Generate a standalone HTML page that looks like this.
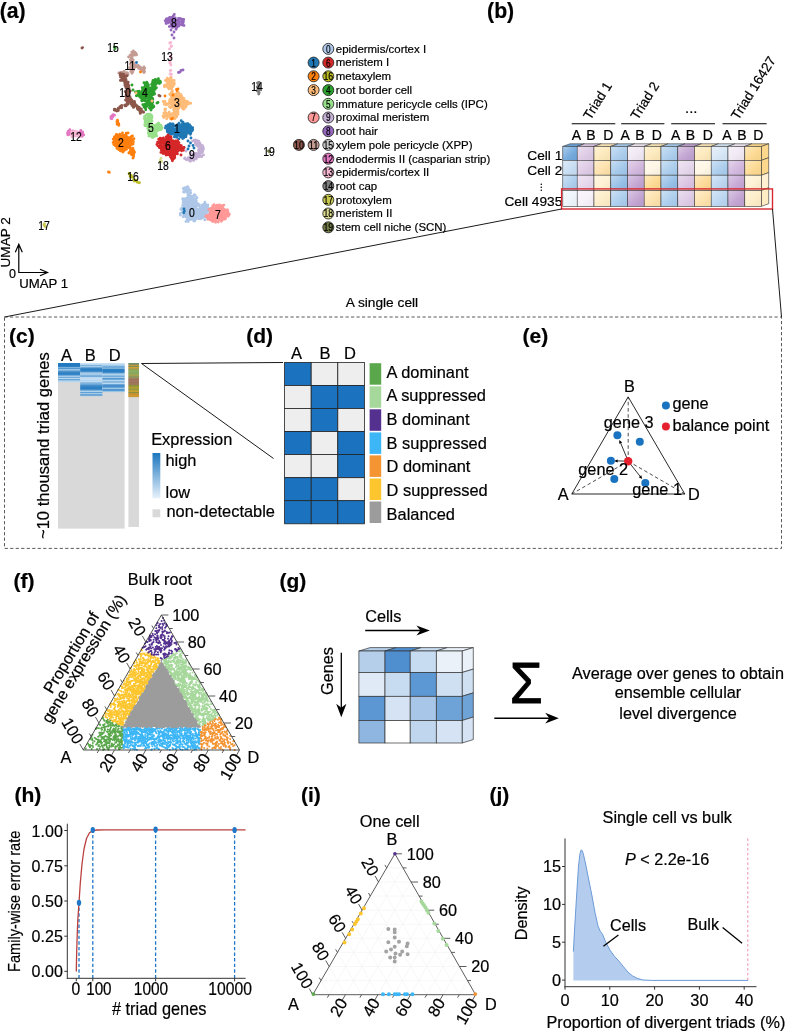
<!DOCTYPE html>
<html lang="en">
<head>
<meta charset="utf-8">
<title>Figure</title>
<style>
html,body{margin:0;padding:0;background:#fff;}
body{width:786px;height:1033px;overflow:hidden;}
svg{display:block;font-family:'Liberation Sans', Arial, Helvetica, sans-serif;}
svg text{stroke:#000;stroke-width:0.2px;}
</style>
</head>
<body>
<svg width="786" height="1033" viewBox="0 0 786 1033">
<rect x="0" y="0" width="786" height="1033" fill="#ffffff"/>
<g id="panel-a">
<text x="-0.3" y="18.1" font-size="21.2" font-weight="bold">(a)</text>
<path d="M171.6 46.1h0M170.3 42.6h0M170.8 42.6h0M171.3 46.5h0M171.2 45.9h0M169.8 43h0M169.5 48.9h0M170.9 56h0M170.9 57.8h0M170.9 65h0M169.9 63h0M170.9 56.8h0M170 63.1h0M169.9 62h0M170.3 63.4h0M170.1 74h0M171 77.2h0M170.2 70.6h0M170.9 70.4h0M171.4 74.2h0M171.1 77.7h0M170.7 74h0" stroke="#f7b6d2" stroke-width="2.9" stroke-linecap="round" fill="none"/>
<path d="M176 24.3h0M171.6 20.2h0M174.6 22.6h0M172.6 24.8h0M175.5 23.7h0M174.4 24.1h0M176.2 24.3h0M174.8 24.2h0M172 25.2h0M165.2 20.7h0M168.9 19.2h0M167.6 22.9h0M166.1 23.6h0M168.5 21.3h0M168.2 22.4h0M167.9 23h0M166.9 21h0M169.1 21.6h0M174.3 22h0M170.6 22.4h0M172.2 22.2h0M174.2 21.3h0M174 21h0M171.4 23.4h0M173.9 23.7h0M172.9 22.8h0M172.6 23.4h0M172.7 17.9h0M172.9 18.6h0M174.6 18.3h0M171.4 17.4h0M171.9 19.1h0M171.5 18.4h0M174.3 14.5h0M170.5 18.2h0M172.5 18.2h0M172.3 19.2h0M175.1 20.3h0M171.3 19.7h0M171.7 19.8h0M168.4 19.2h0M173.3 18.3h0M171.9 21.1h0M173.1 21.8h0M169.8 19.4h0M173.2 16h0M173.2 17.6h0M172.7 17.5h0M172 21h0M171.6 19.7h0M172.8 19.6h0M171.7 21.4h0M173.1 19.1h0M175.3 18h0M182 21.7h0M182.1 21.6h0M179.8 18.8h0M182.6 19.5h0M180.4 18.8h0M183.4 21.7h0M183.7 19.5h0M181.8 19.3h0M182.8 22.8h0M173.1 24.5h0M169.3 26.6h0M171.7 24h0M172.3 25.3h0M173.8 23.4h0M173.3 26.7h0M173.7 24.5h0M170.9 26.1h0M172 24.9h0M179 22.9h0M179.6 24.4h0M182.4 22.6h0M182 24.5h0M182.1 25.1h0M182 24.7h0M184 25.5h0M181.2 24.5h0M179.6 22h0M171.6 25.8h0M173 25.8h0M172.5 26.1h0M175.6 25.9h0M173.9 27.1h0M173 24.2h0M172.5 27.2h0M171.1 25.1h0M174.5 26.9h0M170.7 18.4h0M168.4 19.1h0M171.7 19.2h0M169.3 18.9h0M168.5 19.8h0M168.9 20.4h0M167.4 20.4h0M169.6 17.4h0M171.4 19.6h0M175.8 25.5h0M176.5 27h0M176.3 26.5h0M177.2 26.9h0M176 23.4h0M176.6 27.8h0M175.1 25.5h0M178 23.8h0M176.1 29.2h0M175.3 21.7h0M173.6 23.1h0M171.7 21.8h0M173.3 23h0M172.8 21.6h0M171.6 21.4h0M174 22h0M171.8 20.8h0M176.3 23.4h0M170.4 20.4h0M168.1 20.5h0M165.6 21.2h0M168.6 18.9h0M169.9 22.2h0M166.4 19h0M168.6 20.1h0M167.7 18.6h0M170.9 21.2h0M178.9 26.1h0M179 25.8h0M175.5 25.1h0M173.8 23.8h0M176.6 25.5h0M175.7 24.6h0M177.2 25.3h0M177.5 25h0M176.2 25.8h0M177.8 20.1h0M178.5 20.3h0M178.7 20.3h0M178.5 18.4h0M179.2 21.4h0M179.2 19.8h0M179.2 18.8h0M176.2 20.1h0M177.4 21h0M174 32h0M172 35h0M174 38h0M171 30h0M183 23h0" stroke="#9467bd" stroke-width="2.9" stroke-linecap="round" fill="none"/>
<path d="M114.5 47.2h0M115 48.6h0" stroke="#2ca02c" stroke-width="2.9" stroke-linecap="round" fill="none"/>
<path d="M82 48h0M82.6 47.6h0" stroke="#8c564b" stroke-width="2.9" stroke-linecap="round" fill="none"/>
<path d="M132.2 52.6h0M131.8 54.5h0M133.1 54.1h0M134 54.7h0M132.5 54.6h0M134.2 54.9h0M133.6 52.9h0M131.9 52.4h0M132.8 52.3h0M132 53.9h0M133.4 51.2h0M132.3 54h0M131.8 52.2h0M133.2 51.4h0M133.7 53.6h0M134.1 52.5h0M134.2 53.1h0M133.6 52.6h0M133.1 53.2h0M132.3 51.9h0M133.4 51h0M134.1 54.7h0M135.4 54.1h0M134.6 52.8h0M136.6 54.7h0M135.9 53.3h0M134.6 52.3h0M135.6 55.1h0M132.9 61.7h0M129.7 67.8h0M131.5 65.8h0M132.3 56.4h0M132.3 55.5h0M130.5 64.4h0M133.9 63.4h0M130.4 67.7h0M133.6 67h0M132.5 59.7h0M132.4 69.3h0M130.8 71.6h0M130.9 61.3h0M131.5 65.1h0M131.5 59.5h0M131.5 60.1h0M131.3 57.8h0M131.4 65.9h0M130.4 64.1h0M132.2 56.5h0M132.2 71.5h0M133.1 60h0M131.6 63.5h0M132.4 72.6h0M128.6 57h0M132.2 56h0M131.7 69.2h0M131.7 70.3h0M130.2 55.1h0M132.3 61h0M131.7 60.3h0M132.2 67.2h0M131.4 68.2h0M130.8 60.8h0M131 71.4h0M131.7 62.6h0M132.1 55.9h0M132 71.8h0M132.2 64.8h0M133.6 69.8h0M134.3 64.2h0M131.7 64h0M130 68.1h0M131.7 66.3h0M132.9 71.7h0M131.1 62.7h0M131.9 73.3h0M130.5 59.7h0M132 58.5h0M131.1 70.4h0M144.2 69.5h0M135.6 66.1h0M138 67.1h0M134.7 65.4h0M140.6 69.3h0M138.6 68.3h0M134.2 67.9h0M133.8 65.6h0M142.8 70.1h0M135.6 66.9h0M144.7 68.1h0M135.8 65.4h0M141.6 69.7h0M132.2 66.4h0M143.9 67h0M136.9 66.6h0M138.2 65.4h0M140.2 67.2h0M138.3 67.2h0M142.1 71.1h0M140.3 68.7h0M135.5 65.1h0M136.2 66.1h0M139.3 68.4h0M140.9 68.1h0M140 66.9h0M142.1 69.5h0M138 65.9h0M122.9 72.8h0M124.4 73.7h0M125.6 73h0M118.8 73h0M125.7 75.1h0M125 73.5h0M127 75.7h0M121.4 74.1h0M122.8 72.2h0M120.9 73.4h0M125.5 73.2h0M123.2 75.4h0M120.6 72.4h0M124.2 71.5h0M127.9 73.4h0M122.9 74.8h0M127.2 73.8h0M121.8 73.4h0M121.3 72.4h0M122.7 72.6h0M127.9 74.8h0M126.9 72.7h0M140.4 69.3h0M144 72.5h0M144.5 71.8h0M143.5 71.2h0M142.8 69.8h0M141.7 68.1h0" stroke="#c49c94" stroke-width="2.9" stroke-linecap="round" fill="none"/>
<path d="M136.5 62.5h0" stroke="#1f77b4" stroke-width="2.9" stroke-linecap="round" fill="none"/>
<path d="M140.5 72h0" stroke="#ff7f0e" stroke-width="2.9" stroke-linecap="round" fill="none"/>
<path d="M112.3 117.3h0M111.8 118.1h0M112.7 115h0M112.7 116.9h0M111.8 118.8h0M114.5 115.3h0M112.5 116.3h0M112.8 115.7h0M111.4 116.1h0M110.9 117.1h0M111.7 116.1h0M113.8 114.9h0M113.1 114.6h0M111 118.6h0" stroke="#e377c2" stroke-width="2.9" stroke-linecap="round" fill="none"/>
<path d="M118.9 125.3h0M117.8 121h0M117.6 124.4h0M116.9 121.8h0M118.7 123.6h0M117.5 120.2h0M117.1 124.2h0M117.3 121.7h0" stroke="#ff7f0e" stroke-width="2.9" stroke-linecap="round" fill="none"/>
<path d="M124 74.7h0M120.4 80.4h0M124.8 82.4h0M125.9 81.8h0M125.4 77.4h0M127.6 85.2h0M123.9 78.7h0M126.1 80.5h0M125.4 84.7h0M126.5 83.1h0M124.3 80.5h0M124.4 79.1h0M121.7 76h0M124.2 76.5h0M125.8 83.2h0M123.5 74.9h0M123.4 75.5h0M124.4 80.2h0M122.4 74.7h0M122.3 80.4h0M122.4 77.3h0M127 75.7h0M124.5 80.3h0M125.8 76.5h0M124.7 77.9h0M125.7 84.8h0M120.3 73.6h0M128.1 85.9h0M123.1 78.4h0M120.5 77h0M120.2 75.4h0M127.1 86.2h0M128.2 85.1h0M123.4 74.1h0M124.8 83.2h0M123 75h0M125.4 76.8h0M123.2 77.5h0M124.1 80.7h0M122.8 74.2h0M120.2 73.7h0M122.5 73.9h0M123.3 80.6h0M122 78.5h0M123.4 77.9h0M126 79.5h0M124.7 82.1h0M125.1 83.6h0M124.9 80.1h0M125.3 79.9h0M129.3 92.6h0M126.8 83.1h0M129 92.7h0M128 89.8h0M130 97.7h0M129.1 100.5h0M130.3 91.1h0M127.9 83.7h0M125.8 86.8h0M128 85.9h0M128.8 98.3h0M128.2 99.7h0M127.4 92.4h0M128.8 89.5h0M128.3 94.4h0M129 97.6h0M126 96.2h0M125.2 91.6h0M128.9 85.6h0M127.7 89.3h0M126.9 99.3h0M127 96.5h0M130 96.6h0M124.9 85.2h0M127 92.4h0M127.7 84.2h0M126.2 94.5h0M128.5 99h0M127.7 94.5h0M128.3 90.4h0M125.7 86.7h0M126.2 86.2h0M128 85.8h0M128.7 87.4h0M128.1 96.6h0M129.1 88.4h0M126.5 94.5h0M129.4 90.3h0M127.6 87.8h0M126.7 93h0M127.1 84.7h0M128.2 92.6h0M126 86.2h0M128 93.5h0M127.2 89.3h0M128.3 96.2h0M128.2 82.3h0M127.4 90h0M128 88.2h0M125.9 86.5h0M128.9 93.4h0M126 87.8h0M126.8 96.5h0M128.5 94.1h0M128.9 98.2h0M127.1 84.7h0M126.5 98.3h0M127.5 92.1h0M127 92.3h0M125.5 100.1h0M139.3 107.5h0M137.9 108.4h0M130.8 100.8h0M141.8 111.9h0M130.6 99.1h0M130.5 100.2h0M137.2 107h0M140.5 109.7h0M134.4 101.4h0M143.6 112.3h0M142.3 111.5h0M131.3 101.3h0M141.4 109.1h0M139.7 109.6h0M131.1 100.7h0M130.5 102.2h0M128.3 99.3h0M138 109.5h0M140.1 112.4h0M138.5 107.5h0M134.7 103.5h0M137.8 108.4h0M142.8 112.1h0M131.4 100.6h0M139.5 109.4h0M133.2 105.5h0M129.7 100.8h0M140.3 113.4h0M132.7 104.1h0M136.8 106.6h0M129.7 97.4h0M139 109h0M132 105.6h0M129.5 99.1h0M130.9 103.7h0M133.7 107.2h0M130.1 101.9h0M139.3 107.6h0M132.9 103.8h0M139.6 109h0M128.6 101.3h0M137.6 107.6h0M141.3 112.1h0M131.9 100.3h0M130.8 101.1h0M132.2 102.8h0M134.1 105.9h0M141.4 110.8h0M127 101.8h0M139.8 108.6h0M130.6 100.5h0M130.9 101.3h0M134.5 102.2h0M134.6 104.5h0M129.2 99.4h0M140.2 108.4h0M136.6 105.4h0M131 99h0M138.9 107.4h0M137.4 107.2h0M132.3 102.3h0M134.7 102.4h0M137.4 108.7h0M133.9 104h0M138.8 107.8h0M138 106.6h0M135.7 105.3h0M137.3 107.9h0M141.6 112h0M134.8 106.1h0M134.2 104h0M133.4 107.4h0M130.7 100.1h0M141.9 111.8h0M134.2 103.7h0M135.2 104.1h0M134 103.2h0M132.3 103.9h0M141.3 112h0M139.4 110.5h0M127.3 102.4h0M118.4 108.3h0M126.4 104.6h0M120.1 106.6h0M121.7 107.8h0M127.5 103.3h0M116.1 110.7h0M124.7 105.3h0M128.8 102.3h0M125 105.9h0M121.7 105.4h0M125.2 105.1h0M129.1 101.7h0M118.3 110.6h0M119.6 108.1h0M114.3 110h0M127.9 104.3h0M117.1 109.6h0M115.6 109.7h0M114.4 109.1h0M120.2 107.4h0M116.9 111h0M121 106.3h0M115.1 109.8h0M126.2 105.7h0M127.6 103.6h0M120.5 106.9h0M117.8 110h0M120.8 106.2h0M115.7 110.4h0M159 95.5h0M160 96h0" stroke="#8c564b" stroke-width="2.9" stroke-linecap="round" fill="none"/>
<path d="M151.3 94.2h0M147.8 90.7h0M147.2 97.6h0M147.5 93.8h0M149.6 93.6h0M148.9 91.8h0M147.7 96.4h0M148.1 95.1h0M146.7 93.5h0M139.5 96.5h0M141.7 94.5h0M141.9 94.3h0M139.9 95.6h0M137.1 95.5h0M139.6 93.4h0M140.5 96.8h0M140.5 97.5h0M139.4 93.7h0M153.3 90.5h0M153.1 90.2h0M153.9 89.1h0M150.7 87.9h0M153.8 89h0M150.5 88.7h0M151.4 88.2h0M151.7 89.2h0M151.3 88.7h0M146.4 85.9h0M146.7 82.3h0M145.4 84.4h0M147.4 83.2h0M145.1 85.1h0M145.7 87.1h0M145.6 87h0M144 82.8h0M148 86.2h0M152.7 90.5h0M152.7 91.4h0M148.3 89.4h0M153 91.1h0M150.7 91.6h0M150.6 90.5h0M151.4 91.5h0M153.5 91.4h0M154.1 94h0M146.8 86.9h0M149.3 88.7h0M146.2 85h0M146.8 87.2h0M145.2 86.2h0M143.5 88.7h0M146.8 91.7h0M146.8 87.6h0M149 88.1h0M146.8 101h0M144.8 98.5h0M144 99.9h0M143.2 99.3h0M147 100.6h0M143.9 100.1h0M144.2 97.3h0M143.3 100.2h0M147.8 97.6h0M148.8 91.6h0M144.3 87.4h0M144.1 91.9h0M147.9 89.7h0M144 89.3h0M142.3 91.5h0M143.5 91.7h0M142.5 88.2h0M145.5 88.9h0M146.9 92.6h0M148.4 96.2h0M146.8 92.6h0M144.6 94.9h0M147.3 93.2h0M144.3 92.4h0M145.3 96h0M143.1 94.5h0M146.4 97.8h0M148.2 94.9h0M149.1 97.2h0M149.6 93.1h0M151.5 96.1h0M149.4 93.6h0M146.4 93.2h0M150.6 93.5h0M147.2 95h0M149.6 95.6h0M141.9 100.9h0M141.7 100.5h0M143.4 99.8h0M144.6 99.4h0M144.8 100.7h0M143.3 98.6h0M142 98.6h0M142.8 99.4h0M147.6 100.4h0M150.2 89.1h0M151.6 88h0M153.7 88.7h0M152.9 86h0M151.3 90h0M151.6 90.4h0M151.7 89.8h0M148.4 88.5h0M147.8 90.5h0M149.3 93.7h0M146.4 93.1h0M144.1 88.2h0M145.8 89.8h0M145.7 91.4h0M151 90.2h0M146.6 91.6h0M146.5 92.5h0M149.2 89.3h0M149.5 89.8h0M152.9 93.6h0M152.3 89.7h0M151.6 92.2h0M150 91.9h0M153.2 94.1h0M152.1 94.1h0M151.2 93.4h0M152.2 94.1h0M149.8 88h0M147 90.7h0M148.5 84.9h0M147.4 88.5h0M149.2 89.2h0M147.6 85.5h0M145.1 87.7h0M147.2 85.7h0M145.8 86.7h0M151.5 94.4h0M149.5 93.5h0M150.3 93h0M150.4 90.8h0M150.5 93.5h0M148.3 94.9h0M152.8 94.7h0M152.6 93.1h0M149.1 91.1h0M143.7 91.9h0M140.7 94.4h0M147.1 90.9h0M144.7 91.6h0M144.1 90.6h0M143.5 89.7h0M144 90.9h0M144.2 89.6h0M143.8 91h0M151.8 91.9h0M152 89.9h0M150.4 90.1h0M152.2 92.7h0M150.9 89.5h0M151.7 90.7h0M149.8 89.3h0M151 91.4h0M149.4 88.9h0M151.5 91.9h0M151.2 89.8h0M151.3 90.9h0M151.9 90.1h0M153 88.9h0M151.1 91.4h0M152.8 90.5h0M152.2 90.5h0M152.5 94h0M139.6 91.9h0M142.8 90.5h0M139.2 91.1h0M142.7 92.1h0M142.2 87.7h0M139.9 92.6h0M139.1 92.2h0M143.8 91.6h0M142.6 90h0M146.2 93.7h0M147.5 93.5h0M146.8 94.4h0M146.5 96.5h0M147.1 93.9h0M146.2 92.8h0M148.5 94h0M144.9 92.9h0M146.3 93.1h0M154.2 92.7h0M151.7 92.6h0M153.3 93.3h0M152.8 93h0M150.9 90.9h0M154.6 94.1h0M153.4 91.6h0M155.1 89.4h0M152.2 93.5h0M148.4 92.5h0M151.5 89h0M151.3 91.7h0M147.4 92h0M152.4 87.2h0M152.4 87.7h0M153 90.9h0M154.6 89.4h0M151.3 91.9h0M146.2 90.2h0M145.1 91.1h0M147.5 90.5h0M149.3 89.9h0M148.7 89.5h0M147.8 87.5h0M147 90.1h0M146 89.4h0M146.2 89.3h0M149.7 97.8h0M148.9 98.4h0M151.7 98.3h0M149.8 100.7h0M152 100h0M152.3 98.1h0M150.3 100.3h0M149.7 98.4h0M151.1 99.2h0M141.8 95.5h0M143.7 95.4h0M143.2 92.7h0M140.1 93.5h0M142.8 96.7h0M140.3 94.9h0M140.8 93.3h0M141.7 95.4h0M142.4 96.2h0M146.5 95.9h0M145.8 95h0M143.4 95.2h0M144.1 100.2h0M144.3 98.3h0M145.4 96.3h0M146.2 94.7h0M146.4 96.4h0M142.8 96.7h0M140.1 93.3h0M138.5 95.1h0M136.4 95.7h0M135.5 92h0M138.5 92.3h0M137.5 91.5h0M137.8 92.2h0M138.2 91.6h0M138.4 93.5h0M146.9 91.9h0M149.3 91.2h0M151.3 88.9h0M149.6 91h0M149.1 92.4h0M150.5 90.7h0M149.2 93.1h0M149.7 92.8h0M151.4 89h0M146 93.9h0M146.7 94.3h0M144.9 92.5h0M146.6 92.1h0M147.1 90.4h0M146.5 92.5h0M142.5 94.2h0M145.9 92.8h0M143.9 92.1h0M149.3 99.4h0M150.6 98.3h0M149.9 101.2h0M149 102.6h0M150.3 98h0M152.3 100.5h0M149.6 100.8h0M148.4 98.2h0M152.8 99.3h0M147.6 95.7h0M143.6 95.2h0M146.9 96.9h0M149 95.4h0M145.5 95.7h0M148.1 94.3h0M148.2 91.6h0M147.5 94.7h0M146.9 96.8h0M146.6 94.3h0M144.8 92h0M143.3 97.3h0M145.9 93.1h0M144 94.8h0M145.4 95.6h0M147.5 93.5h0M147.3 91.8h0M145.7 92.6h0M146.2 96.4h0M141.4 93.2h0M145.1 93.5h0M147.1 94.8h0M146.5 93.5h0M147.2 94.8h0M143.7 93.8h0M144.4 92.4h0M146.7 94.3h0M157.6 79.8h0M158.3 81.7h0M159.9 82.4h0M156.8 80.4h0M156.7 81.3h0M160.2 81.8h0M155.2 79.4h0M155.2 84.2h0M157.3 82.9h0M154.1 86.2h0M155.6 82.9h0M152.7 82h0M152.2 83.9h0M155.2 85h0M156.2 83h0M154.9 80.9h0M157.1 81.4h0M156.6 81.3h0M158 80.5h0M156.5 80.4h0M155.9 80.4h0M155.2 83h0M153 82.1h0M153.9 82.3h0M153.6 81.7h0M153 80.5h0M154.6 83h0M154.4 81.9h0M155.9 84.2h0M154.5 86.4h0M153.5 87h0M156.4 87.7h0M154.8 84.8h0M155.1 85h0M155.4 84h0M159.1 82.2h0M159 81h0M160.1 81.1h0M158.2 81.4h0M159.4 83.6h0M158.4 82.7h0M158.7 81.1h0M154.5 83.7h0M152.7 83.2h0M154.7 82.5h0M152.6 82.6h0M153.4 82h0M153.2 82.4h0M154.8 82.9h0M154.9 82.4h0M154.9 82h0M153.8 84.3h0M154.9 83.9h0M152.5 82.6h0M151.6 84.5h0M152.8 82.7h0M158.1 80.1h0M160.6 82.4h0M158.4 78.8h0M159 80.8h0M159.1 81.4h0M158.2 81.8h0M159.6 80.9h0M150.6 102.3h0M149.6 102.7h0M148.1 104.3h0M149.7 103.6h0M150.8 101.8h0M149.7 103.9h0M150.7 102.3h0M145.7 109.8h0M145 106.7h0M144.6 106.1h0M145 105h0M144.9 107.8h0M146.2 106.8h0M146.7 106.5h0M149.7 106.5h0M152.4 108.1h0M149.4 108.1h0M151.2 107.2h0M150.7 107.1h0M150 105.4h0M150.5 109h0M151.8 106.1h0M153.8 106.7h0M152 106.7h0M152.5 106.9h0M152.2 104.6h0M152.8 107.2h0M151.4 106.2h0M151.7 107h0M153.4 105.8h0M151.3 106.5h0M150.5 104h0M153.3 106.2h0M151.3 103.8h0M152.7 102.4h0M144.5 104.9h0M145.9 104.6h0M145.6 106h0M144.5 104.4h0M144.4 105.4h0M144.6 104.8h0M145.2 104.3h0M146.3 106.6h0M145.8 107.7h0M144 107.1h0M144.6 106.8h0M146.3 106h0M142.8 104.8h0M144.2 106.1h0M148.3 103.7h0M146.8 102.5h0M146.9 104.9h0M147.8 101.1h0M147.2 105.2h0M147.2 101.6h0M145.9 104h0M132 85h0M133 90h0M157 103h0M158 102.5h0M151 110h0" stroke="#2ca02c" stroke-width="2.9" stroke-linecap="round" fill="none"/>
<path d="M170.5 83.4h0M169.9 84h0M171.6 82.6h0M169.9 81.5h0M172.5 80.4h0M174.2 80.4h0M170.1 82.3h0M172.2 83.1h0M169.4 79.1h0M166.4 81h0M170 80h0M168.9 80.1h0M169.6 79.7h0M171 77.7h0M170 78.5h0M169.3 81.7h0M168.4 84.4h0M167.9 81.1h0M169.8 82.8h0M168.7 84.6h0M168 82.7h0M169.3 83.7h0M168.5 84.5h0M171.9 82.7h0M172.9 84.8h0M171.9 83.6h0M172.2 86.8h0M174.1 84.8h0M172 84.3h0M171.2 87.5h0M173.5 85.3h0M172.1 83.9h0M164.5 86.8h0M164.3 86.4h0M164.5 85.1h0M166.3 86.1h0M166.9 84.6h0M167.7 87.3h0M165.7 86.2h0M164.7 85.4h0M169.2 86.2h0M170.1 85.6h0M168.5 84.3h0M168.5 84.8h0M166.5 85.5h0M167 83.9h0M168.9 83.9h0M171 84.4h0M169.8 80.3h0M168.2 80h0M168.2 80.3h0M168.2 82h0M169.9 80.9h0M168.4 81.8h0M167.8 79.4h0M169.5 79.5h0M174.3 83.3h0M173 86.5h0M170.8 86.5h0M170.9 82.4h0M172.9 85.5h0M171.7 81.5h0M171.9 84.2h0M171.5 84.3h0M171.6 89h0M168.9 86.1h0M169.9 88.4h0M170.3 85.6h0M169.6 87.2h0M171.2 88.5h0M170 88.5h0M168.9 88.9h0M169.2 79.3h0M167.2 78.2h0M168.3 80.4h0M167.6 81.1h0M165.4 80.4h0M168.2 80.1h0M169 82.6h0M167.5 79.3h0M176.6 94h0M177.1 93.7h0M176.9 95.8h0M176.4 98.3h0M175.3 95h0M176.4 96.5h0M173.8 95.6h0M174.6 96.1h0M177.7 95.3h0M176.3 107h0M174.9 105.8h0M175.3 108.6h0M175.4 108.7h0M171.8 106.1h0M175.9 106.8h0M173.1 105.9h0M177.3 104.9h0M174.1 105.2h0M175.2 94h0M176.5 96.1h0M173.5 99.3h0M174.2 95.2h0M173.4 95.9h0M172.9 96.5h0M175.6 97.4h0M172.4 101h0M172.9 97.1h0M172.4 96.9h0M176 96.4h0M171.4 96.8h0M171.8 95.8h0M173.2 96.8h0M172.5 97.5h0M172.6 94.4h0M174.2 95.8h0M174.7 95.3h0M175.4 108.9h0M174.2 108.1h0M178.5 107.5h0M177.9 106.1h0M177 107.1h0M177.6 107.8h0M176.7 105.8h0M176.2 107.4h0M174.6 105h0M177.4 91.9h0M177.3 95.4h0M178.9 92.9h0M177.3 96.4h0M178.5 97.5h0M179.3 94.2h0M178.7 95.3h0M176.6 98h0M176.9 94.5h0M179.6 98.3h0M180.2 98.3h0M177.3 99.2h0M177.2 97.1h0M177.9 97.8h0M179.9 96.9h0M178.7 97.7h0M176.3 96.1h0M177.8 98.3h0M171.9 94.4h0M172.5 93.5h0M169.9 94.5h0M169.8 94.3h0M170.8 94.2h0M171.8 93.8h0M171.3 92.5h0M172.1 93.7h0M172.5 90.9h0M171.9 96.4h0M175.6 97h0M173.3 97.2h0M175.7 95.5h0M176.5 96.8h0M175.5 96.2h0M176.2 97h0M177.1 97.5h0M174.5 96.6h0M181.8 98.9h0M181 94.7h0M181.5 98.4h0M181.5 97h0M183 97.9h0M180.4 97.1h0M181.8 96.5h0M179.8 101h0M183.2 99.6h0M168.3 103.8h0M172.6 102.7h0M167.9 103.8h0M172.8 101.3h0M171 103.2h0M170.7 103.6h0M170.9 103h0M170.9 99.9h0M169.3 106.6h0M174.3 103.5h0M173.4 100.1h0M172.6 98.2h0M172.3 102.3h0M169.5 101.3h0M173.8 102.9h0M171.3 100h0M169.9 99.5h0M173.4 104h0M174.9 103.2h0M177.5 100.2h0M174.2 104.2h0M177.4 106.5h0M177.6 104.1h0M175.8 105.9h0M175.1 104.4h0M174.1 103.3h0M172.5 106.8h0M179 105.3h0M178.9 108h0M178.4 105h0M177.5 105.3h0M178 105.6h0M183.2 105.9h0M177.3 108.2h0M179.9 106.5h0M179.6 106.5h0M173.6 104.6h0M171.4 102.6h0M171.1 104h0M173.4 101.9h0M173 106.4h0M174 101h0M172 103.5h0M172.1 103.2h0M173.9 103.1h0M174.8 101h0M174.1 98.8h0M173.1 100.3h0M173.3 96.8h0M176.6 99.1h0M173.8 101.6h0M171.4 102.8h0M173.8 101.8h0M174.2 101.2h0M177.2 108h0M176.5 106.7h0M177.5 106.7h0M178.7 103.8h0M177.7 105.7h0M176.8 104.7h0M176.1 104.5h0M175.7 109.6h0M179.8 106h0M176.2 97.5h0M180.4 102.2h0M180.2 98.7h0M179.9 98.7h0M178.2 99.8h0M179.7 99h0M178.9 98.8h0M180.6 102.2h0M179.9 103.4h0M174 102.9h0M175.8 103.9h0M177.3 102.3h0M173.9 102.8h0M176.1 102.1h0M177 105.6h0M173.6 103.6h0M177.2 100.3h0M176 102.8h0M174.9 103.9h0M175.2 105.6h0M175.7 105.5h0M175.2 102.9h0M174 104.8h0M170.5 107.8h0M174 103.1h0M171.9 105h0M174.6 103.8h0M177.1 98h0M177.2 99.1h0M178 98.3h0M178.8 100h0M179 98.5h0M177.9 97h0M177.7 99.1h0M178.5 97.6h0M176.2 95.9h0M173 96.9h0M172.1 99.2h0M171.1 99.4h0M172.1 97.7h0M170.6 100.1h0M172.9 97.6h0M170.9 100.2h0M173.3 98.5h0M174.7 98.5h0M183.1 104.6h0M183.4 102.9h0M181.8 103.9h0M185.1 102.9h0M185.1 104.4h0M181.9 104.5h0M184.1 103h0M180.7 104.6h0M181.5 102.2h0M182.9 100.5h0M183.7 102.6h0M183.3 100.9h0M184.2 100.2h0M184.6 103h0M186.1 103.5h0M184.4 102.7h0M188.6 103.8h0M186.4 101.7h0M188.7 103.8h0M185.3 104h0M189.2 103.1h0M187.3 102.6h0M186 104.5h0M190.7 103.3h0M182.1 101h0M183.5 98.8h0M181.1 100h0M183.5 100.5h0M184 98.4h0M183.1 99.3h0M182.6 100.5h0M181.2 99.8h0M183.1 101.8h0M184.5 101.6h0M185.6 101.6h0M185.2 102.7h0M182.9 102.1h0M183.1 101.9h0M183.8 104.7h0M183.6 104.4h0M184.3 104.3h0M184.7 104.3h0M188.5 103.9h0M187 103.1h0M187.5 103h0M186.5 103h0M188.7 102.6h0M187.7 102h0M185.8 105.1h0M186.4 103.6h0M186.8 103.8h0M186.5 104.6h0M186.7 101.1h0M184.4 105.2h0M185.9 107.1h0M185.8 103.6h0M182.9 105.1h0M180.3 105.4h0M179.5 103.9h0M179.8 104.2h0M181.5 103.9h0M180.9 103.8h0M181.6 101h0M180.2 104.7h0M183.7 105.5h0M184.6 104.7h0M183.2 102.5h0M183.1 103.3h0M183.7 103.3h0M187.3 101.9h0M184.9 103.3h0M183.1 105.1h0M187.3 102.2h0M184.2 102.7h0M185.4 101.5h0M187.4 102.8h0M186.4 105.2h0M187.3 101.7h0M187.1 102.3h0M184 100.5h0M182.9 106.6h0M182.4 108.2h0M183.1 109.1h0M184.1 109h0M183 107.4h0M182.6 106.7h0M180.9 106.2h0M181.9 106.1h0M181.8 103.7h0M181.5 103.9h0M179.5 103.6h0M179.9 102h0M181.8 105.3h0M179.1 104.8h0M181.3 101.6h0M180.6 103.1h0M173 115.2h0M172.8 115.6h0M170.7 114.2h0M172.4 115.5h0M172.1 114.9h0M172.1 116.9h0M169.2 114.2h0M175 114.5h0M170 115.2h0M172.1 118.2h0M172.4 116.9h0M173.1 116.3h0M170.8 115.9h0M172.3 115.7h0M171 115.6h0M170 114.8h0M175 112.7h0M175.3 110.9h0M173.5 109.6h0M175.4 109.8h0M175.5 109.6h0M175.1 110.8h0M176.2 110.4h0M174.5 111.2h0M168.1 115h0M168 116.2h0M168.7 116.5h0M166.7 118.7h0M170.7 115.6h0M166.9 115.8h0M168.9 112.8h0M168.4 113.8h0M169.1 113h0M169.5 116h0M167.3 115.5h0M169.7 114.5h0M167.8 114.2h0M169.2 112.2h0M169.6 113.7h0M168.9 112.8h0M174.3 111.5h0M174 112.8h0M174.8 113.2h0M173.9 113.3h0M175.5 113.1h0M173.2 116h0M173.4 114.4h0M172.3 113.8h0M171.1 115h0M170.1 118.3h0M172.4 115h0M174.2 116h0M171.4 117.2h0M170.5 114.8h0M171 118.3h0M173.1 114.9h0M165.7 114h0M165.6 112.7h0M163.9 113h0M164.6 114.7h0M163.5 115.9h0M164.3 113.2h0M165.9 114.5h0M164.6 112.6h0M175.7 117.5h0M176.6 116.8h0M174.7 117.1h0M175.4 115.8h0M174.7 118.8h0M172.1 114.4h0M173 117.1h0M175.7 115.7h0M176.6 111.6h0M178 114.4h0M174.4 112.3h0M176.6 112.8h0M178 112.6h0M177.6 110.4h0M174.5 113.7h0M178.1 110.4h0M163 116h0M164.8 116.3h0M165.2 113.9h0M164.1 114.6h0M167.3 114h0M163.7 117.6h0M168.4 115.7h0M165.4 113.4h0M172.9 114.4h0M171.3 115.4h0M170.9 116.4h0M173.9 115h0M172.3 117.1h0M170.9 115.6h0M169.6 117.1h0M170.6 114.9h0M165.1 110.2h0M166.5 104.9h0M165 108.9h0M165.1 110.2h0M165.8 104.3h0M165.6 109.1h0M163.2 101.5h0M165 101.4h0M165.9 104h0M167.4 104.1h0M164.3 104.3h0M164.7 103.2h0M165 102.2h0M165.9 104.5h0M136 93h0M152 101h0" stroke="#ffbb78" stroke-width="2.9" stroke-linecap="round" fill="none"/>
<path d="M176.5 89.5h0M178 89h0M177 90.5h0M173 95h0M171.5 119h0M172.5 118.5h0M165 96h0" stroke="#ff7f0e" stroke-width="2.9" stroke-linecap="round" fill="none"/>
<path d="M178.5 72.5h0M181 70.5h0M183 70h0M180 72h0" stroke="#9467bd" stroke-width="2.9" stroke-linecap="round" fill="none"/>
<path d="M145.5 121h0M146.7 123.6h0M147.1 121.3h0M145.1 122.1h0M147.1 121.7h0M145 125.2h0M145.9 122.7h0M146.3 122.1h0M148.4 122.8h0M150.3 121.2h0M152 120.9h0M150.5 118.1h0M148.3 121.5h0M151.4 120.9h0M148.2 117.3h0M149 118.6h0M152.1 117.6h0M149.2 119.6h0M150.4 117.2h0M151.1 121.1h0M148.3 118.1h0M148.5 115.8h0M150.8 119.4h0M151.3 119h0M146.6 121.4h0M146 124.1h0M147.1 125.7h0M148.2 120.4h0M148.7 124.7h0M147.6 121.4h0M149.9 121.2h0M147.4 120.4h0M150.3 124.9h0M148.3 121.4h0M148.8 123.8h0M146.8 121.7h0M148.7 124.2h0M148.9 123.9h0M147.1 119.9h0M149.3 122h0M150 114.2h0M151.3 115.3h0M150 116.1h0M150.7 115.8h0M146.9 114.4h0M151.8 115.9h0M150.1 115.9h0M148.4 114.3h0M146.5 122.6h0M146.7 122.8h0M146.6 118.6h0M148.4 120.6h0M147.6 120.5h0M145.5 120.4h0M144.4 118.5h0M144.8 119.5h0M148 123.2h0M150.1 120.3h0M148.8 120.1h0M148.1 120.3h0M146.9 120.5h0M145.6 121h0M147.2 118.9h0M147.1 121.1h0M147.4 119.5h0M145.1 117.2h0M147.3 119.4h0M147 118.4h0M144.6 116.5h0M148.9 116.9h0M149.6 116.3h0M146.2 115.1h0M149.4 122.1h0M150.5 122.5h0M150.7 120.7h0M150.3 121h0M147.7 123.2h0M150 119.3h0M150 121.2h0M150.9 122.8h0M149.4 123.1h0M144.7 124.8h0M147.7 124.9h0M145.7 123.8h0M147.5 125.4h0M150.3 124.8h0M146.4 121.1h0M148.7 124.2h0M150.6 115.9h0M149.7 118.5h0M150 120.2h0M149.5 118.5h0M150.8 116.2h0M149.2 118.4h0M150.9 117.2h0M150.7 118.9h0M152.9 134.9h0M155.3 135.7h0M156.2 133.8h0M156.6 135.9h0M155.7 135.4h0M153.1 135.2h0M153.5 132.9h0M154.5 134.9h0M154.9 134.2h0M150.1 126.7h0M151.4 131h0M150.6 127.2h0M153.3 131.3h0M150.8 128.5h0M151.6 133.2h0M151.4 130.3h0M151.9 126.1h0M149.6 126.9h0M152.1 132.3h0M151.2 132.7h0M150.4 133.5h0M150.2 132.5h0M152.5 132.8h0M151.2 135.7h0M151.1 134.8h0M152.3 134.8h0M152.8 131.1h0M152 134h0M151.8 132.5h0M154.5 134.3h0M152.9 133.7h0M153.9 134.1h0M154.1 133.7h0M155.4 131.6h0M153.3 134.2h0M153.5 133.2h0M151.3 124.8h0M149.1 125.7h0M149.1 122.2h0M149.9 124.6h0M148.6 126.1h0M149.5 124.3h0M146.2 122.5h0M149.5 124.9h0M150.1 125.5h0M152.6 130.4h0M152.6 131.8h0M152.3 128h0M154 128h0M156.7 129.2h0M154.2 130.3h0M153.1 128h0M151.5 131.9h0M155.8 133.9h0M152.4 134.2h0M151.7 134h0M153.8 133.8h0M154.6 132.7h0M154.8 131.9h0M154.9 128.8h0M152.5 131.7h0M152.4 134.5h0M153.5 133.1h0M152.2 131h0M152.2 132.4h0M153.9 135.9h0M150.9 136.1h0M150.4 135.5h0M152.6 134h0M149.6 133.7h0M148.3 133.3h0M148.9 136h0M153.1 136.2h0M151 131.6h0M152.7 137.5h0M151.1 134h0M151.9 133.6h0M152 137.2h0M154.2 136.5h0M152.2 137.2h0M154 135.6h0M151.7 130.4h0M153.4 132.3h0M153.8 131.8h0M153.1 132.4h0M154.9 132.9h0M155.9 131.3h0M153.2 134.3h0M153.9 132.4h0M153.1 133.2h0M153.4 128h0M154.8 128.1h0M153.7 128.3h0M154 127.7h0M155.2 126.5h0M152.9 127.6h0M154.5 128.7h0M154.2 128.1h0M152.4 126.9h0M152.4 125.8h0M153.5 125.1h0M150.9 123.7h0M152.1 125.8h0M154.9 125.5h0M154.6 128.1h0M150.4 127.1h0M153.7 127.3h0M152 126.7h0M150.4 127.5h0M150 126.2h0M150.5 123.7h0M150.7 125.8h0M149.3 125.8h0M149.3 123.5h0M150.7 124.5h0M148.9 122.4h0M150.4 125.2h0M147.3 125.7h0M150.2 125.6h0M148.7 125.3h0M149.8 126.8h0M150 125.5h0M148.5 126.5h0M151.3 124.4h0M150.5 125.6h0M149.5 123.2h0M156.3 129.7h0M157 128h0M157.3 129.4h0M157.8 128h0M156.2 128.2h0M155 129.2h0M156.9 130.9h0M155.8 129.4h0M158 128.6h0M155.2 129.9h0M153.4 127.8h0M153.7 131.4h0M151.8 128.3h0M155.2 131.8h0M155.8 128.8h0M154.4 128.5h0M154.3 129.1h0M153.8 131.7h0M150.6 127.8h0M146.6 123.7h0M147.9 126.8h0M153.3 125.8h0M149.9 127.2h0M146.1 125.2h0M145.1 125.7h0M148.9 124.8h0M150.2 124.6h0M148.6 131.2h0M151.3 129.6h0M151.4 131.8h0M151.9 129.4h0M149.8 131h0M147.7 128.5h0M150.6 130.2h0M152.6 132h0M150.4 130h0M159.4 127.2h0M159.2 128.2h0M158 126.8h0M157 128.8h0M157.9 125.5h0M160 127.2h0M160.3 127.1h0M160.1 125.2h0M156.4 126.4h0M159 124h0M156.9 124.6h0M158.4 126.3h0M156.9 124.4h0M158.5 123.3h0M159.1 124.2h0M159.5 126.2h0M157.6 124.8h0M161.2 126h0M158.5 124.1h0M158.4 123.2h0M160.8 125.2h0M159.6 127.6h0M162.1 127.7h0M160.2 129.5h0M160.9 128h0M157.5 129.9h0M160.8 127.7h0M160 127.1h0M160.6 129.2h0M160.2 129.5h0M160.6 128.7h0M158.9 129.3h0M161.4 129.3h0M161.5 128h0M158.8 130.1h0" stroke="#98df8a" stroke-width="2.9" stroke-linecap="round" fill="none"/>
<path d="M198.4 145.4h0M194.7 140.8h0M199.7 142.9h0M198.7 144.4h0M200.2 145.2h0M199.2 146.8h0M197.6 144.3h0M199.4 145.8h0M192.7 141.1h0M196.8 143.1h0M196 142.3h0M196.2 145.1h0M201.7 147h0M201.4 146.5h0M195.7 143.2h0M196.4 143.9h0M196.1 142.3h0M193.9 140.4h0M197.2 140.6h0M196.1 143.4h0M200.1 146.4h0M195.4 141h0M199.6 148.1h0M201.5 147h0M195.4 139.9h0M199.8 146.5h0M198.2 144.8h0M195.5 142.2h0M198.9 146.1h0M195.2 143.3h0M195 140.6h0M195.3 141.3h0M199.5 144.3h0M196.3 142.2h0M196.3 144.9h0M199.2 142.3h0M199.3 147.1h0M201.3 146.2h0M197.3 142.5h0M198.7 141.1h0M198 144.8h0M196.6 144.1h0M196.7 145h0M197 142.7h0M197.9 146.4h0M200.2 150.3h0M199.9 151.3h0M203.5 149h0M201.3 153h0M199.8 152.5h0M199.7 154.4h0M199.4 149.9h0M201.3 145h0M201.7 151.3h0M201.7 147.6h0M200.9 148.5h0M202 148.2h0M200.6 150.5h0M201.2 146.8h0M201.5 150.5h0M199.9 155.6h0M202.2 150.9h0M202.3 150.2h0M198.5 149.8h0M200.3 153.6h0M201.3 156.4h0M200.7 150.9h0M201.2 150.7h0M199 154.7h0M199.1 153.8h0M201.8 147.7h0M202.6 151.8h0M203 149.7h0M202.3 147.4h0M199.9 150.2h0M200.1 150.3h0M202.2 148h0M201.8 150.4h0M203.3 147.6h0M198.7 152.4h0M199.4 155.7h0M201 149.4h0M198.7 153.7h0M202.3 147.3h0M201.6 156.7h0M198.7 151h0M202.7 146h0M199 152.9h0M200.3 152.5h0M200.7 150.4h0M197.9 156.7h0M196.9 156.1h0M191 159.5h0M195.6 153.1h0M193.3 153.9h0M195.6 155.4h0M196.8 154.9h0M195.4 154h0M191.5 157.2h0M188.4 157.6h0M192.4 159.3h0M193.4 160.1h0M197.3 154.3h0M190.2 158.2h0M194.1 154.7h0M195.3 158.9h0M190.4 161.3h0M186.2 159.6h0M191.7 157.4h0M194.4 158.3h0M195.2 155.2h0M193.6 160.6h0M185 158h0M198.5 154.7h0M191.2 157h0M188.5 159h0M195.8 155.1h0M184.5 158.6h0M193.9 158.9h0M188 159.2h0M195.8 157.6h0M192.5 157.2h0M197.7 157h0M190.5 159.1h0M194 158.9h0M189.2 160.5h0M190.7 155.5h0M190.4 160.7h0M191.8 159.9h0M194.4 157.1h0M189.5 157.4h0M190.4 152.9h0M195.3 155.2h0M197.5 157.1h0M191.6 158.3h0M197.3 156.4h0M194.4 156.2h0M189.7 158.4h0M195 156.4h0M196 155.3h0M199.1 156.7h0M186.7 159.7h0M192.7 158.5h0M196.2 159h0M195.3 157.4h0M189.3 159.6h0M187.1 159.6h0M193.5 155.5h0M191.3 157.7h0M196.4 154.3h0M203.5 155h0M186 151h0" stroke="#c5b0d5" stroke-width="2.9" stroke-linecap="round" fill="none"/>
<path d="M179.3 135.2h0M179.8 131.7h0M181.6 132.8h0M183.4 130.5h0M182.6 132.3h0M179.5 132.4h0M179.2 134.5h0M180.2 133.6h0M183.2 131.2h0M176.9 129.3h0M178.7 126.9h0M177.4 129.1h0M176.3 130.5h0M177.3 127.7h0M177 130.4h0M179.7 129.9h0M179.4 128.1h0M181 129h0M171.3 127.2h0M169.9 124.4h0M173.2 124.8h0M167 125.7h0M173.1 128.6h0M169.3 127.1h0M170.1 123.8h0M169.7 127.2h0M171.9 124.9h0M181.9 135.8h0M181.6 135.9h0M180.9 133.7h0M182.1 136.3h0M182.3 137.6h0M179.6 132.2h0M178.8 138.9h0M180.1 136.3h0M181.4 136.8h0M184.5 126.9h0M182.7 128.1h0M185.9 126.8h0M184 125.7h0M181.7 127.1h0M182.7 125.3h0M185.6 124.7h0M183.4 127.4h0M186.9 125.1h0M190 131.5h0M187.7 132.3h0M192.1 130.8h0M189.8 129h0M192.1 130.8h0M187.5 131.9h0M187.2 129.7h0M186.2 132.8h0M192.7 129.8h0M181 128.6h0M184.1 126.3h0M182.5 125.1h0M184.2 127.7h0M180.8 130.1h0M181.7 129.9h0M183.5 130.3h0M180.7 127.9h0M182.4 127.5h0M167.3 131.7h0M168.9 132.3h0M170.8 132.9h0M170.3 132.4h0M170.1 133.9h0M171.3 132h0M170.1 132h0M170 131h0M171.7 134.1h0M183.9 125.6h0M182.2 129h0M189.5 124.7h0M182.8 127.4h0M185.5 124.2h0M181.7 127.4h0M181.6 128.7h0M183.8 126.7h0M184.5 125.7h0M185.4 124.5h0M183.4 123.8h0M182.5 123.5h0M183.5 127.4h0M185.2 125h0M186 126.2h0M183.8 124.4h0M181.8 125h0M183 122.3h0M175.4 135.9h0M175.4 134.5h0M175.8 136.8h0M174.6 136h0M176.6 134.5h0M175.3 134.1h0M176 134.6h0M176.8 134h0M177.6 134.7h0M183.3 129.1h0M185 132.3h0M183 128.3h0M182.2 129.3h0M179.6 131h0M185.6 129.6h0M183.5 132.3h0M180.8 129.9h0M182.7 131.1h0M178.1 131.3h0M175.9 129.1h0M177.5 129.4h0M179.3 129h0M182.4 128.9h0M179.5 131.4h0M179.7 129.6h0M177 129.5h0M179.3 130.1h0M168.3 126h0M171.8 126.7h0M167.2 130.2h0M168.3 126h0M171.1 125.7h0M168.3 129h0M168.4 131.2h0M169.7 131.4h0M169.8 127.5h0M179.6 126.4h0M181.5 124.6h0M179 123.3h0M182.6 126.4h0M180.3 126.4h0M181.8 127h0M181.6 126.2h0M180.1 126.4h0M177.5 128.1h0M182.2 134h0M182.5 136.5h0M184 136h0M180.9 137h0M179.9 133.8h0M182.7 133.6h0M181.1 133.4h0M183.3 130.2h0M183.1 135.5h0M171.8 127.4h0M177.9 124.4h0M175.4 125.7h0M172.8 125h0M173 123.9h0M171.2 128.3h0M173.2 126.6h0M173.7 126.5h0M171 124.4h0M168.8 129.2h0M168.9 131h0M171 130.1h0M169.5 130.5h0M170.5 128.9h0M171 129h0M171.9 131h0M169.5 130.9h0M170.6 129h0M181.6 134.5h0M185.1 133.1h0M183.5 134.5h0M184.4 134.7h0M185.1 135.2h0M182.1 134.6h0M179.7 133.7h0M183.3 134.9h0M182.8 135.3h0M188.4 132.9h0M190 132.7h0M190.5 130.7h0M190.4 134.2h0M190.9 133.1h0M188.9 133.1h0M189.1 130.1h0M188.3 132.4h0M188.5 131.1h0M183.1 125h0M183.3 126.6h0M183.2 125.7h0M181.2 120.7h0M182.4 126.1h0M182.5 124.2h0M181.2 126.4h0M182.2 125.5h0M184.7 125.9h0M168 130.1h0M168.1 128.5h0M169.4 128.9h0M171.5 128.9h0M168.2 130.2h0M168.2 130.1h0M168.1 127.9h0M165.4 128.1h0M171.3 130.7h0M186.3 125.8h0M184.4 124.2h0M185.2 127.2h0M184.9 127.1h0M185.8 129.4h0M186.4 125.4h0M188.5 126.7h0M187.9 123.8h0M188.2 127.9h0M182.8 126.9h0M184.9 125.4h0M182.6 127.8h0M185.7 125.4h0M186.6 124h0M185.7 123.9h0M186.5 125h0M186.3 124.8h0M185 127.1h0M177.3 129.3h0M177.7 127.5h0M178.3 129.8h0M177 128h0M178.1 127.2h0M177.4 127.8h0M178.9 125.7h0M178.9 126.3h0M178.6 131.5h0M178.9 130h0M178.6 125.8h0M176.9 128.8h0M179.7 130.1h0M178.5 129.5h0M177.7 130.4h0M179.2 127.5h0M179.5 131.1h0M178 126.6h0M182.3 132.8h0M182.1 132.6h0M184.2 131.9h0M180.5 128.9h0M182.7 131.3h0M182 132.9h0M183.1 130h0M180.9 132.4h0M182.2 134h0M186.1 132.3h0M182.8 135.3h0M182.7 138.5h0M184.7 135.5h0M183.6 138.1h0M185.1 133.7h0M186.2 132.2h0M183.4 135.2h0M184.5 133.3h0M176.5 128.1h0M179 129h0M177.3 128.9h0M175.7 130.6h0M176.4 130.7h0M176.8 128.1h0M179.7 129.1h0M176.5 128h0M178.4 131.6h0M187.5 125.8h0M189.1 127.2h0M188.2 128.7h0M187.8 125.7h0M190 127.5h0M188.6 128.2h0M187.1 129.3h0M192.5 129.7h0M189.4 129.8h0M172.3 131.3h0M173.4 128.4h0M172.3 133.6h0M168.2 131.6h0M174 131.5h0M172.9 133.1h0M173.1 128.2h0M171.2 130.6h0M172.8 130.4h0M168.6 134.8h0M174.4 133.9h0M173 133.1h0M173.5 133.4h0M171.9 134.2h0M171.8 133h0M172.5 131.3h0M173.9 132.9h0M171.3 132.9h0M176.6 137.3h0M174.9 135.4h0M174.3 133.1h0M175.7 135h0M177.2 133.9h0M177.4 135.8h0M174.5 134.1h0M174.4 136.9h0M175 135.7h0M189.7 128.8h0M189.3 126.4h0M189 128.8h0M190.7 131h0M187.7 129.1h0M188.7 130.1h0M191.5 128.5h0M192.6 127.8h0M189.6 126.8h0M179.3 128.3h0M177.9 125.3h0M177.8 125.7h0M177.6 125.8h0M177 126.3h0M177.5 126.1h0M176.2 126.6h0M179.2 127.3h0M177.5 124.7h0M181 132.9h0M179.3 134.4h0M179.6 132.3h0M180.8 134.6h0M184.7 132.8h0M181.5 132.8h0M181.6 133.1h0M185.6 131.7h0M181.8 132.2h0M188.5 124.5h0M190.8 126.4h0M185 127.2h0M186.9 124.4h0M188.3 125.4h0M188.7 125.3h0M189 126.3h0M188.2 126.4h0M187.1 125.6h0M169.9 130.8h0M173 125.8h0M172.1 127.4h0M170.8 126.3h0M172.9 126.3h0M170.4 126.4h0M173.4 129.4h0M168.5 126.8h0M171 126.9h0M184.4 128h0M185.2 133.1h0M183.5 132h0M184.5 128.6h0M183.5 128.2h0M184.2 130.6h0M185.4 129.2h0M182.2 129.5h0M186.5 130h0M184.5 135.3h0M183.7 136.5h0M184.3 133.2h0M184.3 134.4h0M186.6 133.7h0M182.5 134.4h0M185.9 136.8h0M183.5 136.7h0M186.1 135.2h0M169.7 127h0M171.1 127.2h0M173 125.9h0M170.8 128.2h0M169.3 125.4h0M170.4 125.5h0M171 124.9h0M171.2 125.4h0M170.5 128.1h0M172.9 127.2h0M173.2 128.2h0M171.5 127.4h0M172.6 129.8h0M171.7 127.9h0M168.6 127.7h0M166.8 126.1h0M165.8 126.3h0M170.8 126.7h0M168.2 126.7h0M168.3 124.8h0M167.3 126.2h0M171.6 124.2h0M170.1 124.3h0M170.7 126h0M173.3 125.7h0M171.4 124.4h0M169.8 124.4h0M173.5 126.4h0M188 141h0M190.5 143h0M189 146h0M193 145.5h0M194 148h0M188 149h0M184 147.5h0M191 138h0" stroke="#1f77b4" stroke-width="2.9" stroke-linecap="round" fill="none"/>
<path d="M168.7 138.3h0M167.6 137.8h0M168.2 139.3h0M166.9 139.6h0M168.6 136.9h0M168.8 137.9h0M168.4 138.3h0M167.9 135.2h0M169.8 137.7h0M162.3 152.3h0M166.6 153h0M161.7 151.3h0M160.9 152.4h0M164.1 149.9h0M163.9 152.8h0M164.5 150.5h0M162.3 149.8h0M161.4 151.9h0M164.5 143.8h0M162 146.5h0M164.3 144.2h0M162.6 142.7h0M165 142.8h0M164.9 145.2h0M163.5 141.9h0M164.7 146.3h0M162.8 142.4h0M160.4 141.7h0M160.9 140.6h0M160.8 138.8h0M161.7 138.7h0M158.7 139.2h0M163.2 141.5h0M164.5 141.4h0M163.7 140.3h0M160.7 140.6h0M166.5 145.6h0M165.9 145.1h0M168.6 145h0M166.2 145.7h0M168.5 145h0M165.5 143h0M165.2 146.8h0M167.1 146h0M168.8 145.7h0M176 147.8h0M178.2 147.7h0M176.8 146.7h0M181.3 145.7h0M178.5 148.8h0M178 147.1h0M175.2 148h0M177.7 148.8h0M178.2 146.3h0M164.9 147.3h0M164.7 148.3h0M164.3 147.2h0M163.6 147.7h0M164.3 147.6h0M162.7 147h0M164.2 145.7h0M163.5 148.2h0M163.7 146.7h0M178.5 143.3h0M174.6 142.1h0M177.5 144.1h0M176.4 141.9h0M176.9 142.6h0M176.1 143.8h0M176 144.3h0M176 143.2h0M176.8 145.9h0M172.9 143.9h0M169.2 142.6h0M170.5 143.8h0M172.5 141.9h0M174.7 142.3h0M175.2 142.5h0M171.4 145.4h0M170.8 142h0M173.7 142.6h0M176.4 152.5h0M174.3 152.1h0M173 150.4h0M171.5 151.6h0M175.6 152.3h0M175.1 152.1h0M172.4 149.2h0M174.7 151.3h0M175.2 150.7h0M168.1 141.5h0M168 142.6h0M167.3 143.1h0M170.3 147.2h0M171.5 143.3h0M170.6 143.8h0M169.5 142.9h0M168.8 141.5h0M171.6 142.8h0M178.2 146.2h0M177.2 149.2h0M178.7 145.1h0M179 146h0M178.2 148.6h0M176.8 147.4h0M177.4 148.4h0M179.1 149.8h0M178.3 150.7h0M162.3 150.4h0M162.5 149.4h0M161.3 149.9h0M165.6 149.5h0M162.6 149.3h0M163.7 149h0M162.7 149.6h0M164.6 150.7h0M161.1 148.4h0M168.1 140.2h0M169.8 140.3h0M168.8 142.5h0M169.1 140.8h0M167.6 138.3h0M164.1 139.6h0M167.8 142h0M166.6 142h0M167.6 142.7h0M166.1 149.8h0M170 150h0M166.3 150.7h0M168.8 150.6h0M168.6 152.1h0M166.6 147.9h0M166.2 149.5h0M169.9 150.3h0M166 151.8h0M176.9 148.4h0M175.7 146h0M174 144.2h0M175.8 147.7h0M173.9 147.1h0M180.1 145.5h0M172.7 148h0M174.6 146.4h0M176.2 146.9h0M163.9 140.9h0M159 142.7h0M159.7 142.2h0M162.5 138.8h0M162.3 142h0M160.7 140.8h0M161.1 139.3h0M161.3 142.6h0M163.2 140.7h0M163.1 146.6h0M165.4 148.6h0M164.2 150.1h0M163.5 151h0M164 149.9h0M163 149.9h0M162.9 150.3h0M166.3 151.7h0M165 148.3h0M164.5 140.1h0M161.4 142.8h0M163 141.7h0M160.9 146.6h0M162.9 140.4h0M161.5 145.2h0M160.5 144.1h0M161.6 141.2h0M160.5 144.9h0M177.4 151.6h0M176.1 152.6h0M173.9 153.1h0M175.1 148.7h0M174.5 151.4h0M174.5 151.2h0M174.7 149.1h0M177 152.7h0M176.1 152.2h0M168.7 153.9h0M169 154.8h0M166.6 152.1h0M167.7 154.2h0M171.1 151.7h0M169.7 152.1h0M167.1 152.3h0M167.1 154.7h0M169.5 154.2h0M166.1 155h0M163.1 153.6h0M165.1 152.3h0M164.2 153.3h0M165.5 153.4h0M164 150.6h0M166.6 154.4h0M163.8 152.5h0M165.8 150h0M180 146.5h0M177.3 145.9h0M177.2 143.9h0M175.1 144.4h0M178.3 146.3h0M178.7 143.5h0M176.1 148.6h0M175.8 143.8h0M175.9 146h0M166.3 146.3h0M165.2 143.4h0M163.6 142h0M166.2 145.9h0M164.4 142.8h0M165.3 144.8h0M164.5 142.4h0M164.7 143.3h0M165.4 145h0M161.1 146.1h0M160.2 145.4h0M157.6 142.3h0M157.8 145.8h0M160.5 145.1h0M159.3 147.5h0M158.6 142.3h0M156.9 144.4h0M160.2 145.9h0M167.5 139.9h0M167 142.1h0M169 139.4h0M166.1 141.2h0M170.7 139.3h0M165.7 141.6h0M168.3 140.1h0M167.5 141.7h0M165 140.9h0M165.5 141.3h0M161.6 143.4h0M164.9 140.5h0M165.3 142.9h0M163.5 138h0M163.1 140.3h0M162.5 141.3h0M162.2 142h0M166.5 139.7h0M177.3 151.1h0M178.4 150.3h0M177.6 150.2h0M176.9 151.3h0M178.1 149.1h0M174.6 153.3h0M177.1 153.8h0M175 151.6h0M177.4 153.9h0M178 143.4h0M175.9 144.7h0M174.2 142.1h0M179 142.8h0M176.5 144.1h0M178.6 144.3h0M175.6 142.7h0M178.5 143.4h0M176.1 144.8h0M169.1 148.7h0M169.4 149.8h0M166.2 149.6h0M169.2 147.8h0M171 148.5h0M168.7 150.4h0M171 147.5h0M170.5 146.6h0M168.3 147.8h0M167.6 153.4h0M170.6 150h0M171.8 151.9h0M169.4 150.3h0M171.7 151.6h0M172.4 151.7h0M169.2 150.3h0M169 151.5h0M170.4 152h0M174.6 148.3h0M175.6 147.8h0M174 148.4h0M174 149.3h0M177.1 149.3h0M172.8 149.2h0M176 150.4h0M175.2 152.5h0M176.5 149.8h0M172.3 153.6h0M172.8 157.2h0M171.9 157.2h0M171.1 156.9h0M170.1 153.7h0M174 154.7h0M172.8 154.9h0M172.8 154.6h0M171.2 154.5h0M176.1 149.7h0M173.1 146.4h0M175 147.2h0M175.6 146.1h0M175.4 147.2h0M175.3 149.4h0M175.6 145h0M173.2 148h0M174.9 146.3h0M168.5 147.3h0M168.1 149.6h0M169.8 149.1h0M168.4 146.3h0M169.8 150.4h0M170.5 150h0M169.1 148.8h0M168.6 150.1h0M168.3 151.4h0M178.7 146.5h0M177.6 148.3h0M182.2 147.6h0M180 148.9h0M178.2 149.7h0M175.7 150.1h0M181.5 149.2h0M178.6 149h0M179.6 148.1h0M167.3 138.3h0M168.3 138.7h0M166.3 136.9h0M167.2 139.4h0M168.1 135.3h0M165.9 140.5h0M168.3 135.8h0M166.5 137.9h0M169.9 140h0M177.6 140.8h0M177.1 142.7h0M174.9 144.1h0M175.5 141h0M172.6 142.2h0M175.5 144.2h0M171 144.1h0M175.7 144.4h0M175.9 142.5h0M172.8 141.7h0M170.5 140.2h0M173.4 143.1h0M172.8 140.6h0M173.9 141.7h0M169.6 144.6h0M170.5 145.6h0M173.4 141.7h0M169.2 141.3h0M170.7 152.9h0M172 153.1h0M171.8 150.9h0M170.3 155.4h0M169.2 154.6h0M174.6 154.2h0M169.3 155.1h0M168.6 153.8h0M170.7 155.1h0M163.5 142h0M160.2 139.2h0M164.5 140h0M161.5 140.5h0M160.2 138.3h0M160.7 140.5h0M162.4 139.9h0M158.7 139.1h0M160.9 141h0M179.3 148.6h0M181 148.3h0M178.7 149.2h0M180.3 147.1h0M177.8 148h0M175.4 150.3h0M180.1 148.4h0M183.4 150.2h0M181.5 150.7h0M174.8 154.4h0M170.9 153.9h0M173.7 155.3h0M172.9 153.1h0M173.7 152.7h0M172.5 154.9h0M170.5 154.4h0M169.8 152.5h0M170.8 153.7h0M169.1 139.2h0M171 138.2h0M171.1 137.4h0M169.1 136.5h0M168.7 141.3h0M170 140.8h0M167.3 137.6h0M170.1 140.2h0M170.7 136.6h0M171.9 155.2h0M171.1 155.5h0M170.9 156.7h0M173.4 156.2h0M171.4 155.7h0M170.5 156.9h0M172.3 157.5h0M172 157.6h0M172.6 157.8h0M172.4 157.5h0M173.6 157h0M174.8 157.2h0M171.9 159.1h0M172.7 159.8h0M174.3 157.9h0M172.4 160.7h0M172.5 159.9h0M174.2 158.4h0M171.7 156.3h0M171.3 158.2h0M172.4 159.8h0M173.5 156.5h0M173.2 158.9h0M173.8 157.9h0M174.4 157.8h0M174.5 157.9h0M172.3 156.2h0M174.7 155.7h0M172.5 156.9h0M172 156.6h0M184 147.5h0M181 155h0" stroke="#d62728" stroke-width="2.9" stroke-linecap="round" fill="none"/>
<path d="M68.9 132.6h0M69.1 133.8h0M68.3 132.7h0M67.5 133.6h0M69.6 134.3h0M67.9 134.9h0M72.9 131.3h0M72.1 132.3h0M72.7 131h0M73.7 131.7h0M72.7 131.4h0M72.8 132.8h0M72.9 133.2h0M72.7 133.6h0M73.3 132.6h0M71.1 132.8h0M73.2 132.5h0M73.3 132.5h0M69.5 130.8h0M68.6 131.9h0M69.8 129.8h0M67.7 132.7h0M69.5 134.2h0M68.1 131.5h0M81.5 134.8h0M79.4 134.4h0M79.2 133.6h0M80.4 133.9h0M79.6 134.5h0M80.2 133.3h0M82.9 134.1h0M82.7 135.4h0M81.5 133.6h0M82.3 134.6h0M82.1 134.6h0M82.7 132.3h0M81.9 134.7h0M82.7 135.2h0M82.1 136.2h0M82.7 134h0M81.6 135.4h0M83.7 134.9h0M80.7 132.7h0M80.3 132.4h0M79.6 132h0M80.6 132.2h0M80.5 133.1h0M80.9 130.4h0" stroke="#e377c2" stroke-width="2.9" stroke-linecap="round" fill="none"/>
<path d="M77.3 135.9h0M79.9 136.7h0M78.8 135.5h0M77.1 135.7h0M75.3 136.1h0M77.4 135.8h0M76.4 134.1h0M76.4 133h0M76.4 134h0M75 133.2h0M74.6 132.8h0M77 132.7h0M77.9 133.8h0M77 133.4h0M72.5 134.4h0M71.9 136.7h0M72.3 134.4h0M71.7 133.2h0M71.9 135.2h0M72 134.1h0M72.8 135.3h0M74.1 134h0M74.1 132.8h0M75.2 132.7h0M73.9 135.2h0M76.5 131.5h0M75.1 131.9h0M75.3 131.9h0M73.8 134.8h0M71.7 134.5h0M71.7 133.5h0M71.7 131.9h0M72.8 131.6h0M71.9 134.1h0M72.3 132.1h0M75.8 135.5h0M72.9 134.4h0M74.2 134.7h0M73.1 133.8h0M75.4 133.3h0M74.4 133h0M75.8 132.6h0" stroke="#f7b6d2" stroke-width="2.9" stroke-linecap="round" fill="none"/>
<path d="M123 142.2h0M123.8 137.9h0M124.3 139.7h0M123.9 139.1h0M124.1 137.5h0M121.7 138.5h0M121.8 140.2h0M126.3 141h0M124.1 139.7h0M126.2 141.7h0M125.9 143.7h0M126.5 144h0M125.6 143h0M122.9 143.4h0M126.5 145.4h0M127.5 142.4h0M124.1 144.9h0M124.8 147.7h0M126.5 146.9h0M124.6 144.8h0M125.3 146.9h0M126.6 143.1h0M124.8 143.5h0M123.6 143.9h0M130.5 144.7h0M126.9 142.9h0M127.8 143.9h0M120.4 143.8h0M121.9 145.1h0M120.5 145.4h0M121.5 146h0M119.2 146.2h0M119.2 145.3h0M122.1 143.6h0M118.2 144.6h0M119 147h0M122.2 148.9h0M120.2 149.1h0M120.9 150.6h0M121 150.7h0M122.7 149.3h0M120.9 149.3h0M120 149.9h0M119.8 150.1h0M118.6 149.4h0M124.4 141.8h0M125.2 140.3h0M125.1 140.9h0M124.3 142.8h0M127.1 143h0M124.7 141.9h0M127.4 140.2h0M127.1 140.3h0M124.5 142.6h0M119.3 145.5h0M120 145.6h0M117.4 147.2h0M120.8 147.4h0M116.9 148.3h0M118 146.7h0M120.4 149h0M116.2 144h0M120.3 146.3h0M123.1 149.6h0M124.2 148.9h0M121.8 148.7h0M120 147.6h0M126 148.3h0M123 152h0M124.6 149.4h0M124.2 148.9h0M121.8 150.7h0M117.6 144.5h0M118.5 144.8h0M117.6 143.7h0M118.4 145.5h0M120.7 145h0M115.4 145.7h0M121.4 144.4h0M116.8 144.8h0M113.8 144.6h0M127.3 143.1h0M123.7 143.3h0M127.3 147.2h0M128.3 144.7h0M125.7 144h0M127.8 143.6h0M127 145.8h0M125.1 143.5h0M127.1 144.4h0M126 138h0M128.1 132.9h0M126.2 135.4h0M126.2 133.2h0M125.9 135.5h0M125.1 135.7h0M122.5 133h0M126.3 135.8h0M125.9 134.6h0M119.1 140.4h0M117.1 142h0M118.6 141.8h0M117.4 139.2h0M118.1 139.5h0M119.5 141.7h0M114.6 141.4h0M119.8 142h0M117.1 139.2h0M116.3 141.7h0M113.9 143.8h0M115 142.4h0M116.8 144.9h0M113.1 142.4h0M118.1 143.3h0M115.7 144.3h0M114.5 141.6h0M116.2 145.7h0M128.2 138h0M130.4 141.7h0M130.5 140.4h0M129.4 142h0M129.9 138.3h0M132 139.5h0M130.5 140.4h0M131.5 140.8h0M131.8 140.7h0M125.7 135.2h0M126.1 136.1h0M123.4 135.2h0M124.5 139h0M125.9 136.5h0M123.4 139.2h0M124.3 136.4h0M124.1 138.4h0M125 135.8h0M125.7 139.4h0M123 141.4h0M130.2 138h0M127 137.3h0M127.5 140h0M128.3 137.7h0M126.4 138.7h0M126.9 143h0M127 139.6h0M123.6 140.6h0M122 137.4h0M121.3 139h0M121.6 140.5h0M120.8 136.5h0M120 138.2h0M120.4 139h0M121.3 136.6h0M118.7 138.8h0M131.1 137.4h0M126.9 137.9h0M131.2 136.7h0M131.3 139.9h0M130.7 139h0M130.1 141.3h0M131.2 140h0M130 140.4h0M132.5 140h0M126.1 140.5h0M123.8 143.1h0M125 138.8h0M124.9 144.6h0M125.8 139.9h0M124.3 142.9h0M126.5 142.2h0M125.6 142.6h0M128.2 142.6h0M127.1 145.8h0M127.4 141.6h0M126.7 145.4h0M125.5 144.2h0M128.2 145.9h0M124.1 140.9h0M127 144.5h0M125.9 143.4h0M125.8 145.2h0M120.3 147.5h0M119.9 147.1h0M122.2 148.5h0M124.8 148.1h0M122.7 149h0M122.6 150.6h0M122.4 148.7h0M122 148.5h0M122.1 149.9h0M117.7 138.5h0M117.6 138.2h0M121.3 137.5h0M118.3 135.4h0M119.5 137.2h0M119.8 136.2h0M119.2 139.8h0M119 136.7h0M116.5 137.1h0M114.3 136.9h0M114.6 136.9h0M115.6 138.8h0M118.8 138.7h0M118.1 136h0M118.3 139.6h0M116.6 139.6h0M116.9 141.3h0M117.2 135.9h0M120.4 150.9h0M120 147.9h0M120 149.4h0M120.8 148h0M121.3 149.8h0M119.1 147.3h0M117.6 148.5h0M120.5 147.9h0M119.6 148.7h0M119.3 136.1h0M119.8 134.1h0M119 136.1h0M116.6 134.5h0M118.8 135.6h0M116.2 134.7h0M120.4 136.7h0M118.2 137.5h0M116.8 135.2h0M128.4 140.6h0M132.5 136h0M130.3 137.9h0M129.6 137.6h0M133.9 138.7h0M130.2 138.7h0M128.6 139.1h0M130.4 142.3h0M130.5 142h0M121.7 137.9h0M127.8 139.9h0M122.7 139.1h0M121.5 138.7h0M123.8 139.7h0M122.1 140.5h0M120.5 140.6h0M122.1 140.9h0M121.7 140.3h0M115.9 142h0M115.5 140.3h0M117.1 140.8h0M113.2 139.1h0M116.6 141.9h0M115.9 142.8h0M114.2 140.7h0M117.7 140.6h0M117.3 141.9h0M122.4 139.2h0M117.4 137.8h0M119.5 138h0M121.4 138.4h0M124.5 140.4h0M118.9 139.1h0M123.1 140.6h0M119.3 141.1h0M120.1 142.8h0M121.1 137h0M120 139.4h0M121 137.6h0M120.9 140.3h0M121.7 138.4h0M120.8 135.4h0M120.5 137h0M121.4 136.8h0M120.9 136.1h0M129.1 142h0M128.7 141.1h0M130.7 143.7h0M126.5 139.8h0M130.2 142.5h0M128.5 141.3h0M128.9 144.5h0M128.9 139.4h0M126.9 139.2h0M133.1 144.1h0M130.8 144.1h0M131.4 144.5h0M128.8 142.3h0M129.4 143.3h0M129.8 141.3h0M129.2 145.8h0M133.4 141.8h0M130.8 143.1h0M120.5 143.1h0M121.3 140.2h0M116.7 140.5h0M121.9 139.6h0M121.9 141.7h0M118 140.4h0M121.1 141.8h0M120.8 140.6h0M120.1 140.2h0M127.7 139.7h0M127.5 139.5h0M127.4 140.4h0M128.1 140.9h0M128.1 140h0M126.7 139.8h0M124.9 140h0M128.4 141.3h0M125.5 140.6h0M128.6 145.2h0M129.2 145.1h0M125.5 141.8h0M131.1 144.2h0M130 146.6h0M128.2 143.1h0M130.1 144.7h0M128.9 145.5h0M129.5 146.3h0M124.8 147.6h0M125.8 147.4h0M124.3 150.6h0M126.6 149.3h0M126.1 146.4h0M124.5 147.5h0M123 146.3h0M124.8 145.8h0M125.4 148.3h0M132.9 150.1h0M132.7 148.2h0M130.5 151.8h0M131.6 149.2h0M130.3 148.7h0M131.5 150.4h0M129.4 148h0M131.4 149.8h0M130.5 150.6h0M133.5 150.4h0M131.6 151.6h0M132.7 149.2h0M131.6 149.6h0M132.1 151.6h0M131.8 149.3h0M131.1 151.2h0M132.9 148.5h0M132.4 150.2h0M133.1 151.2h0M133.8 150.9h0M131.2 149.7h0M131.8 154.7h0M131.6 152.2h0M130.8 153.5h0M131.4 154.6h0M132.7 154.1h0M129 152.7h0M128.9 153h0M131.1 153.8h0M132.5 152.1h0M132.4 152.6h0M131.8 154.1h0M130.1 152.6h0M133 151.8h0M131.6 152.8h0M131.8 152.1h0M133.7 153.4h0M133.3 151.9h0M133 153.3h0M133.6 152.4h0M133.4 154.7h0M134.5 152.2h0M133.3 155.3h0M132.6 153.7h0M133.6 156.4h0M132.2 154.5h0M133.5 155.2h0M133.7 154.2h0M132.6 154.3h0M108.5 172h0M109.3 172.4h0M133 158h0" stroke="#ff7f0e" stroke-width="2.9" stroke-linecap="round" fill="none"/>
<path d="M160.5 160h0M161.5 161.5h0M160 162h0M161 158.5h0" stroke="#dbdb8d" stroke-width="2.9" stroke-linecap="round" fill="none"/>
<path d="M131 176.3h0M129.3 174.1h0M130.2 175.1h0M132.4 177.1h0M131.3 175.4h0M129.1 173.5h0M130.7 177.1h0M130.1 176.3h0M130.7 176.5h0M136.4 180.8h0M134.2 180.2h0M134.2 181.1h0M135.7 180.1h0M133.5 179.9h0M139.4 182.8h0M137 182.1h0M137.4 182.3h0" stroke="#bcbd22" stroke-width="2.9" stroke-linecap="round" fill="none"/>
<path d="M186.4 187.6h0M183.3 188.8h0M184.1 189h0M185.1 188.9h0M185.1 189.3h0M188.2 188.9h0M184.9 188.4h0M186 188.1h0M186.7 190.4h0M188.1 194.2h0M186.2 191.1h0M188.9 190.9h0M187.3 192.4h0M190.7 192.9h0M187.7 190.3h0M185.8 191h0M184.5 187.9h0M184.1 189.4h0M185.4 191.3h0M183.5 191.9h0M187.9 187.4h0M184.8 190.9h0M186.1 190.1h0M186.5 190.1h0M186.8 188.5h0M187.8 186.6h0M189.3 190h0M185.6 187.7h0M184.8 189.5h0M183.8 188.3h0M187.3 188h0M188.7 188.8h0M188.1 192h0M188.6 191h0M184.2 192.3h0M188.3 193.5h0M189.2 192.4h0M187.6 191h0M187.9 188.3h0M188.7 189.7h0M186.7 191.5h0M189.6 190.5h0M188.6 191.5h0M188.4 193.2h0M190.4 190.5h0M187.9 196.2h0M189.4 192.4h0M188.7 192.7h0M195.8 207h0M196 204.5h0M196.5 205.6h0M199.4 204.6h0M196.4 204.7h0M198.8 205.7h0M195.3 204.8h0M197.7 205.2h0M199 204.6h0M193.3 201.3h0M193.5 197.9h0M192 200.4h0M192.1 199.5h0M194.4 199.3h0M194.8 201.1h0M191.9 201.7h0M195.7 200.2h0M191 202.4h0M187 208.6h0M187.3 209.2h0M185.7 208.1h0M187.3 208.5h0M185.4 205.9h0M186.8 205.4h0M188.5 207.2h0M188.4 207.6h0M188.8 209h0M188.6 219.9h0M188.8 219.5h0M187.6 216.8h0M188.4 221.6h0M187.7 217.2h0M186.6 217.2h0M187.8 219h0M185.9 221.6h0M186.9 220.3h0M185.4 214.2h0M183.1 216.7h0M184.4 216.4h0M186.1 217.1h0M180.4 215.1h0M187.6 214.6h0M187.3 214.3h0M185.2 215.5h0M187.6 214.9h0M191.3 212.1h0M194.1 213.1h0M192.7 212.3h0M194.3 210h0M193.8 210.6h0M191.7 210.9h0M193.4 210.5h0M191.6 209.9h0M192.6 212.1h0M191.2 208.1h0M191.3 210.3h0M191.2 208h0M190.5 208.8h0M193 210.3h0M190 209.1h0M187 209.7h0M189.2 210.4h0M189.1 210h0M192.1 205.7h0M195.1 203.4h0M190.7 206.2h0M191.3 204.3h0M194.8 205.2h0M193.4 206.4h0M192.6 204.7h0M193.5 206.7h0M188.5 201.5h0M197.6 209.4h0M190.4 209.3h0M196.5 209.8h0M192.5 209.2h0M193 209.4h0M192.6 208.5h0M193.3 208.1h0M192.7 207h0M192.6 205.2h0M185 215.1h0M189 210.7h0M186.7 212.3h0M191.3 210.8h0M189.1 212.6h0M188.8 210.9h0M189.3 210.6h0M186.2 213.5h0M188.4 210.8h0M191.9 217.9h0M190.9 218h0M192 217.3h0M192.5 217.1h0M193.4 219.8h0M190.9 216.4h0M190 216.7h0M193.4 217.2h0M189.9 217.4h0M191.5 214.8h0M192 212.1h0M188.1 212.9h0M190.2 213.7h0M186.4 212.4h0M190.3 212.5h0M189.6 210.3h0M186.5 213.6h0M190.1 214.6h0M189.9 214.6h0M192.3 213h0M190.2 214.7h0M188.7 214.4h0M189.7 216h0M191 214.2h0M192.5 213.9h0M187.4 213h0M191.4 214.7h0M187.4 198.3h0M187.5 200.2h0M185.3 199.8h0M185.1 203.1h0M185.2 200.2h0M185.6 199.4h0M184 199.5h0M188 200.9h0M185.3 202.3h0M192.1 218.1h0M193.8 221h0M193.1 218.2h0M191.7 219.4h0M189.7 219.4h0M190.4 217.8h0M193 217.5h0M191.7 217.7h0M190.9 219.1h0M194.2 199.4h0M192.5 203.1h0M195.2 200.1h0M194.1 200.1h0M194.7 199.9h0M196.3 200.8h0M195.1 202.5h0M194.5 200.2h0M193.3 200.7h0M190.4 202.8h0M193.5 204h0M192.2 207.8h0M192.2 203.4h0M189.6 204.5h0M190.1 205.7h0M191.3 206.7h0M189.3 207.1h0M187.9 203.3h0M191.3 214.3h0M189 213.2h0M190.4 211.4h0M190.3 214.3h0M193.4 212h0M188.7 211.1h0M190.3 213.4h0M188.5 212.2h0M192.8 212.6h0M187.1 211.8h0M187.5 214.1h0M185 213.2h0M187 209.5h0M187 210.7h0M189.2 209.8h0M188.6 212h0M184.8 210.8h0M186.3 214.1h0M194.4 194.8h0M192.1 200.2h0M195.1 195.3h0M195.7 199.1h0M193 200.7h0M192.3 196.2h0M195.3 196.1h0M197 197.7h0M190.6 196.7h0M191.8 206h0M194 207.2h0M195.5 203.4h0M192.9 203.7h0M191.6 205.9h0M193.6 205.8h0M189.8 207.5h0M194.2 207.7h0M194.8 206.6h0M196.6 215h0M197.2 215.3h0M192 217.2h0M193.5 215.3h0M195.9 216h0M195.7 216.7h0M196.3 214.9h0M198.1 215.3h0M196.7 218.3h0M190.8 210.6h0M188.6 207.1h0M187.6 207.8h0M189.1 210.2h0M188 207.1h0M188.9 210.1h0M187.8 209.2h0M189.8 209.7h0M190.3 211.7h0M185.4 213.4h0M180.3 213.4h0M183.9 213.7h0M186.3 214.5h0M186.4 214.4h0M183.8 215.4h0M183.1 212h0M184.7 213.8h0M187.6 214.6h0M192.8 218.6h0M191.7 214.5h0M190.8 216.7h0M189.8 217.4h0M189.8 216.2h0M189.2 217.8h0M188.2 215.5h0M190.8 218.5h0M191.4 218h0M187.6 203.2h0M190 204.3h0M184.8 205.6h0M185 206.9h0M186.2 205.1h0M182.6 205.4h0M185.5 205.7h0M184.7 205.6h0M185.6 205.5h0M198.6 218.7h0M197.1 216h0M194.9 220.8h0M196.2 218.2h0M196.9 217.7h0M198.1 216.6h0M196.5 218.2h0M195.3 217.3h0M194.6 215.9h0M187.5 211.1h0M185 206.1h0M186.3 207.5h0M188.8 206.1h0M184.6 207.7h0M184 208h0M185.4 207.6h0M185.6 207.8h0M188.6 208h0M197.4 215.8h0M195.1 212.9h0M195.1 214.5h0M195.7 210.9h0M194.1 213.7h0M196.6 213.3h0M196.8 215.4h0M195.8 215.5h0M195.4 219.4h0M193.6 201.8h0M196 207.2h0M196.2 204.9h0M196.8 203.3h0M194.4 206.1h0M195.3 203.7h0M193.7 206.7h0M194.3 201.9h0M197.1 203.9h0M186.9 205.3h0M185.3 206.1h0M185 205.4h0M184.9 203.9h0M185.9 207.7h0M185.6 205.5h0M187.2 203h0M186.8 204.3h0M185.6 207.7h0M194.7 210.1h0M189.5 211.8h0M194.8 211.4h0M197.2 211.7h0M193.4 206.8h0M193.4 208.7h0M193.5 210.2h0M192.8 209.5h0M193.8 210.6h0M183.4 201.5h0M187.8 201.2h0M182.8 198.7h0M185.3 199.9h0M187.6 201h0M182.8 199.4h0M186 200.7h0M186.3 202.5h0M185.3 198.6h0M190.7 199.9h0M190 201.5h0M192.7 203h0M190.4 202.2h0M192.3 199.5h0M189.2 203.9h0M188.3 199.5h0M189.3 200.9h0M190.7 200.6h0M182.3 210.4h0M182.6 210.4h0M182.5 212.1h0M184.9 208.5h0M184 209h0M180.9 209.4h0M183.8 208.1h0M185.5 213.2h0M181.7 208.2h0M187.1 198.1h0M190.4 197.3h0M188.6 196.8h0M188.6 198h0M190.6 198.8h0M187.7 198.2h0M190.6 200.2h0M188.2 196.5h0M188.5 200.7h0M195.9 211.6h0M195.3 211.8h0M193.9 210.6h0M196.8 212.8h0M193.7 209.2h0M197 212.9h0M195.5 211.2h0M198.2 209.7h0M194.7 212.9h0M183.1 202.7h0M187.2 200.7h0M186.9 201h0M185.3 201.5h0M185 201.7h0M187.3 203.6h0M186.3 202.4h0M183.4 201.2h0M186.1 201.6h0M195.4 207.1h0M189.5 210.6h0M194.8 206.4h0M195.6 207h0M196.5 205.4h0M195.3 207.4h0M191.1 209.5h0M193.2 204h0M193.8 207.8h0M190.8 205.2h0M187.3 207.7h0M189.9 206.6h0M191.5 202.5h0M191.3 203.9h0M191.2 204.4h0M191.2 205.3h0M191.8 206.4h0M189.9 207.6h0M200.2 208.2h0M195.2 212.4h0M200.9 212h0M196.5 209.1h0M198.6 211.9h0M196 211h0M197.8 210.4h0M194.3 209.6h0M198.1 214.3h0M196.8 213.4h0M197.6 213h0M199.5 213.4h0M200 215.9h0M196.3 215.3h0M195.2 211.5h0M200.4 211.3h0M197.2 213.2h0M197.1 212.3h0M191.4 205.4h0M198.2 203.9h0M190.7 207.6h0M195.1 203.9h0M192.2 204.1h0M193.6 202.7h0M193.5 200.9h0M191.4 202.7h0M192.4 204.2h0M192.2 201.6h0M189.7 198.2h0M189.8 197.8h0M189.4 196.8h0M190.8 199.8h0M190.6 197.4h0M189.9 195.5h0M188.7 197.7h0M191.8 197.7h0M192.8 204.3h0M193 202h0M191.9 202.6h0M188.3 204.4h0M192.2 205.2h0M193.2 204.5h0M187.5 205.5h0M192.9 203.7h0M190.6 204.4h0M196.7 211.8h0M196.1 209.3h0M189.7 209.8h0M195.9 209.9h0M195.4 207.6h0M195.3 208.8h0M195.2 210.4h0M195.5 208.4h0M193.5 206h0M199.2 211.5h0M199.1 213.2h0M198.3 210.4h0M198.9 211.3h0M201.3 209.7h0M195.2 211.4h0M200 210.6h0M199 211.8h0M197.6 209.3h0M202.4 214.3h0M201.9 211.4h0M205.3 215.1h0M205.3 216.5h0M201.1 215.8h0M201.8 211.2h0M201.9 213.6h0M206.4 214.1h0M203.3 215.2h0M203.2 215.3h0M204.2 216.2h0M207.3 218h0M204.4 217.1h0M204 216.4h0M204.9 219.9h0M203.3 215.1h0M205.8 215.4h0M203.6 217.3h0M203 213.8h0M201.8 213.6h0M204.4 214.7h0M202.3 213.3h0M204.5 214.5h0M201 216.9h0M202.5 213.9h0M203.4 213.8h0M201.9 216.1h0M203.6 211.9h0M202.2 209.6h0M203.3 209.9h0M204 211.1h0M204 211.6h0M202.1 210.7h0M204 213.2h0M204.2 211.4h0M206.8 210.6h0M197.3 212.9h0M200.4 211.2h0M201.3 212.2h0M199.8 212.6h0M199.8 211.8h0M201.5 211.8h0M201.7 212.5h0M197.8 214.2h0M199.3 212.5h0M203.6 210.5h0M202 210.4h0M202.2 213.4h0M205.1 211.1h0M202.2 211.6h0M204.5 210.9h0M203.6 213.3h0M203.4 211.2h0M205.6 211.6h0M207.3 210.1h0M205.2 209.6h0M207.8 209.6h0M205.5 210h0M205.8 211.2h0M205.3 209.1h0M204.6 210h0M203.7 209h0M203.3 209.6h0M203.8 204.2h0M204.9 202.1h0M203 207.9h0M205 207.7h0M207.5 205.7h0M203.2 206.1h0M203.3 205.6h0M205 207.9h0M204.4 205.2h0M200.9 217.8h0M199.9 215.9h0M205.2 215.2h0M201.9 217.4h0M202 218h0M200.7 218.8h0M201.6 216.2h0M201.9 216.7h0M200.9 217.4h0M202.3 205.3h0M204.4 209h0M202.3 208.6h0M200.4 207.2h0M203.4 208.7h0M204.4 212h0M202 206.8h0M204.7 210.1h0M205.2 209.6h0M208.9 208.7h0M208.5 208.7h0M205.6 209.7h0M207.9 205h0M205.7 209.5h0M208 208.7h0M205.2 209.1h0M205.8 204.5h0M203.6 209.3h0M203.8 206.2h0M202.6 207.6h0M204.1 207h0M204.3 209.5h0M202.4 210.1h0M201.1 209.8h0M207.2 210h0M201.3 213.2h0M203.9 210.1h0M205.5 211.7h0M208.7 214.8h0M206.5 211.5h0M203.8 212.2h0M204.6 213.3h0M203.9 213.5h0M206.2 211.9h0M206.6 211.8h0M205.7 212h0M205.3 210.7h0M206 209.2h0M203 208.5h0M209.2 210.7h0M201.6 207.2h0M205.9 207.1h0M206.3 207.9h0M208.5 211.4h0M208 207.8h0M199.3 210.9h0M199 211.1h0M202.8 210.7h0M203.9 210.5h0M201.8 213.3h0M199.2 212.4h0M198.4 210h0M200 213.1h0M198.9 212.9h0" stroke="#aec7e8" stroke-width="2.9" stroke-linecap="round" fill="none"/>
<path d="M184 209h0M183.8 212.8h0M184.3 211h0" stroke="#1f77b4" stroke-width="2.9" stroke-linecap="round" fill="none"/>
<path d="M220.1 215.5h0M222.1 215.6h0M216.7 215.2h0M220.4 212.7h0M215.5 218.4h0M217 217h0M219.6 214.3h0M217.6 216.2h0M218 216.8h0M219.3 217.9h0M221.2 214.4h0M219.1 215.5h0M220.1 218.4h0M219.1 214.2h0M219.5 214.8h0M221.5 215.5h0M219.3 215.1h0M218.8 215.1h0M212.9 218.8h0M214.5 215.4h0M217.3 217.4h0M212.6 216.2h0M213.7 215.1h0M214.7 216.8h0M216.5 216.5h0M211.8 218.7h0M216.1 215.6h0M217.7 213.8h0M218.1 213.5h0M217.3 214.9h0M218.3 215.3h0M213.8 213.9h0M217.9 215.6h0M215.8 216.1h0M216 216.3h0M217.6 214.9h0M220.8 217h0M220.2 216.2h0M222.6 215.6h0M221.3 217.9h0M221.1 216.9h0M218.7 219.1h0M222.6 215.3h0M219.2 215.1h0M218.3 216.5h0M219.6 211h0M217.1 213.3h0M220.3 211.8h0M217.5 212.7h0M219.3 213.4h0M219.2 211.1h0M217.7 212.2h0M216.7 210.8h0M220.2 213.2h0M212.6 214.6h0M213.2 216.8h0M211.6 218.3h0M214.9 213.7h0M211.8 216.6h0M213.6 217.1h0M213.7 215.4h0M212.3 216.2h0M213.8 214.5h0M218.1 205.6h0M219.5 205h0M218.7 206.1h0M218.7 209.3h0M222.1 208.3h0M218.4 205.5h0M218.4 207.7h0M216.3 206.4h0M219.3 207.7h0M222.9 211.6h0M225.6 212.7h0M221.7 214.8h0M221.1 212.2h0M223.5 210.9h0M223 212h0M220.6 213h0M222.3 212.9h0M223.1 211.6h0M210.2 217.6h0M212.4 216.4h0M213 218.2h0M212.1 219.2h0M211.8 217.7h0M213.3 218.6h0M213.4 220.1h0M210.9 218.9h0M214.4 218.6h0M215.1 208.1h0M213.6 208.3h0M213.4 208h0M214 204.7h0M214.1 208.3h0M214.9 207.6h0M212.8 205.7h0M211.2 208.1h0M215.8 209.7h0M222.7 212.4h0M224.8 213.4h0M226.6 212.8h0M227.8 215.3h0M225.1 213.9h0M227.9 212.2h0M225 212.9h0M224.8 213.5h0M227.1 212.1h0M221.6 209.1h0M222.7 210.3h0M224.1 209.3h0M219.2 212.1h0M220.5 208.3h0M223.1 210.8h0M220.9 209.5h0M221.3 210.8h0M220.1 210.3h0M228 212.2h0M224.8 212.7h0M223.8 213.2h0M227.6 209.9h0M225.5 212.6h0M224.4 210.3h0M224 210.2h0M226.4 210.4h0M225.9 211.6h0M228.2 216.3h0M226.7 214.8h0M228.6 215.4h0M225.7 216h0M228.7 215.4h0M229.3 214.3h0M224.2 214.3h0M229.3 214.2h0M227 215.7h0M215.3 217.1h0M212.8 216.8h0M215 213h0M213.7 214h0M209.4 214.6h0M215.5 214.7h0M216.5 217.1h0M214.4 215.8h0M213.2 214.8h0M225.5 218.9h0M226 216.1h0M226.5 215.8h0M221.1 216.6h0M226 215.2h0M225.1 216.8h0M223.4 214.7h0M224.6 217.5h0M224.9 217.4h0M212.2 220.1h0M213 218h0M210.8 215.9h0M210.1 215.3h0M210.7 216h0M208.6 217.1h0M210.6 215.9h0M209.8 219.3h0M213 217.2h0M220 212.5h0M220.2 211.1h0M218.8 214.1h0M219.8 212.7h0M220.5 210.3h0M219.7 213.8h0M220.4 213.1h0M216.8 212.2h0M216.3 212.4h0M222.7 208h0M226.9 210h0M220.7 209.4h0M221.7 207.9h0M221.5 209.6h0M222.1 205.7h0M222 207.4h0M219 209.1h0M222.9 209.6h0M218.6 213.3h0M217.2 213.1h0M218.3 211.5h0M217.5 214.3h0M218.5 211.6h0M216 212.9h0M219.3 213.6h0M217.3 211.4h0M217.9 217.1h0M212 217.9h0M217.4 218.1h0M214.3 221.1h0M213.1 218.5h0M212.7 221.5h0M215.8 221.7h0M216 220.6h0M215.3 220.3h0M213.6 219h0M214.8 217h0M218.2 218.4h0M217.9 217.8h0M217.5 217h0M215.8 216.8h0M215.6 215h0M218.9 214.3h0M218.5 217.3h0M219.6 217.5h0M211.9 210.7h0M217.3 212.9h0M213.8 209.3h0M213.6 211.9h0M212.8 212.4h0M212.6 211.9h0M215.2 210.6h0M218.3 211.5h0M215.7 213.7h0M218.8 209.8h0M216.8 209.4h0M218.4 209.7h0M219 207.9h0M217.1 211.2h0M215.2 210.8h0M216.9 211h0M216.1 209.6h0M214.9 210.7h0M218 208.9h0M219.3 208.8h0M217.8 206.8h0M220.3 210.1h0M222.1 208.6h0M220.7 208.4h0M217.6 206.9h0M216.9 205.1h0M218.9 207.8h0M211.3 217.3h0M212.3 219.6h0M212.6 217h0M214.1 218.3h0M212 220.7h0M214.7 217.9h0M213.5 218.1h0M212.4 217.8h0M212.9 217.6h0M212.7 207.9h0M214.4 209.5h0M215.6 211.4h0M213 212.7h0M211.4 210.4h0M214.1 210.5h0M213 208.6h0M215.1 208.4h0M208.9 209.4h0M220.2 206.6h0M218.6 206.7h0M218.4 208.4h0M219.4 208.1h0M218.6 205.4h0M223.2 209.2h0M220.5 207.9h0M219.4 208.7h0M216.4 207.5h0M210.6 213.7h0M210.4 215.8h0M213.4 212.8h0M210.9 214.6h0M209.7 216.7h0M210.1 215.1h0M211.1 214.2h0M210.1 212.7h0M212.6 215.6h0M224.4 209.9h0M224.4 209.7h0M223.9 213h0M223.8 205.1h0M224.9 211.6h0M223.8 212.4h0M224.2 211.9h0M226.6 211.9h0M225.4 213.5h0M215.2 219.3h0M213.2 218.7h0M215.5 217.2h0M214.6 219h0M218.3 222h0M215.1 218.2h0M215.6 222.2h0M215.2 219.6h0M219 219.7h0M221.9 216.9h0M225.5 217.4h0M221.6 216.8h0M221.9 218.3h0M224.6 216.4h0M221 217.3h0M222.5 218h0M221.5 218.9h0M221.3 217.4h0M220.4 219.5h0M223.9 219.3h0M219.4 219.4h0M221.7 219.2h0M224.2 219.1h0M222.3 219.5h0M219.1 219.4h0M221.4 221.2h0M218.3 215.7h0M208 217.7h0M207.4 217.4h0M207.7 216.4h0M207.3 215.4h0M207.4 217h0M205.7 216.2h0M207.9 219.3h0M208.6 218.2h0M208.4 218.4h0M210.1 219.8h0M210.3 217.2h0M210.5 218.5h0M208.5 216.5h0M209.2 216.3h0M211.6 216.7h0M210.7 217.7h0M208.5 216.3h0M212.1 218.3h0" stroke="#ff9896" stroke-width="2.9" stroke-linecap="round" fill="none"/>
<path d="M258.7 90.4h0M257.8 91h0M257.2 90.9h0M257.3 86.9h0M258.5 82.6h0M258.7 92.8h0M258.4 89.3h0M258 82.6h0M258.5 90.1h0M259.2 89h0M259.3 87.7h0M258.7 88.9h0M259 85.1h0M257.9 89.1h0M258.8 86.6h0M259.1 82.5h0M259.2 92.6h0M257.4 83.1h0M258.3 85.6h0M258.7 94.1h0" stroke="#7f7f7f" stroke-width="2.9" stroke-linecap="round" fill="none"/>
<path d="M268.5 151h0M269.5 152h0" stroke="#737a45" stroke-width="2.9" stroke-linecap="round" fill="none"/>
<path d="M44 225h0M45 226.5h0M44.5 224h0" stroke="#c9c950" stroke-width="2.9" stroke-linecap="round" fill="none"/>
<g font-size="13" text-anchor="middle" style="stroke-width:0.35px">
<text transform="translate(174 26.7) scale(0.8 1)">8</text>
<text transform="translate(113 51.7) scale(0.8 1)">15</text>
<text transform="translate(167 60.7) scale(0.8 1)">13</text>
<text transform="translate(130 69.7) scale(0.8 1)">11</text>
<text transform="translate(125 96.7) scale(0.8 1)">10</text>
<text transform="translate(145 96.7) scale(0.8 1)">4</text>
<text transform="translate(177 106.7) scale(0.8 1)">3</text>
<text transform="translate(257 90.7) scale(0.8 1)">14</text>
<text transform="translate(151 131.7) scale(0.8 1)">5</text>
<text transform="translate(177 132.7) scale(0.8 1)">1</text>
<text transform="translate(76 140.7) scale(0.8 1)">12</text>
<text transform="translate(121 146.7) scale(0.8 1)">2</text>
<text transform="translate(168 149.7) scale(0.8 1)">6</text>
<text transform="translate(192 158.7) scale(0.8 1)">9</text>
<text transform="translate(269 155.7) scale(0.8 1)">19</text>
<text transform="translate(163 169.7) scale(0.8 1)">18</text>
<text transform="translate(133 180.7) scale(0.8 1)">16</text>
<text transform="translate(192 216.7) scale(0.8 1)">0</text>
<text transform="translate(218 218.7) scale(0.8 1)">7</text>
<text transform="translate(44 229.7) scale(0.8 1)">17</text>
</g>
<path d="M18.8 244.2V272.5H47.5M15.3 252.2L18.8 244.2L22.3 252.2M40 269.3L47.5 272.5L40 275.7" fill="none" stroke="#000" stroke-width="1.2" stroke-linejoin="miter"/>
<text x="10.2" y="242.3" font-size="13.6" text-anchor="middle" transform="rotate(-90 10.2 242.3)">UMAP 2</text>
<text x="19.2" y="287.6" font-size="13.2">UMAP 1</text>
<text x="12.5" y="278.2" font-size="12.5" text-anchor="middle">0</text>
<g font-size="11.45">
<circle cx="328.3" cy="48.9" r="5.5" fill="#aec7e8" stroke="#2b2b2b" stroke-width="0.9"/>
<text x="328.3" y="52.8" font-size="11" text-anchor="middle" textLength="4.6" lengthAdjust="spacingAndGlyphs">0</text>
<text x="335.8" y="52.7">epidermis/cortex I</text>
<circle cx="313.6" cy="62.6" r="5.5" fill="#1f77b4" stroke="#2b2b2b" stroke-width="0.9"/>
<text x="313.6" y="66.5" font-size="11" text-anchor="middle" textLength="4.6" lengthAdjust="spacingAndGlyphs">1</text>
<circle cx="328.3" cy="62.6" r="5.5" fill="#d62728" stroke="#2b2b2b" stroke-width="0.9"/>
<text x="328.3" y="66.5" font-size="11" text-anchor="middle" textLength="4.6" lengthAdjust="spacingAndGlyphs">6</text>
<text x="335.8" y="66.4">meristem I</text>
<circle cx="313.6" cy="76.3" r="5.5" fill="#ff7f0e" stroke="#2b2b2b" stroke-width="0.9"/>
<text x="313.6" y="80.2" font-size="11" text-anchor="middle" textLength="4.6" lengthAdjust="spacingAndGlyphs">2</text>
<circle cx="328.3" cy="76.3" r="5.5" fill="#bcbd22" stroke="#2b2b2b" stroke-width="0.9"/>
<text x="328.3" y="80.2" font-size="11" text-anchor="middle" textLength="9.8" lengthAdjust="spacingAndGlyphs">16</text>
<text x="335.8" y="80.1">metaxylem</text>
<circle cx="313.6" cy="90.1" r="5.5" fill="#ffbb78" stroke="#2b2b2b" stroke-width="0.9"/>
<text x="313.6" y="94" font-size="11" text-anchor="middle" textLength="4.6" lengthAdjust="spacingAndGlyphs">3</text>
<circle cx="328.3" cy="90.1" r="5.5" fill="#2ca02c" stroke="#2b2b2b" stroke-width="0.9"/>
<text x="328.3" y="94" font-size="11" text-anchor="middle" textLength="4.6" lengthAdjust="spacingAndGlyphs">4</text>
<text x="335.8" y="93.9">root border cell</text>
<circle cx="328.3" cy="103.8" r="5.5" fill="#98df8a" stroke="#2b2b2b" stroke-width="0.9"/>
<text x="328.3" y="107.7" font-size="11" text-anchor="middle" textLength="4.6" lengthAdjust="spacingAndGlyphs">5</text>
<text x="335.8" y="107.6">immature pericycle cells (IPC)</text>
<circle cx="313.6" cy="117.5" r="5.5" fill="#ff9896" stroke="#2b2b2b" stroke-width="0.9"/>
<text x="313.6" y="121.4" font-size="11" text-anchor="middle" textLength="4.6" lengthAdjust="spacingAndGlyphs">7</text>
<circle cx="328.3" cy="117.5" r="5.5" fill="#c5b0d5" stroke="#2b2b2b" stroke-width="0.9"/>
<text x="328.3" y="121.4" font-size="11" text-anchor="middle" textLength="4.6" lengthAdjust="spacingAndGlyphs">9</text>
<text x="335.8" y="121.3">proximal meristem</text>
<circle cx="328.3" cy="131.2" r="5.5" fill="#9467bd" stroke="#2b2b2b" stroke-width="0.9"/>
<text x="328.3" y="135.1" font-size="11" text-anchor="middle" textLength="4.6" lengthAdjust="spacingAndGlyphs">8</text>
<text x="335.8" y="135">root hair</text>
<circle cx="298.9" cy="144.9" r="5.5" fill="#8c564b" stroke="#2b2b2b" stroke-width="0.9"/>
<text x="298.9" y="148.8" font-size="11" text-anchor="middle" textLength="9.8" lengthAdjust="spacingAndGlyphs">10</text>
<circle cx="313.6" cy="144.9" r="5.5" fill="#c49c94" stroke="#2b2b2b" stroke-width="0.9"/>
<text x="313.6" y="148.8" font-size="11" text-anchor="middle" textLength="9.8" lengthAdjust="spacingAndGlyphs">11</text>
<circle cx="328.3" cy="144.9" r="5.5" fill="#c7c7c7" stroke="#2b2b2b" stroke-width="0.9"/>
<text x="328.3" y="148.8" font-size="11" text-anchor="middle" textLength="9.8" lengthAdjust="spacingAndGlyphs">15</text>
<text x="335.8" y="148.7">xylem pole pericycle (XPP)</text>
<circle cx="328.3" cy="158.7" r="5.5" fill="#e377c2" stroke="#2b2b2b" stroke-width="0.9"/>
<text x="328.3" y="162.6" font-size="11" text-anchor="middle" textLength="9.8" lengthAdjust="spacingAndGlyphs">12</text>
<text x="335.8" y="162.5">endodermis II (casparian strip)</text>
<circle cx="328.3" cy="172.4" r="5.5" fill="#f7b6d2" stroke="#2b2b2b" stroke-width="0.9"/>
<text x="328.3" y="176.3" font-size="11" text-anchor="middle" textLength="9.8" lengthAdjust="spacingAndGlyphs">13</text>
<text x="335.8" y="176.2">epidermis/cortex II</text>
<circle cx="328.3" cy="186.1" r="5.5" fill="#7f7f7f" stroke="#2b2b2b" stroke-width="0.9"/>
<text x="328.3" y="190" font-size="11" text-anchor="middle" textLength="9.8" lengthAdjust="spacingAndGlyphs">14</text>
<text x="335.8" y="189.9">root cap</text>
<circle cx="328.3" cy="199.8" r="5.5" fill="#c9c950" stroke="#2b2b2b" stroke-width="0.9"/>
<text x="328.3" y="203.7" font-size="11" text-anchor="middle" textLength="9.8" lengthAdjust="spacingAndGlyphs">17</text>
<text x="335.8" y="203.6">protoxylem</text>
<circle cx="328.3" cy="213.5" r="5.5" fill="#dbdb8d" stroke="#2b2b2b" stroke-width="0.9"/>
<text x="328.3" y="217.4" font-size="11" text-anchor="middle" textLength="9.8" lengthAdjust="spacingAndGlyphs">18</text>
<text x="335.8" y="217.3">meristem II</text>
<circle cx="328.3" cy="227.3" r="5.5" fill="#737a45" stroke="#2b2b2b" stroke-width="0.9"/>
<text x="328.3" y="231.2" font-size="11" text-anchor="middle" textLength="9.8" lengthAdjust="spacingAndGlyphs">19</text>
<text x="335.8" y="231.1">stem cell niche (SCN)</text>
</g>
</g>
<g id="panel-b">
<text x="487.1" y="18.1" font-size="21.2" font-weight="bold">(b)</text>
<polygon points="562.8,146.4 577.2,146.4 584.5,143.8 570,143.8" fill="#6ea6dc" stroke="#303030" stroke-width="0.6"/>
<polygon points="577.2,146.4 594,146.4 601.2,143.8 584.5,143.8" fill="#dcc8e4" stroke="#303030" stroke-width="0.6"/>
<polygon points="594,146.4 610.8,146.4 618,143.8 601.2,143.8" fill="#fde8b8" stroke="#303030" stroke-width="0.6"/>
<polygon points="610.8,146.4 627.5,146.4 634.7,143.8 618,143.8" fill="#a8cbec" stroke="#303030" stroke-width="0.6"/>
<polygon points="627.5,146.4 644.2,146.4 651.5,143.8 634.7,143.8" fill="#f0e8f4" stroke="#303030" stroke-width="0.6"/>
<polygon points="644.2,146.4 661,146.4 668.2,143.8 651.5,143.8" fill="#fde8b8" stroke="#303030" stroke-width="0.6"/>
<polygon points="661,146.4 677.8,146.4 685,143.8 668.2,143.8" fill="#a8cbec" stroke="#303030" stroke-width="0.6"/>
<polygon points="677.8,146.4 694.5,146.4 701.7,143.8 685,143.8" fill="#c0a0d0" stroke="#303030" stroke-width="0.6"/>
<polygon points="694.5,146.4 711.2,146.4 718.5,143.8 701.7,143.8" fill="#fde8b8" stroke="#303030" stroke-width="0.6"/>
<polygon points="711.2,146.4 728,146.4 735.2,143.8 718.5,143.8" fill="#d6e6f6" stroke="#303030" stroke-width="0.6"/>
<polygon points="728,146.4 744.8,146.4 752,143.8 735.2,143.8" fill="#f0e8f4" stroke="#303030" stroke-width="0.6"/>
<polygon points="744.8,146.4 761.5,146.4 768.7,143.8 752,143.8" fill="#fdd88c" stroke="#303030" stroke-width="0.6"/>
<polygon points="761.5,146.4 768.7,143.8 768.7,157.7 761.5,160.3" fill="#fdd88c" stroke="#303030" stroke-width="0.6"/>
<polygon points="761.5,160.3 768.7,157.7 768.7,172.6 761.5,175.2" fill="#fdd88c" stroke="#303030" stroke-width="0.6"/>
<polygon points="761.5,175.2 768.7,172.6 768.7,187.8 761.5,190.4" fill="#fef0d0" stroke="#303030" stroke-width="0.6"/>
<polygon points="761.5,190.4 768.7,187.8 768.7,203.7 761.5,206.3" fill="#fdecc4" stroke="#303030" stroke-width="0.6"/>
<rect x="562.8" y="146.4" width="14.5" height="13.9" fill="#6ea6dc" stroke="#303030" stroke-width="0.6"/>
<rect x="577.2" y="146.4" width="16.8" height="13.9" fill="#dcc8e4" stroke="#303030" stroke-width="0.6"/>
<rect x="594" y="146.4" width="16.8" height="13.9" fill="#fde8b8" stroke="#303030" stroke-width="0.6"/>
<rect x="610.8" y="146.4" width="16.8" height="13.9" fill="#a8cbec" stroke="#303030" stroke-width="0.6"/>
<rect x="627.5" y="146.4" width="16.8" height="13.9" fill="#f0e8f4" stroke="#303030" stroke-width="0.6"/>
<rect x="644.2" y="146.4" width="16.8" height="13.9" fill="#fde8b8" stroke="#303030" stroke-width="0.6"/>
<rect x="661" y="146.4" width="16.8" height="13.9" fill="#a8cbec" stroke="#303030" stroke-width="0.6"/>
<rect x="677.8" y="146.4" width="16.8" height="13.9" fill="#c0a0d0" stroke="#303030" stroke-width="0.6"/>
<rect x="694.5" y="146.4" width="16.8" height="13.9" fill="#fde8b8" stroke="#303030" stroke-width="0.6"/>
<rect x="711.2" y="146.4" width="16.8" height="13.9" fill="#d6e6f6" stroke="#303030" stroke-width="0.6"/>
<rect x="728" y="146.4" width="16.8" height="13.9" fill="#f0e8f4" stroke="#303030" stroke-width="0.6"/>
<rect x="744.8" y="146.4" width="16.8" height="13.9" fill="#fdd88c" stroke="#303030" stroke-width="0.6"/>
<rect x="562.8" y="160.3" width="14.5" height="14.9" fill="#c4dcf2" stroke="#303030" stroke-width="0.6"/>
<rect x="577.2" y="160.3" width="16.8" height="14.9" fill="#dcc8e4" stroke="#303030" stroke-width="0.6"/>
<rect x="594" y="160.3" width="16.8" height="14.9" fill="#fde0a8" stroke="#303030" stroke-width="0.6"/>
<rect x="610.8" y="160.3" width="16.8" height="14.9" fill="#a0c6ea" stroke="#303030" stroke-width="0.6"/>
<rect x="627.5" y="160.3" width="16.8" height="14.9" fill="#d0b4dc" stroke="#303030" stroke-width="0.6"/>
<rect x="644.2" y="160.3" width="16.8" height="14.9" fill="#fef6e4" stroke="#303030" stroke-width="0.6"/>
<rect x="661" y="160.3" width="16.8" height="14.9" fill="#a8cbec" stroke="#303030" stroke-width="0.6"/>
<rect x="677.8" y="160.3" width="16.8" height="14.9" fill="#e4d4ea" stroke="#303030" stroke-width="0.6"/>
<rect x="694.5" y="160.3" width="16.8" height="14.9" fill="#fef6e4" stroke="#303030" stroke-width="0.6"/>
<rect x="711.2" y="160.3" width="16.8" height="14.9" fill="#a8cbec" stroke="#303030" stroke-width="0.6"/>
<rect x="728" y="160.3" width="16.8" height="14.9" fill="#d0b4dc" stroke="#303030" stroke-width="0.6"/>
<rect x="744.8" y="160.3" width="16.8" height="14.9" fill="#fdd88c" stroke="#303030" stroke-width="0.6"/>
<rect x="562.8" y="175.2" width="14.5" height="15.2" fill="#a8cbec" stroke="#303030" stroke-width="0.6"/>
<rect x="577.2" y="175.2" width="16.8" height="15.2" fill="#e4d4ea" stroke="#303030" stroke-width="0.6"/>
<rect x="594" y="175.2" width="16.8" height="15.2" fill="#fef0d0" stroke="#303030" stroke-width="0.6"/>
<rect x="610.8" y="175.2" width="16.8" height="15.2" fill="#90bce6" stroke="#303030" stroke-width="0.6"/>
<rect x="627.5" y="175.2" width="16.8" height="15.2" fill="#c0a0d0" stroke="#303030" stroke-width="0.6"/>
<rect x="644.2" y="175.2" width="16.8" height="15.2" fill="#fdd88c" stroke="#303030" stroke-width="0.6"/>
<rect x="661" y="175.2" width="16.8" height="15.2" fill="#90bce6" stroke="#303030" stroke-width="0.6"/>
<rect x="677.8" y="175.2" width="16.8" height="15.2" fill="#d8c0e0" stroke="#303030" stroke-width="0.6"/>
<rect x="694.5" y="175.2" width="16.8" height="15.2" fill="#fdd890" stroke="#303030" stroke-width="0.6"/>
<rect x="711.2" y="175.2" width="16.8" height="15.2" fill="#b8d4f0" stroke="#303030" stroke-width="0.6"/>
<rect x="728" y="175.2" width="16.8" height="15.2" fill="#c4a4d4" stroke="#303030" stroke-width="0.6"/>
<rect x="744.8" y="175.2" width="16.8" height="15.2" fill="#fef0d0" stroke="#303030" stroke-width="0.6"/>
<rect x="562.8" y="190.4" width="14.5" height="15.9" fill="#eef4fb" stroke="#303030" stroke-width="0.6"/>
<rect x="577.2" y="190.4" width="16.8" height="15.9" fill="#f6f0f8" stroke="#303030" stroke-width="0.6"/>
<rect x="594" y="190.4" width="16.8" height="15.9" fill="#fdecc4" stroke="#303030" stroke-width="0.6"/>
<rect x="610.8" y="190.4" width="16.8" height="15.9" fill="#a8cbec" stroke="#303030" stroke-width="0.6"/>
<rect x="627.5" y="190.4" width="16.8" height="15.9" fill="#c0a0d0" stroke="#303030" stroke-width="0.6"/>
<rect x="644.2" y="190.4" width="16.8" height="15.9" fill="#fde0a8" stroke="#303030" stroke-width="0.6"/>
<rect x="661" y="190.4" width="16.8" height="15.9" fill="#a8cbec" stroke="#303030" stroke-width="0.6"/>
<rect x="677.8" y="190.4" width="16.8" height="15.9" fill="#dcc8e4" stroke="#303030" stroke-width="0.6"/>
<rect x="694.5" y="190.4" width="16.8" height="15.9" fill="#fde0a8" stroke="#303030" stroke-width="0.6"/>
<rect x="711.2" y="190.4" width="16.8" height="15.9" fill="#b8d4f0" stroke="#303030" stroke-width="0.6"/>
<rect x="728" y="190.4" width="16.8" height="15.9" fill="#c0a0d0" stroke="#303030" stroke-width="0.6"/>
<rect x="744.8" y="190.4" width="16.8" height="15.9" fill="#fdecc4" stroke="#303030" stroke-width="0.6"/>
<defs><linearGradient id="sheen" x1="0" y1="0" x2="1" y2="1"><stop offset="0" stop-color="#fff" stop-opacity="0.42"/><stop offset="0.55" stop-color="#fff" stop-opacity="0.08"/><stop offset="1" stop-color="#345" stop-opacity="0.03"/></linearGradient></defs>
<rect x="563.1" y="146.7" width="13.9" height="13.3" fill="url(#sheen)"/>
<rect x="577.5" y="146.7" width="16.1" height="13.3" fill="url(#sheen)"/>
<rect x="594.3" y="146.7" width="16.1" height="13.3" fill="url(#sheen)"/>
<rect x="611" y="146.7" width="16.1" height="13.3" fill="url(#sheen)"/>
<rect x="627.8" y="146.7" width="16.1" height="13.3" fill="url(#sheen)"/>
<rect x="644.5" y="146.7" width="16.1" height="13.3" fill="url(#sheen)"/>
<rect x="661.3" y="146.7" width="16.1" height="13.3" fill="url(#sheen)"/>
<rect x="678" y="146.7" width="16.1" height="13.3" fill="url(#sheen)"/>
<rect x="694.8" y="146.7" width="16.1" height="13.3" fill="url(#sheen)"/>
<rect x="711.5" y="146.7" width="16.1" height="13.3" fill="url(#sheen)"/>
<rect x="728.3" y="146.7" width="16.1" height="13.3" fill="url(#sheen)"/>
<rect x="745" y="146.7" width="16.1" height="13.3" fill="url(#sheen)"/>
<rect x="563.1" y="160.6" width="13.9" height="14.3" fill="url(#sheen)"/>
<rect x="577.5" y="160.6" width="16.1" height="14.3" fill="url(#sheen)"/>
<rect x="594.3" y="160.6" width="16.1" height="14.3" fill="url(#sheen)"/>
<rect x="611" y="160.6" width="16.1" height="14.3" fill="url(#sheen)"/>
<rect x="627.8" y="160.6" width="16.1" height="14.3" fill="url(#sheen)"/>
<rect x="644.5" y="160.6" width="16.1" height="14.3" fill="url(#sheen)"/>
<rect x="661.3" y="160.6" width="16.1" height="14.3" fill="url(#sheen)"/>
<rect x="678" y="160.6" width="16.1" height="14.3" fill="url(#sheen)"/>
<rect x="694.8" y="160.6" width="16.1" height="14.3" fill="url(#sheen)"/>
<rect x="711.5" y="160.6" width="16.1" height="14.3" fill="url(#sheen)"/>
<rect x="728.3" y="160.6" width="16.1" height="14.3" fill="url(#sheen)"/>
<rect x="745" y="160.6" width="16.1" height="14.3" fill="url(#sheen)"/>
<rect x="563.1" y="175.5" width="13.9" height="14.6" fill="url(#sheen)"/>
<rect x="577.5" y="175.5" width="16.1" height="14.6" fill="url(#sheen)"/>
<rect x="594.3" y="175.5" width="16.1" height="14.6" fill="url(#sheen)"/>
<rect x="611" y="175.5" width="16.1" height="14.6" fill="url(#sheen)"/>
<rect x="627.8" y="175.5" width="16.1" height="14.6" fill="url(#sheen)"/>
<rect x="644.5" y="175.5" width="16.1" height="14.6" fill="url(#sheen)"/>
<rect x="661.3" y="175.5" width="16.1" height="14.6" fill="url(#sheen)"/>
<rect x="678" y="175.5" width="16.1" height="14.6" fill="url(#sheen)"/>
<rect x="694.8" y="175.5" width="16.1" height="14.6" fill="url(#sheen)"/>
<rect x="711.5" y="175.5" width="16.1" height="14.6" fill="url(#sheen)"/>
<rect x="728.3" y="175.5" width="16.1" height="14.6" fill="url(#sheen)"/>
<rect x="745" y="175.5" width="16.1" height="14.6" fill="url(#sheen)"/>
<rect x="563.1" y="190.7" width="13.9" height="15.3" fill="url(#sheen)"/>
<rect x="577.5" y="190.7" width="16.1" height="15.3" fill="url(#sheen)"/>
<rect x="594.3" y="190.7" width="16.1" height="15.3" fill="url(#sheen)"/>
<rect x="611" y="190.7" width="16.1" height="15.3" fill="url(#sheen)"/>
<rect x="627.8" y="190.7" width="16.1" height="15.3" fill="url(#sheen)"/>
<rect x="644.5" y="190.7" width="16.1" height="15.3" fill="url(#sheen)"/>
<rect x="661.3" y="190.7" width="16.1" height="15.3" fill="url(#sheen)"/>
<rect x="678" y="190.7" width="16.1" height="15.3" fill="url(#sheen)"/>
<rect x="694.8" y="190.7" width="16.1" height="15.3" fill="url(#sheen)"/>
<rect x="711.5" y="190.7" width="16.1" height="15.3" fill="url(#sheen)"/>
<rect x="728.3" y="190.7" width="16.1" height="15.3" fill="url(#sheen)"/>
<rect x="745" y="190.7" width="16.1" height="15.3" fill="url(#sheen)"/>
<g font-size="14" text-anchor="middle">
<text x="576.4" y="139.9">A</text>
<text x="591" y="139.9">B</text>
<text x="608.3" y="139.9">D</text>
<text x="625.1" y="139.9">A</text>
<text x="640" y="139.9">B</text>
<text x="656.7" y="139.9">D</text>
<text x="675.6" y="139.9">A</text>
<text x="690.5" y="139.9">B</text>
<text x="707.7" y="139.9">D</text>
<text x="726.8" y="139.9">A</text>
<text x="741.8" y="139.9">B</text>
<text x="758.2" y="139.9">D</text>
</g>
<line x1="571.7" y1="123.8" x2="615.3" y2="123.8" stroke="#000" stroke-width="1.1"/>
<text x="590.5" y="120.8" font-size="13.5" transform="rotate(-58 590.5 120.8)">Triad 1</text>
<line x1="621.2" y1="123.8" x2="664.4" y2="123.8" stroke="#000" stroke-width="1.1"/>
<text x="637.7" y="120.8" font-size="13.5" transform="rotate(-58 637.7 120.8)">Triad 2</text>
<line x1="671.2" y1="123.8" x2="715" y2="123.8" stroke="#000" stroke-width="1.1"/>
<text x="691.3" y="113.4" font-size="15" text-anchor="middle">...</text>
<line x1="722.5" y1="123.8" x2="766.6" y2="123.8" stroke="#000" stroke-width="1.1"/>
<text x="738.3" y="120.8" font-size="13.5" transform="rotate(-58 738.3 120.8)">Triad 16427</text>
<g font-size="13.7" text-anchor="end">
<text x="562.3" y="160.3">Cell 1</text>
<text x="562.3" y="175">Cell 2</text>
<text x="562.3" y="205.8">Cell 4935</text>
</g>
<circle cx="541.3" cy="184.2" r="0.8" fill="#000"/>
<circle cx="541.3" cy="187.2" r="0.8" fill="#000"/>
<circle cx="541.3" cy="190.2" r="0.8" fill="#000"/>
<rect x="561.6" y="188.9" width="210.9" height="20.1" fill="none" stroke="#d7282f" stroke-width="1.4"/>
<line x1="561.6" y1="209" x2="4.5" y2="317" stroke="#000" stroke-width="0.9"/>
<line x1="772.5" y1="209" x2="781.5" y2="317" stroke="#000" stroke-width="0.9"/>
<text x="345.8" y="307.4" font-size="13.7">A single cell</text>
</g>
<g id="panel-cde">
<rect x="4.5" y="317" width="777" height="231.4" fill="none" stroke="#2e2e2e" stroke-width="0.8" stroke-dasharray="3.2 2.3"/>
<text x="9" y="343" font-size="21" font-weight="bold">(c)</text>
<rect x="58" y="363" width="66.6" height="165.6" fill="#d9d9d9"/>
<rect x="58" y="363" width="22.2" height="1.1" fill="#247ac1"/>
<rect x="58" y="364" width="22.2" height="1.1" fill="#247ac1"/>
<rect x="58" y="365" width="22.2" height="1.1" fill="#247ac1"/>
<rect x="58" y="366" width="22.2" height="1.1" fill="#2e80c4"/>
<rect x="58" y="367" width="22.2" height="1.1" fill="#7db2dd"/>
<rect x="58" y="368" width="22.2" height="1.1" fill="#5599d1"/>
<rect x="58" y="369" width="22.2" height="1.1" fill="#9bc5e6"/>
<rect x="58" y="370" width="22.2" height="1.1" fill="#7db2dd"/>
<rect x="58" y="371" width="22.2" height="1.1" fill="#4c93ce"/>
<rect x="58" y="372" width="22.2" height="1.1" fill="#3887c7"/>
<rect x="58" y="373" width="22.2" height="1.1" fill="#2e80c4"/>
<rect x="58" y="374" width="22.2" height="1.1" fill="#3887c7"/>
<rect x="58" y="375" width="22.2" height="1.1" fill="#73acda"/>
<rect x="58" y="376" width="22.2" height="1.1" fill="#a5cbe9"/>
<rect x="58" y="377" width="22.2" height="1.1" fill="#73acda"/>
<rect x="58" y="378" width="22.2" height="1.1" fill="#b8d7f0"/>
<rect x="58" y="379" width="22.2" height="1.1" fill="#69a6d7"/>
<rect x="58" y="380" width="22.2" height="1.1" fill="#9bc5e6"/>
<rect x="58" y="381" width="22.2" height="1.1" fill="#b8d7f0"/>
<rect x="80.2" y="363" width="22.2" height="1.1" fill="#c8e1f5"/>
<rect x="80.2" y="364" width="22.2" height="1.1" fill="#b8d7f0"/>
<rect x="80.2" y="365" width="22.2" height="1.1" fill="#7db2dd"/>
<rect x="80.2" y="366" width="22.2" height="1.1" fill="#a5cbe9"/>
<rect x="80.2" y="367" width="22.2" height="1.1" fill="#69a6d7"/>
<rect x="80.2" y="368" width="22.2" height="1.1" fill="#3887c7"/>
<rect x="80.2" y="369" width="22.2" height="1.1" fill="#2a7ec3"/>
<rect x="80.2" y="370" width="22.2" height="1.1" fill="#2e80c4"/>
<rect x="80.2" y="371" width="22.2" height="1.1" fill="#428dca"/>
<rect x="80.2" y="372" width="22.2" height="1.1" fill="#87b8e0"/>
<rect x="80.2" y="373" width="22.2" height="1.1" fill="#a5cbe9"/>
<rect x="80.2" y="374" width="22.2" height="1.1" fill="#a5cbe9"/>
<rect x="80.2" y="375" width="22.2" height="1.1" fill="#7db2dd"/>
<rect x="80.2" y="376" width="22.2" height="1.1" fill="#73acda"/>
<rect x="80.2" y="377" width="22.2" height="1.1" fill="#b8d7f0"/>
<rect x="80.2" y="378" width="22.2" height="1.1" fill="#c2ddf3"/>
<rect x="80.2" y="379" width="22.2" height="1.1" fill="#c2ddf3"/>
<rect x="80.2" y="380" width="22.2" height="1.1" fill="#b4d5ee"/>
<rect x="80.2" y="381" width="22.2" height="1.1" fill="#c2ddf3"/>
<rect x="80.2" y="382" width="22.2" height="1.1" fill="#91bee3"/>
<rect x="80.2" y="383" width="22.2" height="1.1" fill="#7db2dd"/>
<rect x="80.2" y="384" width="22.2" height="1.1" fill="#69a6d7"/>
<rect x="80.2" y="385" width="22.2" height="1.1" fill="#428dca"/>
<rect x="80.2" y="386" width="22.2" height="1.1" fill="#3887c7"/>
<rect x="80.2" y="387" width="22.2" height="1.1" fill="#2e80c4"/>
<rect x="80.2" y="388" width="22.2" height="1.1" fill="#2e80c4"/>
<rect x="80.2" y="389" width="22.2" height="1.1" fill="#428dca"/>
<rect x="80.2" y="390" width="22.2" height="1.1" fill="#7db2dd"/>
<rect x="80.2" y="391" width="22.2" height="1.1" fill="#aed1ec"/>
<rect x="80.2" y="392" width="22.2" height="1.1" fill="#5f9fd4"/>
<rect x="80.2" y="393" width="22.2" height="1.1" fill="#a5cbe9"/>
<rect x="80.2" y="394" width="22.2" height="1.1" fill="#69a6d7"/>
<rect x="80.2" y="395" width="22.2" height="1.1" fill="#73acda"/>
<rect x="102.4" y="363" width="22.2" height="1.1" fill="#c8e1f5"/>
<rect x="102.4" y="364" width="22.2" height="1.1" fill="#b8d7f0"/>
<rect x="102.4" y="365" width="22.2" height="1.1" fill="#a5cbe9"/>
<rect x="102.4" y="366" width="22.2" height="1.1" fill="#73acda"/>
<rect x="102.4" y="367" width="22.2" height="1.1" fill="#73acda"/>
<rect x="102.4" y="368" width="22.2" height="1.1" fill="#7db2dd"/>
<rect x="102.4" y="369" width="22.2" height="1.1" fill="#2e80c4"/>
<rect x="102.4" y="370" width="22.2" height="1.1" fill="#2a7ec3"/>
<rect x="102.4" y="371" width="22.2" height="1.1" fill="#2a7ec3"/>
<rect x="102.4" y="372" width="22.2" height="1.1" fill="#428dca"/>
<rect x="102.4" y="373" width="22.2" height="1.1" fill="#87b8e0"/>
<rect x="102.4" y="374" width="22.2" height="1.1" fill="#aed1ec"/>
<rect x="102.4" y="375" width="22.2" height="1.1" fill="#91bee3"/>
<rect x="102.4" y="376" width="22.2" height="1.1" fill="#73acda"/>
<rect x="102.4" y="377" width="22.2" height="1.1" fill="#a5cbe9"/>
<rect x="102.4" y="378" width="22.2" height="1.1" fill="#5599d1"/>
<rect x="102.4" y="379" width="22.2" height="1.1" fill="#73acda"/>
<rect x="102.4" y="380" width="22.2" height="1.1" fill="#b8d7f0"/>
<rect x="102.4" y="381" width="22.2" height="1.1" fill="#87b8e0"/>
<rect x="102.4" y="382" width="22.2" height="1.1" fill="#91bee3"/>
<rect x="102.4" y="383" width="22.2" height="1.1" fill="#b8d7f0"/>
<rect x="102.4" y="384" width="22.2" height="1.1" fill="#69a6d7"/>
<rect x="102.4" y="385" width="22.2" height="1.1" fill="#468fcc"/>
<rect x="102.4" y="386" width="22.2" height="1.1" fill="#468fcc"/>
<rect x="102.4" y="387" width="22.2" height="1.1" fill="#69a6d7"/>
<rect x="102.4" y="388" width="22.2" height="1.1" fill="#9bc5e6"/>
<rect x="102.4" y="389" width="22.2" height="1.1" fill="#5599d1"/>
<rect x="102.4" y="390" width="22.2" height="1.1" fill="#5599d1"/>
<rect x="102.4" y="391" width="22.2" height="1.1" fill="#9bc5e6"/>
<rect x="128.4" y="363" width="10.6" height="164" fill="#d9d9d9"/>
<rect x="128.4" y="363" width="10.6" height="1.1" fill="#6f8c6c"/>
<rect x="128.4" y="364" width="10.6" height="1.1" fill="#85905a"/>
<rect x="128.4" y="365" width="10.6" height="1.1" fill="#c0983c"/>
<rect x="128.4" y="366" width="10.6" height="1.1" fill="#7f8c52"/>
<rect x="128.4" y="367" width="10.6" height="1.1" fill="#cfa033"/>
<rect x="128.4" y="368" width="10.6" height="1.1" fill="#b09a45"/>
<rect x="128.4" y="369" width="10.6" height="1.1" fill="#95a058"/>
<rect x="128.4" y="370" width="10.6" height="1.1" fill="#8aaa60"/>
<rect x="128.4" y="371" width="10.6" height="1.1" fill="#8eae62"/>
<rect x="128.4" y="372" width="10.6" height="1.1" fill="#86a85e"/>
<rect x="128.4" y="373" width="10.6" height="1.1" fill="#8aaa60"/>
<rect x="128.4" y="374" width="10.6" height="1.1" fill="#9aa556"/>
<rect x="128.4" y="375" width="10.6" height="1.1" fill="#a89f50"/>
<rect x="128.4" y="376" width="10.6" height="1.1" fill="#8a9a58"/>
<rect x="128.4" y="377" width="10.6" height="1.1" fill="#96905c"/>
<rect x="128.4" y="378" width="10.6" height="1.1" fill="#a08060"/>
<rect x="128.4" y="379" width="10.6" height="1.1" fill="#a0705c"/>
<rect x="128.4" y="380" width="10.6" height="1.1" fill="#9c7460"/>
<rect x="128.4" y="381" width="10.6" height="1.1" fill="#a6785a"/>
<rect x="128.4" y="382" width="10.6" height="1.1" fill="#98705e"/>
<rect x="128.4" y="383" width="10.6" height="1.1" fill="#a07a58"/>
<rect x="128.4" y="384" width="10.6" height="1.1" fill="#9a7a5a"/>
<rect x="128.4" y="385" width="10.6" height="1.1" fill="#90903a"/>
<rect x="128.4" y="386" width="10.6" height="1.1" fill="#989636"/>
<rect x="128.4" y="387" width="10.6" height="1.1" fill="#b0a030"/>
<rect x="128.4" y="388" width="10.6" height="1.1" fill="#a89c34"/>
<rect x="128.4" y="389" width="10.6" height="1.1" fill="#909a40"/>
<rect x="128.4" y="390" width="10.6" height="1.1" fill="#b8a035"/>
<rect x="128.4" y="391" width="10.6" height="1.1" fill="#c8a030"/>
<rect x="128.4" y="392" width="10.6" height="1.1" fill="#8a9040"/>
<rect x="128.4" y="393" width="10.6" height="1.1" fill="#c49232"/>
<rect x="128.4" y="394" width="10.6" height="1.1" fill="#c89030"/>
<rect x="128.4" y="395" width="10.6" height="1.1" fill="#d09a30"/>
<rect x="128.4" y="396" width="10.6" height="1.1" fill="#cc9832"/>
<g font-size="16.5" text-anchor="middle">
<text x="66.6" y="360.7">A</text>
<text x="90.2" y="360.7">B</text>
<text x="114.6" y="360.7">D</text>
</g>
<text x="48.7" y="445.6" font-size="16.5" text-anchor="middle" transform="rotate(-90 48.7 445.6)">~10 thousand triad genes</text>
<text x="151.2" y="445" font-size="16.4">Expression</text>
<defs><linearGradient id="expg" x1="0" y1="0" x2="0" y2="1"><stop offset="0" stop-color="#1c76bf"/><stop offset="1" stop-color="#e8f2fb"/></linearGradient></defs>
<rect x="152.5" y="453" width="7.8" height="45.4" fill="url(#expg)"/>
<text x="165.5" y="466.1" font-size="16.4">high</text>
<text x="165.5" y="498.3" font-size="16.4">low</text>
<rect x="152.5" y="509.3" width="7.8" height="8" fill="#d9d9d9"/>
<text x="166.5" y="517" font-size="16.4">non-detectable</text>
<line x1="141.5" y1="363.5" x2="283" y2="362.5" stroke="#000" stroke-width="0.9"/>
<line x1="141.5" y1="363.5" x2="273.5" y2="458.5" stroke="#000" stroke-width="0.9"/>
<text x="246.3" y="343.3" font-size="21" font-weight="bold">(d)</text>
<rect x="284.6" y="362.4" width="26.6" height="23.1" fill="#1b73c0" stroke="#222" stroke-width="0.8"/>
<rect x="311.2" y="362.4" width="26.6" height="23.1" fill="#eeeeee" stroke="#222" stroke-width="0.8"/>
<rect x="337.8" y="362.4" width="26.6" height="23.1" fill="#eeeeee" stroke="#222" stroke-width="0.8"/>
<rect x="284.6" y="385.5" width="26.6" height="23.1" fill="#eeeeee" stroke="#222" stroke-width="0.8"/>
<rect x="311.2" y="385.5" width="26.6" height="23.1" fill="#1b73c0" stroke="#222" stroke-width="0.8"/>
<rect x="337.8" y="385.5" width="26.6" height="23.1" fill="#1b73c0" stroke="#222" stroke-width="0.8"/>
<rect x="284.6" y="408.5" width="26.6" height="23.1" fill="#eeeeee" stroke="#222" stroke-width="0.8"/>
<rect x="311.2" y="408.5" width="26.6" height="23.1" fill="#1b73c0" stroke="#222" stroke-width="0.8"/>
<rect x="337.8" y="408.5" width="26.6" height="23.1" fill="#eeeeee" stroke="#222" stroke-width="0.8"/>
<rect x="284.6" y="431.6" width="26.6" height="23.1" fill="#1b73c0" stroke="#222" stroke-width="0.8"/>
<rect x="311.2" y="431.6" width="26.6" height="23.1" fill="#eeeeee" stroke="#222" stroke-width="0.8"/>
<rect x="337.8" y="431.6" width="26.6" height="23.1" fill="#1b73c0" stroke="#222" stroke-width="0.8"/>
<rect x="284.6" y="454.6" width="26.6" height="23.1" fill="#eeeeee" stroke="#222" stroke-width="0.8"/>
<rect x="311.2" y="454.6" width="26.6" height="23.1" fill="#eeeeee" stroke="#222" stroke-width="0.8"/>
<rect x="337.8" y="454.6" width="26.6" height="23.1" fill="#1b73c0" stroke="#222" stroke-width="0.8"/>
<rect x="284.6" y="477.7" width="26.6" height="23.1" fill="#1b73c0" stroke="#222" stroke-width="0.8"/>
<rect x="311.2" y="477.7" width="26.6" height="23.1" fill="#1b73c0" stroke="#222" stroke-width="0.8"/>
<rect x="337.8" y="477.7" width="26.6" height="23.1" fill="#eeeeee" stroke="#222" stroke-width="0.8"/>
<rect x="284.6" y="500.7" width="26.6" height="23.1" fill="#1b73c0" stroke="#222" stroke-width="0.8"/>
<rect x="311.2" y="500.7" width="26.6" height="23.1" fill="#1b73c0" stroke="#222" stroke-width="0.8"/>
<rect x="337.8" y="500.7" width="26.6" height="23.1" fill="#1b73c0" stroke="#222" stroke-width="0.8"/>
<g font-size="16.5" text-anchor="middle">
<text x="296.4" y="358.8">A</text>
<text x="325" y="358.8">B</text>
<text x="349.9" y="358.8">D</text>
</g>
<g font-size="16.4">
<rect x="369.6" y="363.2" width="11.6" height="21.5" fill="#5aa84b"/>
<text x="386.6" y="377.5">A dominant</text>
<rect x="369.6" y="386.3" width="11.6" height="21.5" fill="#a6d89c"/>
<text x="386.6" y="401.2">A suppressed</text>
<rect x="369.6" y="409.3" width="11.6" height="21.5" fill="#54308f"/>
<text x="386.6" y="424.8">B dominant</text>
<rect x="369.6" y="432.4" width="11.6" height="21.5" fill="#3cb6f6"/>
<text x="386.6" y="448.5">B suppressed</text>
<rect x="369.6" y="455.4" width="11.6" height="21.5" fill="#f59432"/>
<text x="386.6" y="472.2">D dominant</text>
<rect x="369.6" y="478.5" width="11.6" height="21.5" fill="#fdc62f"/>
<text x="386.6" y="495.9">D suppressed</text>
<rect x="369.6" y="501.5" width="11.6" height="21.5" fill="#9c9c9c"/>
<text x="386.6" y="519.5">Balanced</text>
</g>
<text x="522.5" y="343" font-size="21" font-weight="bold">(e)</text>
<polygon points="571.8,494 628.2,396.9 684.8,494" fill="none" stroke="#111" stroke-width="0.9"/>
<line x1="628.2" y1="461.2" x2="571.8" y2="494" stroke="#222" stroke-width="0.8" stroke-dasharray="3.6 2.6"/>
<line x1="628.2" y1="461.2" x2="628.2" y2="396.9" stroke="#222" stroke-width="0.8" stroke-dasharray="3.6 2.6"/>
<line x1="628.2" y1="461.2" x2="684.8" y2="494" stroke="#222" stroke-width="0.8" stroke-dasharray="3.6 2.6"/>
<line x1="628.2" y1="461.2" x2="620.5" y2="442.7" stroke="#000" stroke-width="0.8"/>
<polygon points="619.3,439.9 622.2,442.6 619.2,443.8" fill="#000"/>
<line x1="628.2" y1="461.2" x2="617.1" y2="460.9" stroke="#000" stroke-width="0.8"/>
<polygon points="614,460.9 617.7,459.4 617.6,462.6" fill="#000"/>
<line x1="628.2" y1="461.2" x2="640.3" y2="476.6" stroke="#000" stroke-width="0.8"/>
<polygon points="642.2,479.1 638.7,477.2 641.3,475.3" fill="#000"/>
<circle cx="617.4" cy="435.2" r="4" fill="#1a73c0"/>
<circle cx="639.8" cy="441.7" r="4" fill="#1a73c0"/>
<circle cx="610.9" cy="460.8" r="4" fill="#1a73c0"/>
<circle cx="614.3" cy="479" r="4" fill="#1a73c0"/>
<circle cx="645.3" cy="483" r="4" fill="#1a73c0"/>
<circle cx="628.2" cy="461.2" r="4.2" fill="#e5212d"/>
<g font-size="16.3">
<text x="629.4" y="391.6" text-anchor="middle">B</text>
<text x="557.8" y="500.1">A</text>
<text x="688" y="500.1">D</text>
<text x="603.8" y="428.2">gene 3</text>
<text x="578.3" y="474.7">gene 2</text>
<text x="632.2" y="494.6">gene 1</text>
<text x="672.4" y="409">gene</text>
<text x="672.4" y="431.4">balance point</text>
</g>
<circle cx="665.9" cy="405.6" r="4" fill="#1a73c0"/>
<circle cx="665.9" cy="426.6" r="4" fill="#e5212d"/>
</g>
<g id="panel-f">
<text x="13.5" y="588" font-size="21" font-weight="bold">(f)</text>
<polygon points="187,705 187.8,706.4 188.6,707.9 189.7,709.5 190.6,711.2 191.7,713.1 192.9,715.2 194.4,717.7 196,720.4 197.8,723.6 199.9,727.2 195.7,727.3 192.1,727.3 188.9,727.3 186,727.2 183.6,727.2 181.4,727.2 179.3,727.1 177.5,727.2 175.8,727.1 174.1,727 172.7,727.2 171.2,727.1 169.9,727.1 168.6,727 167.3,727.1 166.1,727.2 164.9,727.1 163.7,727 162.6,727.1 161.4,726.9 160.2,727.1 159.1,727 157.9,727.1 156.7,727.2 155.5,727.1 154.2,727 152.9,727.1 151.6,727.1 150.1,727.2 148.7,727 147,727.1 145.3,727.2 143.5,727.1 141.4,727.2 139.2,727.2 136.8,727.2 133.9,727.3 130.7,727.3 127.1,727.3 122.9,727.2 125,723.6 126.8,720.4 128.4,717.7 129.9,715.2 131.1,713.1 132.2,711.2 133.1,709.5 134.2,707.9 135,706.4 135.7,705 136.5,703.7 137.4,702.5 138,701.3 138.8,700.2 139.3,699.1 139.9,698 140.5,697 141.2,696 141.7,694.9 142.2,693.9 142.8,692.9 143.5,692 144,690.9 144.6,689.8 145.2,688.8 145.9,687.8 146.5,686.6 147.2,685.5 147.8,684.1 148.6,682.8 149.4,681.5 150.3,680 151.2,678.5 152.2,676.6 153.3,674.7 154.5,672.6 155.9,670 157.4,667.3 159.3,664.2 161.4,660.6 163.5,664.2 165.4,667.3 166.9,670 168.3,672.6 169.5,674.7 170.6,676.6 171.6,678.5 172.5,680 173.4,681.5 174.2,682.8 175,684.1 175.6,685.5 176.3,686.6 176.9,687.8 177.6,688.8 178.2,689.8 178.8,690.9 179.3,692 180,692.9 180.6,693.9 181.1,694.9 181.6,696 182.3,697 182.9,698 183.5,699.1 184,700.2 184.8,701.3 185.4,702.5 186.3,703.7" fill="#9c9c9c"/>
<path d="M141.8 686.9h0M129.9 712.9h0M153.5 671.6h0M138.7 688.1h0M141.6 654.8h0M150.2 676.5h0M110.7 705.4h0M129.7 705.9h0M150.1 661.5h0M130 700.8h0M138.2 694.5h0M143.8 670.1h0M140.9 663.2h0M124 694.7h0M132.1 709.1h0M142.1 682.3h0M123.7 692.1h0M150.9 658.2h0M142.2 678.5h0M154 661.9h0M133.1 692.3h0M135.3 679.2h0M145 686.3h0M136.7 690.3h0M133 691.8h0M148.3 668.5h0M130.3 684h0M109.7 715.8h0M133.4 706.6h0M136.7 690.8h0M143.9 666.5h0M155.3 667.2h0M156.3 664.3h0M124.9 689.9h0M159.2 660.9h0M135.4 686.7h0M151.5 675h0M125.8 690.8h0M111.7 716.9h0M143 679h0M128.9 698.4h0M127 709.9h0M145 687.1h0M119.9 697h0M128.4 700.4h0M138.4 697.2h0M150.1 668.8h0M148.7 660.4h0M148.1 679.9h0M140.3 687.1h0M138.6 666h0M133.6 690.7h0M118.7 695.8h0M126.2 711.5h0M113.1 704.5h0M126.5 710.9h0M131.3 709.2h0M117.3 711.5h0M121.1 719.7h0M140.1 663.5h0M131.9 674.1h0M124.9 713.8h0M126.5 693.3h0M148.1 662.5h0M128.7 688.5h0M146.6 680.9h0M147.4 652.8h0M130.1 708.2h0M139.3 669h0M146.6 681.7h0M114.2 715.1h0M139.6 663.4h0M119.8 690.6h0M118.6 710.6h0M123.6 695.1h0M150.7 674.2h0M124 680.8h0M139.7 662.5h0M128.9 688.6h0M120.1 704h0M130 690.1h0M145.7 683h0M121.3 717.8h0M139.2 691.7h0M120.6 724.7h0M105.7 714.1h0M120.1 705.9h0M123.4 703.4h0M107.2 717.7h0M125.2 696.5h0M150.2 679h0M130.8 688h0M143.6 690.4h0M125.3 702.9h0M126.4 709.3h0M141.8 665.4h0M123.3 724.9h0M135.6 696.6h0M141.2 662.4h0M124.4 701h0M120.9 695.8h0M143.7 689.3h0M141.3 655.4h0M119.6 721.8h0M136.9 674.6h0M134.8 701.2h0M125.9 705.9h0M145.6 655.3h0M122.3 713.9h0M150 665.8h0M127.4 680.9h0M137.4 665.5h0M120.5 708.4h0M123.4 684.7h0M124.6 714.3h0M108.3 711h0M132 700h0M144.6 672.4h0M129.1 687.1h0M126.1 683.2h0M148.4 662h0M123.8 717.1h0M105.8 715.9h0M149.6 675.8h0M124.8 702.7h0M138 691.5h0M138.1 689.7h0M134.8 702.6h0M137.3 699.8h0M115.1 706.9h0M120 718.4h0M122.3 721.7h0M144.3 669.3h0M135.5 674.7h0M140.5 672.3h0M118.5 721.4h0M147.8 672.2h0M141.1 692h0M125.1 683.5h0M126.7 717.5h0M125.8 685.1h0M134.2 684.6h0M128.9 688.9h0M122.5 703.5h0M155.6 660.8h0M118.9 693.9h0M120.9 721.8h0M146.8 670h0M119.9 717.9h0M119.8 696.4h0M127.3 682.6h0M147.4 662.4h0M116.5 711.3h0M128.7 679.6h0M116.5 699.4h0M126.3 710.4h0M122.7 723.4h0M135.6 690h0M130.3 695h0M122.2 686.8h0M144 659.2h0M118.3 693.8h0M143.4 681.5h0M120.3 706.1h0M123.7 722.4h0M134.4 673.1h0M127 685.9h0M138.6 671.5h0M120 703.4h0M143.7 690.4h0M110.4 714.3h0M134.6 692.4h0M138.7 691.6h0M111.8 720.3h0M129.4 711.3h0M111.8 714h0M143.1 653.5h0M141.5 669.7h0M113.8 703h0M125.8 714.1h0M127.2 691.1h0M139.5 661h0M129.7 704.2h0M119.7 701.9h0M139.1 668.5h0M146.9 684.8h0M123.4 695h0M150.8 666.6h0M156.3 667.6h0M138.6 676h0M158.5 658.5h0M134.3 700.5h0M137.5 691.7h0M126.7 679.5h0M150.4 656.6h0M131.8 690.5h0M143.3 675.2h0M117.6 723.4h0M124.6 714.5h0M132.8 701.4h0M152.6 657.4h0M135 701.7h0M144.2 678.2h0M127 692.8h0M144.3 683.6h0M130.5 686.7h0M147.7 674.4h0M114.1 720.2h0M140.2 691.3h0M133 686.1h0M137.8 676.4h0M144.7 679.5h0M119.9 708.4h0M150 667.4h0M148.5 656.1h0M151 656.5h0M124 697.3h0M140.3 661.4h0M138.4 677.8h0M125.2 705.3h0M132.3 689.3h0M141.4 693.5h0M132.6 680.7h0M149.1 677.6h0M140.9 656.7h0M117.5 715.9h0M114.5 701h0M124.5 718.3h0M137.6 669.3h0M122.1 697.9h0M117.9 707.1h0M126.4 710.8h0M121.3 707.8h0M134.1 669.1h0M135.6 681.5h0M133.2 675.4h0M151.2 663.6h0M140 675.3h0M132.3 706.9h0M119.3 701.6h0M135.9 671.9h0M111.5 715.2h0M155 662.7h0M135.4 694.5h0M115.1 700.6h0M126.6 684.7h0M129.6 682.8h0M129.6 696.6h0M118.5 718.4h0M119 704.7h0M136.2 660.6h0M148.1 661.6h0M111.9 715.9h0M148 671.2h0M138.6 686.7h0M128.7 693.7h0M123.6 715.2h0M127.3 698.6h0M131.9 685.9h0M148.4 678.5h0M145.4 680.9h0M137.6 676.8h0M151.1 657.8h0M134.1 685.1h0M142.6 690h0M124.9 711.4h0M157 663.5h0M144 682.1h0M121.5 717.1h0M144.9 660h0M120.6 697.7h0M144.2 685.4h0M139.1 680.4h0M121.8 723.3h0M122.7 695.4h0M151 673.4h0M142.2 685.6h0M150.4 660.3h0M155.8 663.6h0M131.2 697.2h0M143.7 674.7h0M140.7 690.8h0M132.9 698h0M117.9 721h0M143.7 678.2h0M114.5 711.2h0M115.9 714.1h0M122.2 701.9h0M114.6 719.9h0M146.4 677.3h0M143.2 672.8h0M140.8 659.5h0M136.9 700.6h0M141.8 679h0M140.9 688.8h0M120.8 715.2h0M113.7 712h0M130.3 697.3h0M142.2 690.8h0M143.8 688.2h0M135.7 685.5h0M155 665.7h0M137.7 681.1h0M157 659.9h0M129.9 675.2h0M140.2 675h0M138.5 665.3h0M141.2 690.6h0M124.8 712.9h0M148.6 673.2h0M150.2 658.7h0M143.7 658.8h0M138.5 667.5h0M110.6 713.3h0M135.4 666.1h0M136.9 688.3h0M152 655.2h0M138.5 692.5h0M141.4 649.6h0M141.3 671.5h0M127.1 694.9h0M126.9 711.7h0M126.4 685.8h0M142.3 688h0M134.5 704.5h0M129 701h0M142.1 667.7h0M159.5 662.5h0M147.5 671.6h0M133.8 686.1h0M126.9 697h0M139.2 697.5h0M121 724.7h0M117.9 694.3h0M134.4 699.2h0M103.4 716.1h0M142.3 670.8h0M111.7 717.4h0M145.7 673.3h0M128.5 696.3h0M119.7 713.3h0M111.4 716.8h0M134 701.1h0M135.5 665.8h0M138.8 679.1h0M132 685.7h0M140.5 695.3h0M143.9 683.6h0M123.6 712.2h0M122.8 701.2h0M116.5 722.5h0M144.7 680.8h0M126.7 708.9h0M153.2 657.9h0M131.1 667.8h0M132 706.3h0M157.8 662h0M121.4 691.4h0M119 714.5h0M145.2 676.1h0M144.4 663.7h0M151.6 670.4h0M143.2 688.4h0M132.1 672h0M154 665.3h0M153.6 666.2h0M114.5 709h0M151.7 671.3h0M135.4 666.5h0M114.2 720.8h0M134.2 665.9h0M120.7 719.3h0M133.8 697.1h0M152 671.8h0M147 680.9h0M156.9 666.3h0M109.9 718.6h0M128.2 714.1h0M136.1 701.9h0M125.3 685.9h0M154.4 656.4h0M132 693.9h0M152.7 662.2h0M119.8 719.8h0M117.5 713.5h0M146 682.1h0M130.1 674.3h0M142.6 683h0M150.6 665.7h0M131.4 705.2h0M143.3 675.2h0M115 720.9h0M139 693.6h0M130.7 705.3h0M147.5 668.9h0M126.2 709.9h0M111.7 716.4h0M120.4 720.5h0M126.2 713.9h0M123.9 698.3h0M149.3 672.7h0M124.8 684h0M124.1 694.5h0M119.6 711.6h0M136 667h0M124.4 683.2h0M148.6 671.5h0M149.7 674.7h0M118.7 716.5h0M125.7 703.5h0M132 701.8h0M109.6 712.6h0M144.6 681.3h0M133.7 669.9h0M121.6 701.4h0M115.3 704.7h0M151.4 661.7h0M108 710.2h0M127.3 695.7h0M127.1 678.3h0M128.4 682.8h0M144.6 666.1h0M134.2 705.2h0M121.9 724.4h0M140.2 694h0M134.2 662.2h0M117.2 723.9h0M133.6 680.5h0M128.4 675.6h0M138.4 697.9h0M122.9 714.2h0M125.3 716.7h0M121.9 688.2h0M136.5 693.9h0M139.6 687.8h0M143.7 663.1h0M122.9 724.5h0M115.8 711.8h0M144.7 666.3h0M126.3 694.3h0M127 682.1h0M143 657.8h0M158.5 659.1h0M119 694.5h0M150.9 661.5h0M133.8 683.9h0M139.8 675.8h0M147 663.8h0M138.6 664.8h0M127.3 681.7h0M105.6 717.3h0M140.3 688.6h0M144.7 673.1h0M147.8 659.6h0M139 675.9h0M124.7 701.1h0M127.6 718.2h0M120.3 697.8h0M133.2 693.7h0M130.1 706.2h0M130.3 681.3h0M139.4 680.9h0M132.6 700.5h0M128 710.9h0M122.6 697.7h0M150.9 675.8h0M139.1 684.7h0M142.4 684.2h0M127.1 688.8h0M123.6 704.6h0M117.3 699.3h0M125.2 694.9h0M151.4 676.7h0M133.5 693h0M147 684.1h0M137 664.5h0M155.4 666.9h0M121.7 698.6h0M131.6 690.7h0M145 679.1h0M142.6 682.8h0M121.3 704.7h0M131.6 691.9h0M128.6 695h0M135.7 693.1h0M141 653.7h0M119.6 718.4h0M142 685.3h0M147.5 672.2h0M122.8 718.8h0M120.8 711.6h0M118.6 709.9h0M157.2 667h0M110.6 711.5h0M142.3 672.1h0M119.9 723h0M117 716.3h0M117.6 698.3h0M131.7 703.4h0M126.6 704.4h0M134.2 663.6h0M130.3 683.6h0M148.4 680.3h0M131.8 674.7h0M138.7 692.8h0M152.9 660.8h0M106.8 710.3h0M141.5 675.2h0M119.7 695h0M135.5 672.4h0M141.2 668.6h0M140.7 682.1h0M129.1 713.8h0M154.2 665h0M136.5 682.4h0M114.2 705.1h0M129.3 686.4h0M130.4 705.1h0M140.9 694.9h0M139.1 688.8h0M156.8 665.8h0M134.1 672.5h0M145.5 665.8h0M142.3 662.4h0M144.2 674.2h0M128.3 703.9h0M137.3 673.6h0M141.7 679.2h0M118.3 689.7h0M117.6 705.3h0M154.7 657h0M136.5 662.3h0M130 688.2h0M138.8 681.9h0M123.5 707.5h0M155.7 668.9h0M122.6 713.9h0M135.8 660.3h0M150.2 654h0M134.9 703.9h0M136.8 668.8h0M132.8 705.1h0M124.4 698.1h0M140.7 677.5h0M122.3 706.2h0M155.3 663.2h0M110.7 707h0M144.3 662.6h0M118.7 724.2h0M137.3 685.6h0M131.7 691.3h0M129.2 699.1h0M153.8 668.5h0M139.1 665.5h0M123.2 696.9h0M147.2 683.9h0M132.6 705.5h0M123.6 720.1h0M140.9 686h0M117.1 715.2h0M113.8 708.8h0M153.4 660.6h0M120.8 712.2h0M115.2 719.9h0M135.1 690.3h0M146.5 676h0M133 695.4h0M128.6 710.7h0M129.4 707.3h0M145.7 660.7h0M134 696.8h0M130.2 712.5h0M122 705.8h0M138.2 694.3h0M124.2 701.3h0M147.7 683h0M105.2 712.5h0M124.2 713.8h0M139.8 685.2h0M138.6 673.4h0M125.7 692.7h0M150.7 655.8h0M154.1 668.9h0M134.8 680.2h0M147.8 676.2h0M159 663.8h0M143.9 662.3h0M128.9 677.6h0M148.6 661h0M150.2 655.2h0M134.2 692.8h0M134.4 696.6h0M115.2 720.4h0M136.5 678.3h0M131.6 670.3h0M133.4 671.8h0M129.6 713.5h0M123.9 718.1h0M146.4 676.2h0M115.8 711.3h0M114.9 721.2h0M122.8 711.4h0M132.6 709.4h0M130.8 688.8h0M146.7 662.8h0M128.3 684.7h0M142.1 686.9h0M131.2 705.5h0M143.3 691.1h0M139.5 692.5h0M147.3 677h0M128.8 689.6h0M135.3 670.1h0M128.3 708.1h0M129.5 686.2h0M109.6 709.9h0M142 683.6h0M113.4 717.4h0M146.5 667.5h0M127.5 718.3h0M129.1 682h0M123.4 707.7h0M148.9 666.6h0M139.8 664.3h0M126.4 715.1h0M142.6 690h0M131.1 705.4h0M144.5 683.1h0M138.2 678.8h0M140.5 668.3h0M134.3 680.2h0M129.1 699.3h0M146.6 666.9h0M116.3 721.8h0M115.9 719.7h0M128.4 714.9h0M125.4 689.3h0M131.6 696.2h0M133.6 702.8h0M129.3 708.7h0M155.8 669h0M134.4 698.2h0M152.2 672.3h0M136.3 694.7h0M142.7 668.8h0M130 690.5h0M111.9 703.8h0M133.8 671.5h0M119.8 705.6h0M126.7 689.8h0M151.6 671.4h0M110.6 704.1h0M135.1 691.8h0M123.8 712.9h0M152.7 672.2h0M130 703.5h0M153 666.7h0M143.3 660.2h0M146.5 682.7h0M151.7 657.5h0M148 653.7h0M127.5 712.3h0M129.2 711.3h0M126.1 702.6h0M127.5 706.9h0M134.4 689.5h0M125.3 702.4h0M136.2 698.3h0M144.3 675.2h0M138 694h0M137.7 687.1h0M136.9 682.2h0M127.7 691.1h0M132.7 676.3h0M115.5 694.9h0M130.7 710.7h0M134.7 692.6h0M123.8 687.8h0M127.6 689h0M122.3 711.4h0M118.1 706.5h0M121.7 709.6h0M125.4 693.4h0M155.1 657.8h0M147.8 661.6h0M131.7 681h0M118.1 702.6h0M118.1 713.7h0M150.3 674.4h0M147 679.4h0M148.6 656.8h0M121.1 708.7h0M113 722h0M151.8 670h0M117 712.8h0M139.6 680.3h0M122.8 688.1h0M120.7 697.8h0M140.5 683.5h0M132.9 698.3h0M129.7 686.4h0M148.3 668.2h0M110.3 718.5h0M146.3 675.9h0M133.5 705.8h0M144.3 666.4h0M147.5 677.8h0M126.3 706.4h0M137.8 678.6h0M140.6 659.1h0M151 655.4h0M146.1 683.4h0M139.8 676h0M132.8 699.7h0M143.7 671.7h0M157.6 659.8h0M124.3 706.6h0M136.7 701h0M146.9 674.7h0M143.2 691.4h0M134.9 700.4h0M157.4 659.8h0M114.7 714.6h0M115.7 710.5h0M141.8 689.5h0M126.4 710.4h0M118 713h0M132.9 688.9h0M145.7 654.6h0M131.8 677.3h0M116.1 717.2h0M135.5 683.2h0M122.9 723.2h0M143.5 683.9h0M127.7 678.3h0M124.8 707.3h0M136.9 662.6h0M138.9 659.2h0M131.3 706.5h0M145.7 664.4h0M121.8 718.3h0M141.8 674.4h0M139.5 682.8h0M150.4 672h0M140.7 680h0M138 688h0M113.8 712h0M125.5 706.7h0M120.8 686.1h0M158 661.8h0M140.5 687.4h0M155.5 659.8h0M135.7 678.1h0M126 718.7h0M150.7 674.4h0M147.3 654.9h0M122.2 724.7h0M135.9 692.3h0M139.6 665.7h0M130.5 682.7h0M120.6 703.7h0M144.4 670.7h0M126.3 714.5h0M130.3 681.7h0M112.7 714.2h0M130.8 675.1h0M136.6 680.2h0M151.1 664.6h0M126.7 685.4h0M118.9 703.7h0M142.1 661.8h0M134.4 701.8h0M110 715.7h0M150.4 677h0M158.5 662.8h0M148.6 670.5h0M129.7 689.3h0M133.1 707.5h0M130 695.3h0M111.9 712.5h0M136.2 697h0M110.4 711.4h0M114.5 704.8h0M125.5 687h0M131.7 674h0M144.2 653.6h0M135.3 676h0M125.1 708.5h0M131 671.6h0M153.6 670.9h0M109.2 719.7h0M138.8 666h0M123.1 718.9h0M144.9 663h0M110.6 718h0M120.2 699.2h0M129.3 701.5h0M144.9 688.3h0M120.3 723.9h0M123.9 700.5h0M129.5 695.7h0M147.8 661.5h0M145.7 677.1h0M115.1 721.3h0M119.9 701.9h0M148.1 659.3h0M116.1 719h0M146.3 683.3h0M108.7 713.8h0M131.9 708h0M146.2 681.5h0M133.6 675.6h0M128 688.3h0M123.2 705.6h0M134.8 674h0M142.1 663.5h0M144.3 684.8h0M146.3 663.2h0M120.8 698.2h0M132.6 704.7h0M109.1 716.3h0M154.8 664.8h0M156 666.2h0M129.1 714.9h0M133.6 673.6h0M144.6 654.6h0M118.4 713.2h0M121.7 720.6h0M129.7 713.8h0M127.3 713.1h0M137.7 686.3h0M134.9 690.1h0M124.2 711.7h0M127.8 705.9h0M125.5 686.2h0M128.9 699.8h0M128.3 688.8h0M127.4 718.7h0M118.5 699.5h0M126.3 681.3h0M140.7 681h0M122 694.4h0M139.5 691.1h0M125.7 686.7h0M145.8 663.7h0M120.7 708.3h0M142 650.4h0M119 718.2h0M146.2 672.9h0M147.1 659.6h0M148.5 670.4h0M130.5 676.7h0M133.7 701.8h0M117.6 712.5h0M130 672.2h0M133.6 688.2h0M125.6 715.1h0M140.6 686.7h0M140.2 654.4h0M135.1 676.2h0M158.5 660.9h0M114.9 698.8h0M126 686.1h0M151 673.9h0M122.8 723.1h0M157.1 657.9h0M121.2 705h0M131.9 673.9h0M133.9 678.2h0M141.7 672.9h0M153.4 669.1h0M147.9 676.3h0M123.2 711h0M140.2 668.1h0M148.3 665.5h0M137.1 682.5h0M146.6 674.4h0M134.8 688.7h0M127 701.1h0M141.7 680.4h0M129.3 693.2h0M121.5 711.2h0M136.2 696.3h0M132.2 707.7h0M150.7 669.4h0M134 683.9h0M144.5 679.1h0M142.8 658.3h0M151.8 669.2h0M133.6 693.7h0M136.8 693.4h0M113.2 720.8h0M114.1 703.8h0M126.6 705.7h0M121.6 716.6h0M115.6 700.6h0M117.4 701.9h0M138.2 670.1h0M132.5 707h0M132.5 687.1h0M114.2 708.5h0M116.2 715.7h0M108.3 715.3h0M114.2 712.8h0M111.1 704.1h0M140.7 673.9h0M121.6 691.6h0M112.1 710.5h0M132.5 676.8h0M146.7 684.7h0M108.1 711.1h0M145.9 663.7h0M126 707h0M117.1 716.3h0M123.3 702.2h0M115.2 721.6h0M129.6 706.5h0M106.8 713.6h0M131.5 700h0M141.9 673.2h0" stroke="#fdc62f" stroke-width="2" stroke-linecap="round" fill="none"/>
<path d="M206.9 718h0M196.7 699.1h0M181.4 682h0M187 700.1h0M183.5 687.6h0M201.3 698h0M183.7 673.7h0M186.1 682.8h0M190.8 705.3h0M180.8 661.1h0M195.6 693.3h0M178.3 662.5h0M182.7 675.9h0M196.5 716.4h0M198.8 699h0M165.9 665.4h0M202.4 706h0M206.8 695.5h0M178.1 671.7h0M183.1 662h0M175.9 678.9h0M182.8 683h0M183.1 688.8h0M191.4 689.6h0M185.5 665.4h0M169.6 666.9h0M181.2 678.9h0M205 695.3h0M186.7 685.6h0M179.4 660.4h0M186.5 676h0M206.4 693.4h0M208.9 712h0M174.9 674.6h0M205.7 699.7h0M185.2 666.1h0M181.6 685.4h0M183.3 690.4h0M173.5 654.9h0M195 717.8h0M185.5 659.9h0M171.9 655.2h0M185.4 686h0M175.7 671.9h0M201 721.8h0M184.2 663.2h0M207.9 711.9h0M198.7 710.3h0M192.7 712.2h0M168.8 658.6h0M173.7 680.8h0M193.1 693.6h0M182.8 690h0M165.6 667.3h0M177.6 675.3h0M165.5 658.3h0M190 696.7h0M194.7 694.6h0M179.8 651h0M176.3 685.1h0M213.5 710.1h0M204.9 700.1h0M176 672.4h0M194.7 695.1h0M171.1 664.5h0M168.2 666.7h0M174.9 663.4h0M174 674.9h0M191.4 681.2h0M180.7 679.1h0M192 692.4h0M188.5 668h0M171.6 664.8h0M176.8 670.9h0M176.7 653.2h0M193.1 687.1h0M165.4 663.2h0M202.6 698.4h0M200.3 701.5h0M180.9 678.6h0M190.6 695.1h0M164 663.4h0M195.9 713.2h0M184.9 697.9h0M184.7 696.9h0M165.4 659.5h0M173.4 677.4h0M180 692.1h0M182.2 692.1h0M188.9 686.5h0M172 656.6h0M207.2 704.5h0M194 677.4h0M169.8 672.7h0M214.6 714.9h0M192.9 686.4h0M183.4 690.8h0M205 714.5h0M190.2 675.8h0M183.6 677.1h0M178 661.4h0M191.5 682.9h0M176.9 657.1h0M174.7 675.1h0M194.8 692.1h0M181.9 692.9h0M180.8 685.2h0M212 719.2h0M190.8 706.7h0M195 718h0M189.5 703.5h0M202.9 713.5h0M171.3 673.5h0M176.4 661.1h0M193.7 709h0M193.8 679.3h0M187.2 698.1h0M180.3 657h0M183 679.2h0M198.7 698.7h0M192.2 711.8h0M197.2 702.7h0M196.8 692.2h0M198.1 705.3h0M207.3 700.2h0M198.9 708.1h0M185.1 669h0M190.1 669.8h0M182.1 670.4h0M189.3 664.2h0M207.2 713.6h0M187.3 700.3h0M180.4 669.5h0M166.3 662.1h0M183.6 669.3h0M186 661.1h0M212.5 710.3h0M184.3 686.7h0M196.2 713.4h0M215 717.7h0M198.8 697.8h0M192.1 701.9h0M204.1 721h0M179.8 675.1h0M203.3 718h0M172.2 674.1h0M210.3 715h0M169.4 662.2h0M208.8 704.4h0M193.2 696.4h0M177.1 669h0M184.1 682.4h0M171.5 676.8h0M203.4 718h0M196.6 679.4h0M181.8 677.5h0M166.4 659.9h0M174.1 673h0M173.3 662.1h0M175.9 673.4h0M209.2 716.2h0M177.7 656.9h0M192.9 708.9h0M192.3 681.9h0M208.5 718.7h0M164.2 660.7h0M211.2 714.5h0M178.9 661.4h0M170.9 665.9h0M171.1 675h0M189.2 676.6h0M178 659.5h0M197.2 704h0M174.1 676.4h0M190 708.5h0M174.3 681.4h0M203.6 715.7h0M198.9 712.5h0M200.1 714.4h0M199.9 683.9h0M191.5 709.5h0M199.6 693.9h0M188.6 667.6h0M198.1 709.9h0M182.6 695.8h0M194.4 691.3h0M198.7 713.6h0M178.2 674.2h0M201 692.6h0M198.5 723.6h0M182.4 689h0M193.8 697.8h0M175.2 673h0M202.2 713.9h0M182.1 686.8h0M205.5 709.3h0M205.1 701.6h0M190.4 678.8h0M188.7 692.9h0M197.7 686h0M197.4 711.4h0M203.4 720.5h0M186.1 698.6h0M185.3 670.4h0M179.7 688.7h0M182.3 660.4h0M190.1 698.2h0M178.3 674.3h0M197.1 719h0M190.3 682.6h0M180.7 655.5h0M215.1 711.4h0M203.2 696.1h0M205.8 695.9h0M184.3 666.6h0M169 666.3h0M188.3 694.1h0M196.1 711.5h0M210 711.7h0M193.3 684.6h0M206.9 711h0M201.2 700.1h0M181.7 657.9h0M171.6 660.9h0M188.6 676.2h0M198.2 687h0M203.6 696.9h0M188.3 675.8h0M210.6 719.2h0M192.5 698.4h0M193.8 713.7h0M194 699.9h0M185 673.6h0M203.7 706.6h0M181.4 655.7h0M197.6 715.2h0M190.5 677.2h0M192.6 713.7h0M188.2 666.9h0M182.7 690.6h0M184.8 691.5h0M166.5 663.3h0M207.2 705h0M191.9 707.4h0M204.9 712.9h0M194.9 695.1h0M198.8 724.6h0M181.3 680.2h0M204.1 722h0M180.3 690.3h0M169.7 656.9h0M199 704.9h0M185.3 673.6h0M190.6 707.6h0M182.8 662.9h0M186.1 696.8h0M197 689.9h0M199.7 706.3h0M166.7 664.5h0M168.6 660.7h0M186.6 693.6h0M185.4 663h0M188.5 700.9h0M209 716.8h0M192 676.4h0M197.2 677.5h0M167.7 661.8h0M190 705.1h0M175.5 684h0M191.5 706.4h0M195.6 704.3h0M188.8 686.7h0M201.9 688.4h0M205.9 722.7h0M179.5 660.3h0M193.9 705.1h0M202.4 725.6h0M184.9 672.7h0M201.5 714.9h0M183.7 681.3h0M183.8 675h0M184.4 693.3h0M181.6 690.7h0M187.6 695.2h0M191.7 697.6h0M180.8 667.5h0M175.4 656.4h0M213.2 716.6h0M168.3 662.4h0M194.6 699h0M183.4 663.3h0M179.2 660.7h0M207 718.4h0M183.7 697.1h0M203.4 721.8h0M175.3 658.6h0M184.2 676h0M201.7 690.1h0M207.6 714.9h0M190.1 704.7h0M180.3 673.1h0M186 698.2h0M190.1 684.6h0M191.9 695.1h0M194.4 701.9h0M194.8 677.7h0M194.4 702.7h0M171.5 666.1h0M197 709.5h0M185 681.1h0M199.8 698h0M180.8 668.7h0M178.4 666.3h0M201.8 693.5h0M207.1 708.9h0M187 669.5h0M182.4 653.2h0M182.6 686.8h0M174.8 677.9h0M195.3 699.4h0M185.1 667.7h0M180.9 674.4h0M198.1 700.3h0M167.3 669.4h0M193.5 688.3h0M176.6 665.3h0M194.2 710.9h0M189.2 703.1h0M196.3 711.2h0M180.5 678.7h0M178.8 678.9h0M173.6 673.8h0M199.7 712.6h0M197.4 702.2h0M204.5 721h0M192.5 678.1h0M196.9 711.8h0M206 714.1h0M183.4 697.9h0M186.2 665.5h0M201.9 710.7h0M208.7 714h0M191.8 710.1h0M204.4 720.8h0M175.9 675.5h0M190 702.9h0M199.8 684.8h0M175.1 654.7h0M181.9 669.9h0M178.3 672.1h0M179.7 654.7h0M189.3 687h0M176.8 663.9h0M206 708.5h0M198.5 692h0M195.5 689.5h0M184.2 661.8h0M216.9 712.7h0M178.4 673.1h0M175.2 677.5h0M186 662.7h0M203.7 695.1h0M213.2 716.1h0M177.4 659.3h0M215.6 716.2h0M185.9 686.8h0M185.2 695.3h0M201.2 700.9h0M217.5 715.2h0M190.5 668.6h0M178.9 677.8h0M187 667h0M182.3 689.7h0M173.3 673.6h0M195.5 675.6h0M169.8 665.9h0M207.5 705h0M207.5 708.8h0M199.7 686.1h0M184.1 687.1h0M183.5 678.5h0M202.6 723.4h0M174.5 674.4h0M181.2 662.3h0M196.2 676h0M192.7 689.3h0M183.8 667.5h0M178.8 665h0M171.2 657.6h0M199.5 724.6h0M178.4 669.3h0M188.4 677.8h0M190.4 687.3h0M191.1 678.4h0M194.6 709.6h0M214.8 713.4h0M205 721.2h0M205.3 723.9h0M167.6 662.8h0M203.8 706.2h0M190.2 684.1h0M193.7 711.4h0M191.8 705.9h0M166 662.3h0M205.2 720.9h0M182.9 683.7h0M193.6 694.3h0M182.5 664.8h0M209.7 719.3h0M196.2 717.1h0M205.1 711.2h0M175.9 672.3h0M176.2 653.2h0M208.3 712.5h0M195.3 679.1h0M177.5 680.3h0M198 700.8h0M174.7 654.7h0M187.5 699.1h0M197.6 701.5h0M173.8 659.7h0M176 657.3h0M193.8 715.1h0M186.6 675.2h0M169.3 658.2h0M188.7 663h0M197 698.1h0M210.8 709.1h0M181.9 679.6h0M201.8 714.8h0M185.9 694h0M197.1 701.4h0M195.7 704.6h0M184.9 696.7h0M168.5 667.4h0M169.7 656.2h0M183.7 674.6h0M192.1 708.8h0M204 724h0M199.9 714.4h0M191.7 687.6h0M167.8 661.5h0M198.7 693.4h0M176.8 673.5h0M205.6 707.4h0M167.3 657.7h0M166.3 668.3h0M182.8 679.3h0M169.8 661.7h0M206.4 698h0M182.8 684.1h0M192.5 698.3h0M198.5 723.6h0M202.6 694.7h0M183.1 670.2h0M208.4 718.8h0M182.4 660.8h0M202.4 700.4h0M195.3 706.1h0M171.7 670h0M206.9 717.1h0M208.9 720.2h0M186 671.6h0M195.6 696h0M197.9 709.8h0M194.7 684.7h0M186.2 676.9h0M176.8 674.5h0M195.3 696.1h0M172.8 674.5h0M199.9 682.2h0M190.1 673.3h0M190.5 683.3h0M197.6 720.8h0M179.4 667.3h0M203.5 717.8h0M211 703.9h0M183.7 687.6h0M195.4 696.2h0M190.2 682.5h0M182.4 672h0M184.6 682h0M165.9 665.5h0M165.9 661.1h0M175.5 672.4h0M204.7 719.8h0M189 669.2h0M187.6 673.5h0M183.9 671.1h0M177.9 685.3h0M189.2 677.8h0M215.7 716.1h0M187.1 673.1h0M202 689.3h0M200.1 689.9h0M188.2 704.7h0M168.8 664.9h0M169.9 671.8h0M181.2 674.5h0M172.7 668.2h0M177.3 677.5h0M196.4 716.1h0M182.6 685.9h0M173.8 669.3h0M197.7 690.9h0M178.3 661.3h0M180.2 680.8h0M174.9 678.6h0M187.4 704.6h0M191.2 700.9h0M183.1 693.5h0M204.1 722.9h0M190 678.8h0M203 689.5h0M202 696.6h0M213.8 711h0M201.9 689.2h0M196.3 718.6h0M191.6 706.7h0M175.1 674.1h0M179.4 685.6h0M206.1 704.3h0M189.7 683.7h0M193.2 700.9h0M169.1 668.2h0M184.6 694h0M167.1 669.4h0M192.7 695.4h0M174.2 668.9h0M201.1 698.4h0M167.2 667h0M179.8 688.9h0M201.8 698.5h0M199 689.5h0M179.6 655.2h0M190.7 708.5h0M198.5 705.5h0M188.7 698.4h0M168.8 669.2h0M212.2 716.3h0M205.3 698.3h0M187.4 691.9h0M214.7 709.5h0M180.3 653.9h0M195.2 711.8h0M181.8 668.3h0M174.2 676.5h0M189.2 702.6h0M180.9 664.5h0M197.8 720.6h0M210.3 701.5h0M183.4 673.3h0M181.3 666.6h0M199 711.7h0M214.9 710.8h0M181.3 672.7h0M207.9 701.5h0M183.4 693h0M208.1 714.2h0M191.3 669.9h0M199.8 692.8h0M196.4 684.3h0M170.9 662.1h0M202.6 696h0M188.5 668.1h0M193.1 679h0M206.3 708h0M171.8 669h0M171.3 674.1h0M167.8 656.6h0M205.7 709.6h0M194.4 684.5h0M202.4 710.3h0M203.4 722.8h0M213.7 719.5h0M192.9 691.8h0M183.8 663.7h0M173.4 680.7h0M202.9 719.2h0M199.1 687.1h0M196 690.3h0M197.5 680.5h0M195.7 716.4h0M185.3 670.1h0M182.4 680.4h0M182.8 682.4h0M215.1 713.4h0M196 682.2h0M180.3 681.8h0M199.1 696.3h0M201.6 694.9h0M181.3 651.6h0M171.1 661.6h0M180.8 664.5h0M203 724.4h0M174.7 657.3h0M169.7 668.2h0M166.3 667.1h0M179.4 671.2h0M181.7 687.3h0M205.3 721.6h0M165.1 663.5h0M183.3 688.1h0M198.9 681.6h0M185.1 671.4h0M201 700.9h0M197.1 712.4h0M195.3 685.5h0M192.6 708.1h0M177.2 662h0M196 693.5h0M165.4 666.3h0M186.1 661.6h0M189.2 689.4h0M174.3 670.6h0M191.3 693.7h0M185.8 669.5h0M206.7 707.7h0M204.7 704.7h0M189.9 706.8h0M203.1 707.2h0M199.6 709.5h0M194.9 688.6h0M164.9 661.9h0M197.5 685.1h0M207.8 700.2h0M174.4 661.2h0M175.7 662.8h0M188.9 674.9h0M210.5 718h0M177.8 657.5h0M199.1 710.1h0M177.4 677.6h0M213.3 716.9h0M207.9 719.7h0M179.9 667.9h0M193.8 700.8h0M187.1 692.4h0M198.8 714.2h0M170.7 673.8h0M202 695.5h0M180 656.9h0M177.2 672.8h0M186.8 685.6h0M189.8 674.8h0M175.1 671.8h0M175.8 667.1h0M178.9 651.2h0M186.7 692.1h0M195.3 694.5h0M193.5 696.8h0M203.4 702.5h0M201.2 701.9h0M202.1 715.4h0M198.8 701.1h0M203.9 689.7h0M192 677.1h0M193.2 695.3h0M184.9 677.3h0M173.8 657.8h0M206.8 703.7h0M207.5 712h0M199.6 724.5h0M194.6 677.4h0M179.8 673.4h0M170.9 656.9h0M172.3 665h0M188.1 688h0M198.2 718.6h0M208.5 705.5h0M179.5 689.6h0M179.7 678.9h0M195 675h0M176.3 671.1h0M204.6 708.4h0M183.3 677.3h0M207.3 714.1h0M203.7 714.1h0M193 709.3h0M194.1 696.1h0M197 698.2h0M201.9 709.6h0M196.7 697.8h0M183.4 696.7h0M206.2 707.6h0M203.6 715.3h0M198.4 703.1h0M211.3 715.4h0M184 680.6h0M195.6 714.2h0M189.1 679.2h0M200.8 713.4h0M188.5 701.4h0M203.7 689.7h0M205.5 693h0M189.9 667.2h0M190.9 707.1h0M182.9 677.6h0M191.1 687.3h0M188.9 697.7h0M186.9 683.2h0M211.6 703.9h0M193.4 695.3h0M189.3 686.9h0M195.9 698h0M196.2 716h0M177.8 676.9h0M185.6 701.5h0M174 668.9h0M200.1 714.5h0M202.6 719.5h0M189.7 683.6h0M204 693.2h0M197 719.9h0M185 681.2h0M165 661.7h0M172 660.7h0M180.2 659.6h0M167.8 668.9h0M192.2 710.7h0M199 689.7h0M183.4 665.9h0M180.9 669.4h0M202.8 721.3h0M200 722.5h0M199.2 689.1h0M209.7 707h0M204.6 702.3h0M166.4 658.7h0M167.2 657.7h0M181.3 678.5h0M196.8 692h0M184.7 684.4h0M191.4 699.4h0M168.7 668.1h0M189 684.7h0M176.3 663.5h0M190.8 691.2h0M195.7 706h0M187 690.3h0M192 695.8h0M199.9 719.3h0M170.2 664.9h0M197.9 710.6h0M183.7 669.6h0M192.2 700h0M203.7 699.1h0M197.9 715.4h0M188.5 677.9h0M179.2 687.1h0M208.2 720.5h0M179.5 649.7h0M177.6 674.5h0M179.3 662.7h0M199.2 699.5h0M188.2 705.3h0M202.9 703.4h0M165.6 662h0M199.6 711.1h0M182.3 694.6h0M170.8 669.3h0M173.9 676.5h0M190.9 681.9h0M197.8 717.7h0M176.6 666.3h0M217.7 714.1h0M170.1 658.7h0M204.3 694.3h0M192.1 679.8h0M185.1 665.5h0M167.3 663h0M180.3 691.8h0M174.5 678.8h0M195.2 710.6h0M164.2 661.7h0M175 676.8h0M171.4 672.6h0M198.6 705.3h0M174.5 654.4h0M203.3 698.6h0M194.9 705.7h0M185.7 700.8h0M199.1 713.7h0M202.9 691.2h0M173.5 661.3h0M167 662.3h0M210.6 719.6h0M201.8 708.4h0M195.9 705.7h0M198.9 720.7h0M211.2 715.7h0M191.8 681.5h0M186 673.8h0M178.4 684.3h0M215.7 718.6h0M203.9 709.1h0M205 719h0M184.9 689.7h0M195.2 708.8h0M202.4 720.1h0M184.4 665.8h0M184.7 679.6h0M167.9 664.3h0M207 697.2h0M186.1 660.3h0M189.8 693.9h0M184.9 684.4h0M177.9 686.1h0M184.4 692.3h0M178.8 675.9h0M181.9 680.2h0M176.5 653h0M191.5 693.1h0M177.6 658.8h0M195.5 717.8h0M178 661.2h0M173.7 668.9h0M204.1 720.3h0M179.1 680.4h0M177.9 678.2h0M210.9 720.8h0M204.5 706h0M195.8 712.9h0M184.1 694.6h0M174.3 675.7h0M213.3 712.2h0M187.2 690.2h0M190.9 707.5h0M184.9 674.8h0M198.9 719.6h0M199.7 706.2h0M194.7 677.5h0M176.5 671.2h0M210.7 721h0M203.9 699.4h0M186.4 702.4h0M180 673.4h0M172.1 667.4h0M186.4 675.1h0M163.9 659.4h0M186.4 676.4h0M168.9 671.1h0M218.4 713.9h0M199.4 701.2h0M178.3 668.1h0M185.5 697.1h0M181.7 676.6h0M185.2 697.4h0M192.1 688.1h0M180 669h0M179.5 668.9h0M204.1 713.2h0M186.8 688.2h0M166 659.1h0M198.7 686.3h0M205.4 724h0M206.1 697.5h0M183.7 671.9h0M212.3 710.5h0M199.4 682.2h0M172.5 675h0M176.3 684.6h0M191.5 709.2h0M179.1 651.4h0M187 702.2h0M182.8 667h0M214.1 710.7h0M180.9 689.2h0M169.8 670.9h0M189.5 707.9h0M186.3 670.4h0M178.6 683.6h0M192.3 703.2h0M195.9 702h0M199.8 698.9h0M170.7 658.2h0M173.2 653.4h0M182.6 671h0M191.3 703.2h0M184 693.3h0M210.7 721.2h0M168.4 666h0M207.1 708h0M212.3 716.2h0M170.7 672.5h0M178.8 662.9h0M205.4 714h0M180.3 684.2h0M205.6 700.8h0M202.6 720.6h0M205.5 723.2h0M211.8 713.5h0M199.8 712.6h0M191.3 691.5h0M200.2 687.4h0M181.3 680.6h0M212.9 718.3h0M183.4 659.5h0M181.1 672.3h0M183.1 685.8h0M191.1 697.9h0M185.3 670.7h0M187 700h0M167.9 669.1h0M203.5 724.8h0M192.6 672.5h0M207.3 698.9h0M211.5 716.2h0M179 680.3h0M195.4 707.6h0M190.3 675.5h0M185.3 687.1h0M178.4 666.5h0" stroke="#a6d89c" stroke-width="2" stroke-linecap="round" fill="none"/>
<path d="M194.3 742.8h0M174.2 737.4h0M159.1 739.8h0M135 729.1h0M186.8 737.7h0M149.7 734.3h0M187.3 739.2h0M191.1 737.8h0M194.3 747.8h0M198 742.1h0M134.9 737.9h0M142 742.8h0M152.7 742h0M157.4 728.7h0M167.4 749h0M147.6 733.7h0M173.3 733.4h0M176.8 739.4h0M165.9 742.4h0M147.3 733.8h0M125.9 729.3h0M175.5 730.6h0M181.7 733.7h0M170.1 744.4h0M130.4 732.2h0M168.7 737.3h0M190.6 734.1h0M132.7 742.7h0M130.7 748.8h0M153.9 743.5h0M194.9 744.6h0M152.7 731h0M149.4 739.6h0M199.1 733.7h0M136.1 744.7h0M136.8 728.5h0M167.1 737.8h0M190.3 735.8h0M187.2 731.2h0M177.1 728.5h0M190.8 733.1h0M172.6 738.7h0M185 728.2h0M180.8 728h0M184.6 733.7h0M176.3 728.9h0M148.6 737.4h0M179.5 748.3h0M158.8 732.3h0M138.8 742.1h0M191.9 744.7h0M189.7 730.7h0M127.7 744.2h0M197.7 735.7h0M177.4 740.9h0M177.3 731.3h0M164 733.3h0M195.8 738.4h0M147.3 736.5h0M183.3 738.7h0M137.7 733.8h0M138.6 738.3h0M195.9 746.9h0M187.7 747.3h0M188.4 730.6h0M161.2 735.6h0M196.6 747.2h0M161 732h0M158.3 735.7h0M140.7 745.9h0M148.5 734.7h0M178.4 736.7h0M156.1 732.8h0M177.7 743.4h0M147.3 732.9h0M134.5 738.8h0M186.7 733h0M181.8 734.8h0M189.6 729.5h0M137.8 746.1h0M134.1 747.1h0M151.3 739.4h0M156.4 728.6h0M125.4 735.6h0M136.7 728.5h0M175.8 732.8h0M154 736h0M177.5 734.6h0M161.5 741h0M185.5 736.4h0M186.3 727.9h0M170 731.1h0M136.4 729.2h0M160.5 736.2h0M151.5 744.3h0M128.6 734.9h0M151.2 738.1h0M133.6 733.9h0M130.2 732.2h0M187.6 746.1h0M195.7 729.1h0M166.6 747.6h0M164.1 736.8h0M166.6 737.4h0M168 738.3h0M194.9 735.7h0M192.8 748.1h0M140.6 731.1h0M192.9 741.5h0M127.2 735.9h0M126.7 747h0M175.7 736.7h0M149.3 746.5h0M182.6 744.5h0M184.2 738h0M124.4 745.6h0M179.9 730.5h0M193.6 743.3h0M159.6 733.6h0M134.8 746.2h0M171.8 738.2h0M166.8 744.4h0M195.2 731h0M132.8 735.3h0M167.3 728.2h0M130.2 733.5h0M192.6 736.4h0M125.1 742.4h0M142.2 738.6h0M177.2 740.1h0M167.5 731.8h0M169.7 736.7h0M162.2 735.4h0M154.3 741.2h0M159 731.8h0M157.3 748.3h0M145.1 748.8h0M128.7 740.5h0M179.4 744.9h0M190.8 733.1h0M170.9 737.9h0M181.2 743.9h0M180.3 740.9h0M179.1 740.9h0M146.6 748h0M144 740.7h0M175.9 736.7h0M169.8 729.3h0M193.6 737.6h0M152.7 732h0M123.7 730.3h0M188.3 732.8h0M141.2 744.2h0M154.3 745.1h0M175.5 740.6h0M144.3 745.6h0M180.3 738.2h0M136.8 732.4h0M133.9 728.4h0M139.7 738.5h0M166.7 738h0M125.3 739.6h0M183.1 738.2h0M167.2 742.2h0M171 738.1h0M163.3 739.9h0M169.9 749.7h0M141.7 734.9h0M157 738.1h0M129.3 730.4h0M191.3 743.7h0M126.8 732.1h0M194.2 749.8h0M165 738.5h0M179.1 747h0M175.5 745.2h0M147.2 739.9h0M145.1 742h0M173.3 730.7h0M138.6 737h0M173.1 734.3h0M140.6 735.4h0M136.6 736.5h0M173.2 728.7h0M194.6 746.9h0M143 737.1h0M182.7 740.9h0M127.2 734.2h0M175.2 729.2h0M129.2 728.7h0M150.7 734.6h0M147 745h0M190.1 734h0M176.2 730.3h0M195.9 741.3h0M148.3 730.7h0M153.8 735.2h0M142.9 736.4h0M131.5 732.6h0M134.1 746.1h0M177.7 735.1h0M145.2 737h0M165.6 734.6h0M193.1 728.8h0M168.3 735.1h0M148.7 733.6h0M173.2 736h0M184.6 743.6h0M155.4 729.8h0M161 743.4h0M182.1 746.4h0M182.3 735.7h0M147.1 732.4h0M166.3 737.7h0M125.2 743.5h0M174.1 731.5h0M135.4 734.1h0M181.7 735.4h0M194.9 728.8h0M174.7 732.5h0M186.3 744.4h0M140 736.6h0M161.6 735.3h0M187.8 737.5h0M178.9 731h0M134.4 746h0M148.7 729.5h0M147.1 736.2h0M194.4 745.9h0M198.4 729.2h0M129 727.9h0M143.6 742.2h0M135.6 736.8h0M157.5 738.1h0M133.4 731.8h0M138.2 732.7h0M149.8 739.1h0M126.4 738.2h0M165.3 730.6h0M153.7 744h0M122.7 737.5h0M171.8 731.8h0M157.6 736.7h0M162 728.4h0M158.6 737.3h0M195.7 733.7h0M167.4 748.4h0M193.3 729.8h0M154.6 739.9h0M134.2 731.4h0M186.4 740.6h0M136.7 736.2h0M135 730.5h0M197.4 745.8h0M186.3 733.3h0M161 740h0M164.1 730.7h0M138.4 729.4h0M171.3 742.4h0M166.3 729.3h0M153.2 742.9h0M136 728.1h0M128.9 743.2h0M159.7 745.6h0M147.3 741.3h0M189.9 746.7h0M190.7 728h0M131.2 730h0M165.9 742.6h0M179 741.8h0M124.2 732.2h0M162.3 733.6h0M159.9 741.8h0M128.3 741.5h0M129.5 740.2h0M153.9 729.1h0M179.3 737h0M163.9 735.8h0M143.3 739.8h0M123.6 734h0M125.8 734.7h0M189.6 737.4h0M123.6 737h0M149.9 730.2h0M125 746.5h0M136.1 728.2h0M166.2 748.1h0M122.7 729.2h0M136 744.4h0M192.9 734h0M133.1 728.8h0M168 735.3h0M152.6 736.3h0M191 739.8h0M127.4 744.6h0M130.8 745.5h0M192.1 742.8h0M142.4 740.4h0M147.6 744.6h0M131.4 732.7h0M185.8 736.3h0M152.5 732.4h0M194.7 741.6h0M180.6 742.6h0M164.9 735.6h0M175.4 745h0M168.3 736.3h0M130.2 736.2h0M154.5 743.4h0M145.1 735h0M169.1 730.1h0M133.1 732.4h0M170.1 730.7h0M133.1 748.7h0M143.1 745.8h0M190.8 741.9h0M181.6 731.5h0M192.9 734.3h0M154.5 748.9h0M170.7 739.4h0M123.1 744.8h0M151.7 731.4h0M124.9 743h0M134.9 728.8h0M181.4 731.3h0M172.3 727.6h0M176.6 738.1h0M128.2 729.2h0M182.6 735.4h0M135.4 739.4h0M144.3 732.1h0M134.7 747.5h0M151.6 729.1h0M139.6 728.7h0M177.3 739.5h0M189.6 746.5h0M126.2 736h0M158 730.9h0M190.4 736h0M168.9 741.9h0M180 733.6h0M168.6 728.1h0M152 734.6h0M134.9 747.3h0M156.7 742.9h0M183.3 740.8h0M163.9 746.9h0M171.1 731.4h0M136.8 738.3h0M172.4 731.9h0M178 736h0M180.2 739h0M125.3 740.7h0M144.2 738.5h0M169.9 744.5h0M172.6 748.6h0M200.3 738.3h0M179.4 745.8h0M180 733.5h0M170.9 734.9h0M149.4 731.7h0M199.4 735.3h0M153.9 739.2h0M147.3 735.5h0M193.6 746.5h0M168.8 747.1h0M127.3 742.2h0M174.4 745.1h0M170.1 745.8h0M143.4 738h0M128.3 736.4h0M141.9 734h0M124.8 733.6h0M122.4 731.7h0M126.2 729.3h0M134.9 740.1h0M184.6 747.5h0M193 744.9h0M187.7 735.6h0M135.9 735.1h0M186.1 736.5h0M134.9 749.6h0M195 745.2h0M141.2 737.8h0M178.3 737.5h0M162.4 745h0M140.8 731.1h0M195.9 732.4h0M175.8 729.9h0M174.1 745.3h0M153.5 738.7h0M190.6 734.9h0M195.9 748.4h0M168.9 729.1h0M128.8 747.4h0M186 733.6h0M170.5 742.8h0M167.3 746.2h0M163.5 731.9h0M163.9 734.9h0M180.4 749.3h0M130.9 738.6h0M165.9 733.5h0M135.1 737.3h0M190 733.8h0M189.5 738.9h0M151.9 736.6h0M182.3 738.3h0M143.6 743.7h0M161.7 728.5h0M124.7 737.2h0M166.4 736.1h0M187.8 729.1h0M126.9 737.1h0M129.5 729.5h0M199.1 730.3h0M172.5 748h0M133.8 731h0M159.7 736.8h0M148.7 746.3h0M175 730.2h0M173.9 739.1h0M156.1 742.6h0M138.6 739.2h0M130.7 729.4h0M166.7 745.2h0M183.7 729.7h0M196.7 734.3h0M152.5 729.8h0M136.8 732.9h0M134.2 729h0M145.1 740.4h0M153 738.1h0M188.8 741.9h0M134.2 731.1h0M196.7 736.7h0M160.4 741.5h0M141 729.6h0M191.9 741.1h0M160.2 740.1h0M187.5 739.8h0M182.7 729.3h0M165.4 748.2h0M176.5 742.4h0M151.1 730.9h0M170.9 729h0M158.4 740.6h0M190.2 732.6h0M139.1 734h0M140.4 728.8h0M163.3 738.5h0M198 738.2h0M152.4 738.7h0M169.6 744.7h0M140.8 740.4h0M188.8 739.5h0M122.5 736.5h0M148 729.8h0M198.6 747.6h0M199.5 742.2h0M147.9 747.1h0M172 729.2h0M193.4 738.6h0M185.1 748.8h0M126 735.2h0M158.3 737.6h0M187.5 749.2h0M173.4 749.1h0M184.3 738.9h0M194.8 741.4h0M143.9 737.2h0M191.2 745.9h0M156.3 748.1h0M176 743.2h0M175.4 749h0M190.8 738h0M185.6 744.4h0M179.4 747h0M150.9 732.4h0M197 746.4h0M132.8 746.1h0M137.1 727.6h0M135.2 731.2h0M198.1 734.5h0M153.6 731.3h0M173.7 738.3h0M173.7 731.6h0M147.1 728.7h0M188.2 745.5h0M142.1 743.4h0M177.7 747.1h0M169.3 735.7h0M127.1 729.9h0M177.1 731h0M189 736.9h0M125.3 740.4h0M198.7 730.5h0M191.2 731.9h0M176.9 747.2h0M188.1 729.2h0M146.8 744.6h0M173.9 735.6h0M132.7 737.8h0M175.2 737.9h0M146.1 738.8h0M130.3 734.2h0M147.1 735.8h0M162.8 744.1h0M198.8 737.9h0M147.6 738h0M135.5 734.8h0M171.4 737.9h0M175.6 727.7h0M134.7 729h0M180.2 735.2h0M131.1 744.3h0M188.6 735.9h0M165.1 741.4h0M191.3 739.3h0M127.2 734.7h0M162.7 734.4h0M152.1 742.7h0M159.4 744.4h0M176.6 736.2h0M141.5 732.8h0M137.5 742h0M183.1 729.4h0M155.4 741.9h0M199.5 740.5h0M139.4 739.3h0M124 730.6h0M155.2 738.5h0M178.8 732h0M167.9 730.8h0M157.1 727.9h0M191.6 741.2h0M182.5 749.8h0M196 736.1h0M177.1 734.4h0M135.3 740.1h0M177.7 738.8h0M186 749.3h0M198.4 735h0M144.3 731h0M145.9 731.8h0M157.7 737.3h0M199.6 731.4h0M151.9 744.5h0M145 731h0M196.3 736.3h0M140.5 735h0M125.7 730.7h0M195.1 746h0M154.8 729.8h0M136.9 749.8h0M132.2 729.3h0M142 729.8h0M155.5 731h0M180.5 733.3h0M165.5 747.8h0M183.1 730.1h0M164.2 743.7h0M197.8 728.9h0M142.1 731.6h0M158.3 735.7h0M198.8 732.6h0M191.7 737.9h0M177.9 742.4h0M134.3 733.1h0M145 732h0M169.6 738.2h0M184.4 735.6h0M196 733h0M132.9 745.6h0M179.3 731.7h0M131.9 734.3h0M130.4 727.9h0M159 749.2h0M134.4 732.8h0M153.2 739.1h0M195.9 749.5h0M179.9 733.1h0M148.2 730.6h0M134.3 732.8h0M197.4 736.6h0M176.1 745.9h0M167.6 739.7h0M185.4 728.4h0M198.9 738.9h0M189.5 728h0M176.2 730h0M162.7 740.6h0M151.4 749.8h0M177.7 736.6h0M153.1 738.5h0M164.9 744.1h0M183.3 737.8h0M126.9 739.7h0M136 731.6h0M187.3 748.6h0M177.5 739.2h0M144 729.7h0M139.9 728.8h0M137.5 732.8h0M162.1 731.9h0M168.1 739.1h0M180.4 729.1h0M138.8 742.1h0M132.6 739.3h0M130.6 733h0M146.3 730.8h0M149 747.8h0M180 746.1h0M190.8 729.4h0M161.1 735.8h0M139.6 730.5h0M158.5 748.9h0M197.8 736h0M164.9 741.2h0M155.3 729.7h0M171.1 728.3h0M189.7 735.7h0M168.7 745.4h0M154.3 740.2h0M130.6 742.6h0M125.6 741.4h0M129.9 734.2h0M138 742.8h0M144.8 728h0M196.2 742.8h0M135.1 748.3h0M149.4 743.5h0M134.5 742.4h0M152.4 746.3h0M190 729.2h0M123.9 739.2h0M164.2 735.5h0M187.3 739.1h0M168.4 731h0M141.7 732.7h0M187.6 748.4h0M170.4 739.8h0M145.8 730.4h0M159.4 738.1h0M159.1 734.3h0M162.3 746.6h0M165.6 734.3h0M139 745.5h0M174.1 744.4h0M158.8 736.3h0M187.9 743.1h0M123.8 736.8h0M166.4 730.5h0M129 730.4h0M124.6 741.2h0M129.8 732.3h0M141 738.8h0M132.9 745.2h0M183.8 747h0M127.3 743.1h0M123.4 736h0M172.6 740.7h0M145.5 743.3h0M147.8 745.6h0M157.5 748.1h0M123.5 735.9h0M143 732.1h0M127.5 727.8h0M188.8 736.6h0M183.8 729.4h0M152.6 728.7h0M194.8 730.2h0M186.1 734.7h0M172.6 729.2h0M126.7 741.3h0M190.7 727.6h0M145.7 728.5h0M199.2 743.9h0M160.5 730.5h0M156.4 733.2h0M174.7 730.3h0M190.8 743.1h0M176 749h0M159.4 728.6h0M182.6 746.7h0M132 734h0M126.5 739.4h0M145.6 732.8h0M123.6 739.5h0M141.6 741.9h0M151.9 749.2h0M158.5 733.7h0M147 729.9h0M180.1 729.2h0M162.6 743.1h0M180.7 742.2h0M178.7 736.5h0M179.5 741.4h0M151.3 742.4h0M125 733.3h0M192.1 734.6h0M161.8 740.5h0M192.8 728.8h0M187.8 730.1h0M186.9 742.6h0M186.4 735.5h0M136.5 729.9h0M143.2 740h0M163.6 742.6h0M143.5 729.7h0M137.5 728.6h0M147.7 747.4h0M151.1 738.3h0M172.5 730h0M199.5 737.9h0M186.5 743.1h0M127 732.6h0M140.2 736.6h0M141.5 733.9h0M138.4 729h0M143.2 736.3h0M134.4 732.4h0M148.2 744.7h0M136.6 733.2h0M142.1 736.5h0M173.8 734.4h0M158.3 741.7h0M154.6 743.4h0M123.4 727.7h0M185 732.3h0M198.7 743.6h0M142.4 734.4h0M138.8 729h0M175.1 736h0M134.9 744h0M161.8 735.7h0M172.7 744.2h0M150.6 729.8h0M159.7 732.3h0M195.2 731.4h0M156.5 739.4h0M163.2 735.9h0M150.7 734.8h0M123.5 734.3h0M151.8 729.8h0M151.8 727.7h0M193.1 738.8h0M193.9 739h0M146 748.2h0M185.8 735.4h0M157.7 727.9h0M161.3 735.7h0M141.2 744.4h0M139.2 746h0M172.3 735.8h0M177.2 732.3h0M170.5 742.5h0M190.6 740.7h0M168.7 731.8h0M129.7 741.2h0M190.1 732.5h0M146.2 743.1h0M132.1 731.5h0M189.5 739h0M133.1 729.1h0M188.6 741.2h0M137.7 739.9h0M193 735.2h0M155.4 739h0M149.8 728.3h0M185.3 727.9h0M186.3 738.5h0M200.1 730h0M132.2 735.8h0M162.5 736.8h0M187.7 731.6h0M148.5 740h0M126.5 735.7h0M142.7 737.4h0M168.9 728.7h0M150.1 733.3h0M195.9 733.8h0M139.7 740.2h0M169.4 730.3h0M133.9 732.3h0M198.4 748.1h0M123.1 746.6h0M150.1 737.5h0M123.8 740.1h0M164.5 729.4h0M170 741.8h0M186.6 728.8h0M189 739.4h0M186.6 729h0M157.2 744.7h0M145 732.5h0M166.7 747.7h0M179.9 744.2h0M161.2 745.7h0M174.6 727.6h0M134.7 729.1h0M149.7 731.9h0M173.6 727.6h0M133.6 729h0M179.6 728.4h0M145.2 738.5h0M168.3 733.2h0M172.1 732.8h0M195.7 735.8h0M167.7 734.7h0M131 741.3h0M186.4 728.4h0M195.2 733.7h0M180.9 730.2h0M177 747.8h0M132.1 742h0M137.1 732.1h0M195 730.9h0M131.8 731.1h0M152.7 743h0M141.7 730.2h0M184.6 728.9h0M189.3 746.8h0M144 744.9h0M188 736.8h0M177.8 727.8h0M123.8 748.3h0M164.9 740.5h0M176.1 746.7h0M186 737.5h0M129.8 734.7h0M157.5 737.8h0M199.8 748.5h0M159 733.6h0M169.1 742h0M144.3 741.9h0M132.1 729.6h0M130.6 736.9h0M164.7 733.2h0M198.2 739.9h0M159.5 740.6h0M187.8 735.2h0M155.7 731.4h0M145.5 746.5h0M158.8 742.7h0M133.7 733.9h0M155 746.1h0M177.6 731.8h0M200.1 734.8h0M161.3 731.7h0M183 741.8h0M168.1 743.3h0M124.3 745.3h0M193.4 741.6h0M192.5 746.5h0M137.7 732.4h0M189.5 738.2h0M174.8 737.4h0M198.1 740.9h0M172.4 729h0M186.8 730.2h0M149.7 738.3h0M169.7 728.3h0M124.9 747h0M127.6 747.4h0M147.6 730.3h0M185 730.5h0M124.7 729.5h0M131.6 739.5h0M180.4 727.9h0M146.1 741.9h0M129.7 729.7h0M185.3 732.9h0M128 742.8h0M164.4 734.9h0M165.4 734.7h0M182.7 741.1h0M179.9 747.1h0M166.7 734.7h0M156.9 745.9h0M140.1 741.3h0M183.1 736.2h0M136.1 742.6h0M122.9 738.6h0M186.7 743.9h0M154.3 748.6h0M180.6 728.9h0M135.3 745.2h0M195.4 728h0M137.8 727.7h0M147.4 730.1h0M180.9 735.8h0M127.3 745.7h0M182.4 728.2h0M173.5 737.6h0M147.6 745.3h0M190.8 748.3h0M138.5 732.9h0M173.8 741.4h0M184.2 741.8h0M138.4 741.3h0M148 727.8h0M169.2 737h0M158.9 741h0M129.4 745.8h0M134.2 738.2h0M150 734.5h0M196.3 748.8h0M175.3 734.8h0M135.6 733.8h0M129.3 728.9h0" stroke="#3cb6f6" stroke-width="2" stroke-linecap="round" fill="none"/>
<path d="M104 737.8h0M108.4 734.6h0M100.1 724.9h0M99.3 724.6h0M104.9 729.6h0M118.8 728.6h0M122 747.8h0M119.9 746.1h0M121 747.8h0M120.8 736h0M99 745.1h0M114.7 737h0M120.8 740.3h0M109.3 745.8h0M104.5 749.2h0M116.9 741.4h0M110 734.6h0M98.7 736.5h0M99.6 748.7h0M108.7 733.4h0M106.2 739.7h0M119.6 732h0M101.1 741.2h0M112.2 723.5h0M120.6 733.7h0M97.3 743.4h0M89.2 746.1h0M120.7 742.1h0M118.9 739.6h0M101.4 742.4h0M97.9 741.2h0M99.4 742.3h0M110.9 727.4h0M107.7 723.2h0M103 736.9h0M106.8 721h0M120.2 732.4h0M115 738.6h0M90 744.9h0M122.2 727.4h0M113.4 724.7h0M94.7 737.8h0M111.4 738.9h0M121.2 726.9h0M119.5 741.5h0M111.4 746.5h0M98.3 740.2h0M109.6 743h0M108.6 749.7h0M122.1 740.9h0M108.8 725.2h0M116.5 724.5h0M119.9 731.3h0M109 748h0M104.4 745.3h0M122 744.6h0M118.9 731.9h0M113.5 737.4h0M115.3 737.1h0M122.3 734.1h0M107.7 748.8h0M117.2 736.8h0M104.9 728.9h0M109.6 746.9h0M109.6 725.4h0M114.1 728.9h0M106.7 743.3h0M104.8 744.4h0M99.9 732.7h0M116.4 736.8h0M118 745.4h0M119 744.5h0M109.2 731.2h0M111.2 732.3h0M112.3 730.7h0M115.1 733.4h0M92.3 740.3h0M108.4 739.1h0M115.5 729.7h0M105.7 742.6h0M88.7 745.1h0M104.9 730.4h0M92.5 734.8h0M101.7 738.9h0M114.8 739.7h0M118.9 741.3h0M92.6 745.6h0M107.7 736.9h0M92.3 739h0M99.7 741.4h0M106.5 720.9h0M116.1 738h0M118.5 732.5h0M108.4 739.4h0M108.6 725.5h0M106.3 722.4h0M105.9 744.7h0M106.1 740.2h0M110.4 735.3h0M117.2 731.8h0M115.5 738.9h0M118.8 747.8h0M121.8 727.3h0M104.3 736.9h0M101.2 737h0M112.9 731.1h0M105.5 741.9h0M113.5 736.9h0M111.9 743.5h0M117.8 736.4h0M100.7 735.3h0M115.3 732.3h0M107.8 719.7h0M98.5 741.5h0M100 724.5h0M110.3 738.7h0M88 743.8h0M113.2 746h0M103 737.7h0M122.3 730.2h0M115.7 731.1h0M107.7 743h0M121.6 728.5h0M98.3 739.4h0M108.5 742.2h0M121.1 739.9h0M114.8 725.8h0M104.6 739.5h0M101.2 732.4h0M110.7 724.3h0M100.1 746.7h0M103.8 726.1h0M104 741.2h0M92.6 740.5h0M104.3 730.8h0M109.2 738.1h0M99.8 735h0M122.1 737.8h0M107.8 729.4h0M121.5 731.6h0M102.8 747.2h0M97.4 742.7h0M121.2 739h0M109.9 741.4h0M105.1 740.8h0M112.3 746.3h0M117.3 732h0M109.1 722.5h0M103.1 749.9h0M116.9 740.6h0M101.1 728.3h0M102 742.8h0M100.4 734.6h0M98.1 736.8h0M85.8 748.4h0M107.4 722.7h0M101.2 743.8h0M118.8 749h0M110.2 740h0M116 724.6h0M103.9 739.1h0M116.4 735.7h0M109.5 736.4h0M99.3 732.7h0M103.8 732.8h0M111.9 732.8h0M121 733.5h0M110.1 723.1h0M103 718h0M111.7 732.6h0M111.5 745.1h0M122 743.1h0M119.1 726h0M109.3 735.5h0M103.5 748.9h0M98.3 746.1h0M121 739.9h0M106.2 736.6h0M115.9 728h0M121.1 735.1h0M102 727.5h0M121.8 734.7h0M110 738.4h0M105 726.9h0M112.1 722.8h0M96 738.8h0M122.3 735.8h0M106.3 726.6h0M115.4 742.6h0M108.6 722.1h0M103 724.9h0M96.1 744.4h0M90.1 746.3h0M107.4 732h0M113.7 728.5h0M115.9 742.8h0M102 737.2h0M106.7 741.3h0M90 747.2h0M104.6 724.3h0M114 731.9h0M121.2 744.5h0M113.3 729.3h0M102.5 733.8h0M119.6 743.2h0M104.5 720.8h0M113 744.9h0M97.7 742.7h0M118 744.6h0M94.5 741.2h0M103.8 719.7h0M105.3 736h0M107 731.4h0M119.6 733.1h0M110.3 728.9h0M114.3 725.9h0M114.4 735.4h0M106.7 747.6h0M97.2 728.1h0M118.5 726.1h0M120.2 747.2h0M91 745.8h0M109.4 740.9h0M106.8 746.3h0M107.5 747.7h0M96.5 739.3h0M102.1 729.4h0M113.5 739.1h0M113.9 730.5h0M111.1 735.5h0M119.6 749.3h0M114.1 744.3h0M116.4 737.3h0M102.7 718.3h0M109.4 745.5h0M115.8 733.9h0M101.9 745.8h0M112.7 740.1h0M109.7 733.9h0M108.1 726.5h0M115.9 734.7h0M103.8 727.6h0M115.9 746.3h0M115.4 748.6h0M102.9 745.6h0M90.6 739.1h0M102 734.2h0M101.6 729.7h0M112.2 725.8h0M113.8 732.1h0M118.2 731h0M121.3 728.7h0M98.9 728.2h0M108.1 748.6h0M110.2 731.3h0M92.9 742.9h0M95.9 728.9h0M91.7 748.9h0M96 728.6h0M91.6 737h0M120.4 734.3h0M102.8 732.8h0M97 749h0M118.6 739.9h0M96.6 744.2h0M112.2 733.4h0M100.3 734.5h0M113.7 729.8h0M117.7 729.5h0M119.4 735.3h0M116.7 746.5h0M103.5 738.8h0M110.1 733.5h0M100 740.2h0M109.7 729.7h0M118 745.2h0M115.9 734.7h0M120.2 733.1h0M118.2 738.8h0M111.4 731.9h0M116.3 725.7h0M114.7 740.6h0M107 739.2h0M121 735.6h0M108.2 725.3h0M110.3 720.8h0M118.5 736h0M115.1 747.1h0M117.7 726.6h0M110.6 725.4h0M109.1 743.2h0M99.9 741.9h0M104.5 744.7h0M106.5 743.9h0M113.9 728.7h0M93 747.1h0M107.8 721.9h0M119.3 742.2h0M117.4 739.6h0M104.4 745.6h0" stroke="#5aa84b" stroke-width="2" stroke-linecap="round" fill="none"/>
<path d="M159 625.4h0M177.2 650.8h0M161.6 621h0M148.8 649.2h0M166.9 646.6h0M153.7 654.9h0M149.3 641h0M157.9 652.3h0M171.6 637.5h0M176.5 644.4h0M164.4 635.9h0M160.9 650.5h0M163.3 625h0M142.6 647.8h0M151.7 644.6h0M169.4 640.4h0M168.3 644.7h0M163.5 631.6h0M164.8 631.3h0M177.3 650.8h0M167.1 646.8h0M155.7 646.9h0M172.2 636.4h0M162.9 632.3h0M160.4 636.9h0M161 649.9h0M161.6 658.5h0M169.5 653.7h0M149 639.8h0M159.2 641.1h0M164 643.5h0M155.3 631h0M155.9 640h0M171.3 650.8h0M157.7 622.9h0M170.6 643.1h0M160.7 635.3h0M164.9 630.5h0M178.4 647.9h0M175.2 649.6h0M165.5 644h0M156.5 625.3h0M158.5 631.7h0M161 645.1h0M163.5 635.2h0M164.7 636.3h0M165 653.4h0M156.9 649.1h0M153.6 639.7h0M164.9 638.3h0M158.6 643.2h0M171.4 637.9h0M155.1 634.3h0M159.1 648.2h0M150.3 651.1h0M148.4 652.5h0M158.3 654.5h0M158.9 627.2h0M171.6 653.2h0M165.4 642.7h0M164.5 636.7h0M150.5 646.4h0M149.9 635.6h0M165.1 655h0M159.4 629.9h0M161 638.3h0M159.8 648.6h0M162.6 632.6h0M157.8 635.9h0M166 646.3h0M170.8 639.3h0M171.8 640.4h0M149.9 637h0M161.4 650.8h0M172.5 636.6h0M164.1 620.4h0M148.5 647.8h0M172.1 651.6h0M158 647.4h0M157.5 642.6h0M145 643.5h0M167.8 656.2h0M160.8 657.9h0M149.7 647.5h0M150.8 640.5h0M151.8 653.1h0M157.1 638.8h0M167 633.2h0M156.4 631.1h0M168 641.9h0M166.6 626.3h0M157.1 633.2h0M160 650.6h0M149.5 644.8h0M160.5 627.9h0M155.7 648.9h0M152.6 633.8h0M163 617.9h0M165.6 647.9h0M169.3 643.6h0M176.6 651h0M163.8 654.5h0M164 656h0M146.7 642.1h0M169 645.3h0M158.5 649.3h0M162.6 639.7h0M161.8 636.9h0M151.1 648.4h0M162.2 627.1h0M176.3 644h0M168 638.8h0M154.6 652.2h0M165.1 627.8h0M145.6 646.3h0M171.8 641.8h0M169.9 632.6h0M168.6 654h0M155.4 650.5h0M161.9 659.1h0M164.5 649.6h0M158.3 638h0M164.8 648h0M157.2 635.6h0M166.6 642.7h0M160.2 642.8h0M164.6 658.1h0M171.9 636.4h0M163.6 646.5h0M166.6 654.4h0M171.4 644.1h0M151.3 636h0M156.9 648.4h0M156.7 654.4h0M150.6 639.8h0M160.2 648.5h0M167 643.3h0M168.9 640.9h0M156.4 641.9h0M161 638.1h0M154.5 637.3h0M158 630.4h0M153.1 635.6h0M156.8 632.8h0M162.3 629.1h0M151.4 636.9h0M159.7 627.1h0M167.7 655.1h0M159.1 646.7h0M169.3 646.3h0M146.2 649.7h0M164.2 649.8h0M157.6 639.1h0M154.3 649.3h0M164.1 639.8h0M152.3 642.9h0M153.5 642.1h0M161.5 635.2h0M151.7 654.4h0M175.4 649.1h0M166 626.5h0M163.3 654h0M161 648.2h0M175.9 649.2h0M156.3 639.9h0M147 648.9h0M164.3 657.5h0M157 637.5h0M163.1 640.1h0M155.4 637.9h0M155.3 638h0M164.9 655.1h0M155.7 651.3h0M150 637.4h0M166.2 657h0M148.7 648.3h0M157.6 636.5h0M168.9 652.4h0M164.3 641.5h0M164.4 623.3h0M177 650h0M158.4 638.5h0M166.8 625.2h0M149.2 640.8h0M149.1 638.8h0M170.9 638.4h0M165.3 643h0M151.9 644.8h0M169.2 644.9h0M159.7 642.2h0M144.5 647.1h0M147.5 641.9h0M168.4 644.7h0M174.4 642.9h0M151.5 643.9h0M179.6 648.8h0M162.4 623.7h0M160.8 652.2h0M166.8 632.1h0M175.9 642.6h0M162.1 634.3h0M154.9 654.4h0M168.5 632.7h0M166.2 624.3h0M169.4 650.3h0M167.4 643.1h0M157.6 637.5h0M143.2 647.6h0M175.1 648.9h0M154.2 654.3h0M162 648.2h0M165.7 641.4h0M170.6 645.2h0M168.6 636.2h0M152.9 647.5h0M178.9 648.7h0M169.4 641.7h0M164.1 653.8h0M156.9 646h0M157.7 639.5h0M162.3 631.6h0M178.6 649h0M169.5 644.6h0M151.4 651.1h0M156.3 628.2h0M149 652h0M160.1 623.9h0M168.8 646.6h0M165.1 641.3h0" stroke="#54308f" stroke-width="2" stroke-linecap="round" fill="none"/>
<path d="M217 742.5h0M222.8 739h0M204.1 732.5h0M219.1 717.5h0M211 727h0M200.5 732h0M218.1 746.1h0M201.5 747.1h0M204 742.7h0M202.8 728.4h0M217.3 729.9h0M220.6 729.1h0M221.2 719.3h0M205.7 725.5h0M231.3 744.3h0M217.1 741.4h0M221.5 741.8h0M224.8 739.4h0M201.3 744.2h0M207.9 723.6h0M227 733.4h0M223.2 727.4h0M208.5 726.2h0M209.1 731.8h0M201.3 738.8h0M229.4 745.9h0M219 718h0M227.2 738.7h0M224.1 724.7h0M224 744.1h0M202.6 744.6h0M223.1 728.7h0M218.1 737.4h0M200.7 736.9h0M215.2 737.4h0M224.1 741.4h0M219.3 725.9h0M221.9 723.4h0M220.6 736.8h0M205.8 740.6h0M214 732.1h0M215.5 745.8h0M211.9 726.3h0M219.6 740.4h0M213 722.9h0M227.7 742.2h0M215.9 723.6h0M212.6 738.6h0M201.8 732.1h0M213.4 747.8h0M215.6 724h0M212.7 740h0M208.2 729.4h0M209.4 736.4h0M230.2 742.4h0M223.7 745.9h0M201.6 741.3h0M218.9 744h0M216.6 745.6h0M230.1 749.4h0M219.1 726.9h0M205.1 736.4h0M212 733.5h0M201.4 749.5h0M214.5 747.9h0M226.1 746h0M204.7 730.2h0M220.9 743.2h0M228.1 743.5h0M215.2 738.6h0M226.9 731.3h0M204.6 735h0M224.8 744.7h0M209.3 728.7h0M215.9 738.2h0M207.6 727.1h0M225 735.2h0M218 738.6h0M222.1 729.1h0M213 729.4h0M211.4 740.1h0M205.1 728.9h0M221 747h0M210.2 740.2h0M211.8 740.8h0M225 742.8h0M220.2 734.4h0M202.7 729.7h0M214.5 747.3h0M209 728.2h0M230.2 739.1h0M201.9 733.1h0M211.4 727.1h0M211.8 736.4h0M201.2 741.2h0M225.1 732.6h0M210.3 734.1h0M203.5 735.1h0M206 743.5h0M201.9 736h0M207.6 744h0M214.5 721.1h0M217.9 719.8h0M201.4 734.5h0M204.2 748.1h0M216.8 726.6h0M218.5 730h0M234.6 745.2h0M212.7 743.7h0M211.9 736.8h0M218.6 729.9h0M221.1 723.2h0M224.1 726.6h0M210.5 741.8h0M212 736.5h0M213.8 740.1h0M227.2 730.2h0M201.8 744.9h0M215.8 730.6h0M221.2 725.1h0M219 731.3h0M206.4 743.2h0M212.6 733h0M206.4 740.1h0M207.1 728.1h0M202.7 743.9h0M229.4 746.2h0M211.6 741.5h0M212.3 721.3h0M210.8 731.7h0M220.8 748.4h0M220.6 730.1h0M207.1 740.5h0M220.2 739.8h0M201.2 736h0M225.4 727h0M224.3 724.7h0M212.9 740.1h0M222.2 732.6h0M207.5 738.1h0M202.5 736h0M221.9 724.8h0M202.1 732.4h0M228.4 747h0M226.9 737.3h0M208.7 724.7h0M212.2 739.2h0M227.8 737.8h0M219.1 748.1h0M222.4 731.7h0M215.4 744h0M216.2 734.1h0M216 746.8h0M224.6 731.6h0M207.3 744.3h0M218.1 727.1h0M212.4 734.9h0M221.3 737.2h0M216 746.6h0M220.3 740.7h0M222.5 741.6h0M214 743.8h0M222 728.8h0M229.8 747.7h0M218.1 732.1h0M201.1 731.7h0M215.3 727.9h0M202 740.4h0M202 747h0M207.4 745.6h0M212.4 726.1h0M222.7 749.7h0M213.7 733.4h0M209.1 737.7h0M223.5 735.4h0M223.2 734.3h0M218.1 724.8h0M212.3 742.1h0M201.4 748.8h0M222.6 728.9h0M225.6 732.4h0M215.8 725.4h0M204.6 727.3h0M225.7 746.9h0M216.5 744.4h0M219.5 740.1h0M226.8 739.6h0M203.8 730h0M227.1 734.4h0M234.7 749.9h0M210.2 732.5h0M217.2 734.2h0M210.7 731.4h0M200.9 734.6h0M220.9 719.9h0M202.7 732.6h0M216.4 743.4h0M219.9 730.6h0M228.2 741.8h0M207.7 724h0M214.7 724.2h0M219.7 718.8h0M221.2 738.6h0M204.9 734h0M209.2 746.4h0M205.6 736.7h0M211.3 738.8h0M214.9 735.6h0M206.3 729.6h0M221.9 728.3h0M214.6 725.1h0M210.1 722.2h0M212.7 728.6h0M220.1 739.7h0M214 725.2h0M204.7 738.5h0M215.7 719h0M217.2 736.5h0M210.5 741.2h0M212.3 748.2h0M210.3 733.5h0M215.4 743.4h0M215.1 726.3h0M214.3 720.2h0M200.6 743.8h0M202.7 727h0M212.2 723.7h0M227.2 740.5h0M206.8 730.1h0M219.7 722.4h0M220.1 719.1h0M215.9 742.4h0M210.1 733.7h0M215.7 747.9h0M208.5 740.2h0M222.4 743.7h0M221.1 733.5h0M213.6 730h0M232.6 744h0M208 741.7h0M225.3 736.2h0M210.1 723.3h0M233.1 746.1h0M233.4 741.3h0M206.3 738.2h0M212.6 735.7h0M222 743.3h0M210.9 728.7h0M204.6 725.2h0M233.8 740.7h0M221 722.1h0M215.3 719h0M216.2 728.1h0M223.3 745.1h0M204.2 733.2h0M205 728.4h0M211.5 724.7h0M203.5 740h0M225 731.9h0M209 731h0M214.8 732.9h0M211.5 726.6h0M216.3 738.4h0M207.3 748.5h0M218.8 729.8h0M230.3 748.1h0M230.2 736.1h0M205.7 732.3h0M219.6 732.3h0M223.7 741.1h0M219.1 722.4h0" stroke="#f59432" stroke-width="2" stroke-linecap="round" fill="none"/>
<path d="M156.4 704h0M144.8 697.1h0M176.6 719.2h0M159.1 696.1h0M180.9 696h0M160 712h0M158.2 720.7h0M153.7 685.4h0M180.3 697.9h0M177.2 698.2h0M136.3 716.3h0M179.7 703.5h0M181.6 716.6h0M138.6 723.9h0M171.6 696.5h0M159.5 713.5h0M166.1 705h0M165.3 707.5h0M151.6 708h0M155.7 726.2h0M155.1 709.7h0M130.3 724.5h0M166.3 698.1h0M179.2 713.3h0M183 715.9h0M173.1 707.4h0M190.2 715.3h0M162.5 700.7h0M184.3 724.8h0M152.5 719.4h0M162.3 687.3h0M168.7 675.5h0M169.5 722.4h0M192.6 716.2h0M161.6 680.3h0M135 710.3h0M155.7 676.9h0M164.1 673.4h0M158.3 721.7h0M177.9 718h0M147.8 685.7h0M168.8 695.3h0M130.1 722.1h0M165.1 673.9h0M187.2 723h0M188.1 721.7h0M182.2 700.4h0M170.3 711.4h0M141.3 707.7h0M171.9 724h0M166.4 688.6h0M156.1 726.2h0M162.4 691.7h0M151.2 683.5h0M152.3 685.8h0M162.7 726h0M146.8 695.1h0M158.3 726.8h0M183.2 724.4h0M141.8 726.1h0M165 696.5h0M177.2 720.6h0M172.7 724.2h0M179.2 703.1h0M136.1 710h0M160 675.1h0M144.8 690.9h0M170.3 688.9h0M153.9 673.5h0M137.1 709.5h0M198.4 726.2h0M130.8 720.9h0M162.5 675.2h0M166.4 678.8h0M162.1 721.4h0M149.8 709.4h0M158 676.7h0M138.8 720.9h0M137 711.7h0M176.4 702.9h0M165.4 695.2h0M177.9 696.2h0M141.9 725.5h0M190.3 711.1h0M162.7 683.4h0M170 691.3h0M156.6 682.8h0M173.1 682.4h0M142.7 726.9h0M134.7 719.6h0M194.8 720h0M160.6 677.4h0M142.7 699h0M174.4 699.4h0M137.3 707.6h0M162.2 706.4h0M149 689.5h0M131.3 725.8h0M151.3 692.3h0M138.9 720.8h0M183.4 711.2h0M167.1 693.1h0M154.5 720h0M166.9 714.3h0M158.9 716.9h0M153.8 690.4h0M139.7 705.5h0M173.1 705h0M142.2 721.2h0M158.7 723.8h0M134.5 712.7h0M132.4 714.4h0M167.2 725.6h0M149.6 706.1h0M181.1 720.4h0M187 709.2h0M175 688.1h0M158.3 701.7h0M156 686.5h0M152.7 701.2h0M183.8 701.8h0M142.4 716.9h0M122.6 727.1h0M179.5 702.8h0M150.9 727.2h0M168.2 700.7h0M141.4 710.7h0M143.6 718.3h0M152.4 709.8h0M161.3 724.6h0M171.6 694.8h0M168.9 723.9h0M170.8 679.1h0M160.7 697h0M162.4 685.8h0M184.7 719.3h0M187 720.2h0M131.6 713.8h0M137.4 708.5h0M166 683.2h0M147.7 695.3h0M142.6 693.6h0M176.5 714.9h0M139.6 725.9h0M139.6 698.7h0M146.8 715.3h0M171.5 684.6h0M162 695.4h0M190 722.9h0M158.1 696.6h0M163.5 671.5h0M132.6 725.4h0M185.1 708.7h0M162.4 692.1h0M140 697.1h0M150 723.2h0M168.7 697.5h0M160.2 719.9h0M173 710.7h0M168.2 704.2h0M162.1 703.4h0M154 699.5h0M166.5 706.7h0M162.3 664.8h0M164.7 685.2h0M145 723h0M177.9 721.2h0M188.6 725.7h0M126.6 727.1h0M175.9 696h0M141.8 700.5h0M193.5 722.9h0M156.5 707.3h0M188.6 708.2h0M152.7 725.3h0M174.4 686.9h0M189.7 712.1h0M151.9 714h0M157.5 721.2h0M184.6 723.1h0M165.2 703h0M149.2 703.1h0M191 719.5h0M177.6 712.8h0M168.4 725.2h0M154.1 708h0M181.1 694.6h0M168.2 682.9h0M176.4 686.7h0M167.4 708.5h0M148.7 719.9h0M155.5 699.6h0M158.1 723.7h0M157.8 712.9h0M156.2 718.1h0M166.1 680.7h0M147.3 693h0M136.7 710.5h0M146.9 702.9h0M143.2 718.2h0M142.2 723.2h0M155.2 688h0M147.8 688.4h0M177.3 713.9h0M165.7 668.9h0M144.9 707h0M149 696.8h0M166.2 704.7h0M163.5 676.5h0M149 712h0M148.9 720.4h0M159.9 690.5h0M140.1 721.1h0M155.7 702.4h0M164.1 669.5h0M170.7 707.8h0M151.6 724.4h0M150.5 705.3h0M183 708.4h0M194.6 725.3h0M177.9 708.1h0M148.6 722h0M155.7 722.1h0M156.6 696.4h0M182 708.1h0M168.1 699.4h0M185.8 716.1h0M176.4 717.5h0M171.8 727.5h0M146.2 702h0M163.3 698.5h0M153.8 708.3h0M166.5 705.1h0M190.2 717.9h0M164.2 715.9h0M157.5 687.4h0M139.4 704.3h0M164.4 727.2h0M176.8 691.6h0M191.3 715.8h0M160.9 681.4h0M136.5 714.7h0M172.7 721.6h0M168.8 704.8h0M170.5 684.5h0M154.9 716h0M171.4 727.1h0M183.8 721h0M167.1 709.7h0M169.9 720.7h0M142.2 709.7h0M168 672.2h0M187.9 721.5h0M133.4 710h0M160.6 687.1h0M167.5 674.6h0M146.3 692.7h0M163 705.8h0M145.8 705.3h0M194.2 726.8h0M159 700.6h0M160.8 677.3h0M169 720.2h0M142.4 719.8h0M163.9 684.9h0M164.8 672.7h0M151.7 698.3h0M184 722.2h0M173.5 722.6h0M193.2 726.5h0M131.7 723.6h0M179 713.4h0M139.8 720.2h0M153 724.9h0M150.9 697.5h0M171 700.9h0M151.9 696.9h0M139.5 709.9h0M194.4 725.7h0M145.8 705.2h0M168.8 676.8h0M161.4 715.1h0M162.1 673.4h0M130.7 725.9h0M175.7 715.9h0M161.3 698.2h0M182.1 699.9h0M150 692.3h0M137.5 724.3h0M160.3 698.9h0M162.3 665.8h0M126.8 722.3h0M140.9 698.5h0M176.1 700.9h0M164 695.9h0M143.4 704.7h0M144.8 722.2h0M200 726.8h0M149 706.4h0M153.1 702.6h0M159.7 720.2h0M156.7 696h0M175.2 686h0M162.8 720h0M174.8 705.4h0M164.7 714.7h0M157.7 718.3h0M180.3 707.3h0M171.3 713.6h0M172.9 722h0M150 719.3h0M157.8 714.4h0M144.9 706h0M150 701h0M182.5 696.6h0M160.9 685.5h0M171.9 714.8h0M178.2 716.2h0M187.6 714.5h0M178.5 690h0M162.8 723.8h0M163.4 685.7h0M162.6 700.8h0M167.8 690.1h0M148.7 694.4h0M161.5 725.6h0M158.8 710.8h0M154.5 690h0M151.5 710.7h0M142.9 725.5h0M160.9 708.1h0M146 711.1h0M136.3 711.8h0M169.5 715.7h0M188.4 723.2h0M171.9 702.6h0M147.7 700.5h0M186.4 725.8h0M141.2 698.1h0M128.2 722.9h0M181.5 714h0M154.8 722.8h0M161.1 720.5h0M175.4 709.6h0M179.8 702.1h0M175.8 705.6h0M189.7 720.9h0M143 708.3h0M145.2 693.2h0M144.1 697.7h0M141.7 696.1h0M172.9 688h0M143.6 723.6h0M175.7 690.8h0M173.4 680.8h0M163.8 708.1h0M158.6 696.3h0M157.1 703h0M165.6 669.5h0M157.3 696h0M163.7 724.2h0M151.3 721h0M151.5 685.8h0M131.4 712.3h0M167.4 696.3h0M126.8 725.3h0M146 723.8h0M130.7 713.2h0M137.9 718.9h0M175 723.2h0M147.9 708.3h0M133.8 708.1h0M171.6 678.6h0M163.7 677.3h0M144.4 706.9h0M178 688.8h0M136.8 717.3h0M141.4 716.2h0M175.7 700.8h0M155.5 725h0M144.3 714.3h0M163.5 713.5h0M132.8 711.6h0M143.3 704.6h0M132.5 722.1h0M150.4 681.7h0M165.4 717.5h0M174.6 696.1h0M140.4 719.1h0M126.2 721.2h0M162.3 707.4h0M167 698h0M149.1 683.1h0M123.4 727.3h0M130.7 715.3h0M172.2 688.3h0M170.3 713.9h0M189.4 726.6h0M140 706.1h0M185.3 725.6h0M151.3 718.1h0M150.4 696.6h0M157 681.4h0M194.6 722.5h0M172.9 703.5h0M163 666.4h0M169 703.1h0M148.3 691.8h0M190.4 717h0M154.4 722.8h0M186.7 723.1h0M143.2 694.6h0M168.4 681.8h0M179 691.6h0M178.8 712.1h0M169.2 704.3h0M135.2 706h0M157.6 724.9h0M159.6 703.7h0M182.6 720.3h0M150.1 707.6h0M153.8 688.5h0M164.2 718.2h0M147.6 717.8h0M181 709.7h0M162.8 700.4h0M190.3 720.9h0M132.8 721.2h0M180.3 712.8h0M170.5 702.7h0M172.7 686.3h0M171.9 685h0M154.5 720.2h0M150.2 694.4h0M129.2 719.9h0M166.1 694h0M145.1 720.3h0M130.5 716h0M176.2 704.6h0M192 714.8h0M180 711.6h0M148.4 706.7h0M143.7 723.7h0M183.5 723.2h0M179.3 707.5h0M170.1 684.2h0M168.8 725.9h0M186.3 712.2h0M169.7 683.1h0M167.8 691.8h0M160.8 678.1h0M187.2 707.9h0M173.2 699.6h0M159.3 692.2h0M165 714.3h0M174.4 703.4h0M181.2 707.8h0M147.4 703.2h0M157.8 725.4h0M168 724h0M152.8 720.6h0M157.7 701h0M161.7 684.4h0M163.7 672.7h0M143 697.4h0M160.3 689.9h0M177.6 727.4h0M153.4 693.6h0M150.5 706.1h0M168 726.4h0M139.6 711.1h0M143.8 696h0M174 695.7h0M172.7 719.5h0M164.2 700.1h0M194.2 725.5h0M169.2 679.3h0M153.5 721.4h0M171.7 721.5h0M175.9 726.6h0M186.1 725h0M159.6 714.1h0M161.4 678.3h0M196.7 721.1h0M178.5 691.2h0M161.1 695.5h0M147.5 695.4h0M180.8 705.4h0M167.1 715.5h0M182.2 698.4h0M167.2 681h0M163.2 684.2h0M193.2 718.3h0M144.9 697.4h0M175.4 686.8h0M182.9 700.1h0M183.8 718.4h0M156 711.4h0M150.7 706.1h0M133.8 721.5h0M137.7 726.3h0M147.4 694.1h0M161.3 677.9h0M128.9 721.4h0M174.5 692.9h0M172.2 696.9h0M154 706.2h0M177.8 717h0M168.5 680h0M142.8 705.4h0M149.1 715.1h0M134.7 707h0M164.3 683.2h0M183.9 709.1h0M169.8 695.6h0M185.7 723.8h0M170.1 693.5h0M151.3 719.6h0M171.4 726h0M171.9 709h0M146.6 723.4h0M168.6 719h0M178.6 710.3h0M179.7 706.3h0M171.5 702.3h0M155.9 718.6h0M166.7 723.7h0M147.6 691.2h0M185.3 723.7h0M131.8 720.9h0M162.1 672h0M135.6 726.4h0M127.6 722.8h0M164.2 692.4h0M140.1 711.9h0M178.2 707.1h0M143.5 708.1h0M181 716.1h0M182 716.1h0M156.6 675.3h0M146.7 693.2h0M176.7 725.7h0M170.5 684.8h0M159.7 727.1h0M158.2 700.9h0M164 714.5h0M167.8 705.5h0M182.5 699.9h0M169 696.1h0M167.9 687.4h0M137.6 717.2h0M176.9 706.4h0M152.2 715h0M168 705.5h0M138.4 710.8h0M158.5 671.5h0M144 713.1h0M147.5 688.3h0M149.7 691.3h0M169.6 688.5h0M168.7 706.8h0M164 696.3h0M135.3 705.9h0M177.2 696.5h0M169.2 677h0M136.3 713.6h0M156.7 696.8h0M185.9 706.3h0M128.8 717.4h0M156.5 698.4h0M155.4 681h0M158.3 698.9h0M187.3 725.2h0M149.8 685.3h0M153.6 675.2h0M180.2 703.8h0M187.7 715.5h0M149.4 699.6h0M171.2 698.1h0M190 719.6h0M152.5 724.4h0M193.8 719.4h0M174.7 704.4h0M130.8 721.6h0M168.2 685.8h0M140 723.5h0M189.1 710.3h0M180.4 693.2h0M143.8 695h0M167.5 700.8h0M165.1 714.3h0M162.2 704.2h0M127.5 725h0M164 699h0M191.4 719.7h0M182 712.9h0M159.5 709h0M165.5 707.8h0M165.9 683.4h0M148.5 717.5h0M185 704.8h0M149.7 692.7h0M171.8 685.5h0M153.6 685.5h0M190.6 727h0M162.3 687.5h0M188.3 725.8h0M167.7 679.1h0M158.4 686.8h0M155 688.4h0M181.2 717.6h0M130 719.5h0M147.6 701.3h0M166.7 672.9h0M169.3 716.1h0M151.8 714.7h0M173.6 687h0M166 669.5h0M158.3 724.1h0M169.2 678.9h0M159.5 723.9h0M171.8 718.3h0M163.2 665.6h0M168.8 701.3h0M166.7 687.6h0M191.4 714.3h0M166 710.7h0M152.5 709.3h0M149.2 701.8h0M160.9 706h0M145.5 706.7h0M177 695.6h0M177.2 698h0M126.1 724.7h0M164.1 708.7h0M163.8 700.6h0M137.6 714h0M144 713.5h0M173.4 685.9h0M130.8 717.8h0M145.8 726.3h0M171.6 679.5h0M173.7 682.6h0M175.3 718.1h0M163.1 678.8h0M131 718.6h0M167.1 691.2h0M160.8 715.9h0M171.2 697.6h0M159.6 721.2h0M160.1 709h0M154.5 700.7h0M154.6 721.3h0M165.6 682.4h0M169.6 694.5h0M140.1 726.9h0M148 714h0M152.3 697.6h0M148.1 708.7h0M176.6 712.7h0M185.1 718.9h0M160.7 724.4h0M149.8 707.9h0M181.9 701.9h0M164.1 680.1h0M149 707.4h0M152.2 682.9h0M156.7 702.2h0M161.3 699.3h0M163.5 715h0M190.9 726.1h0M168.6 717.2h0M169.3 693.1h0M176.1 714.6h0M164.2 678.8h0M163 677h0M172.9 722.3h0M146.3 715.4h0M153.2 691.7h0M162.9 674.3h0M143 703.5h0M193.5 721.8h0M132 722.9h0M170.4 710.3h0M167.3 714.7h0M166.6 705.6h0M166.1 690.8h0M173.3 683.1h0M152.6 686.6h0M148.7 709h0M179.4 705.7h0M147.3 726.8h0M177.2 709.1h0M137.5 715.9h0M174.5 718.2h0M169.4 707.5h0M173.2 719.8h0M144.1 724.6h0M145.1 719.4h0M135.2 711h0M155.4 722.8h0M163 725.5h0M157.6 699.2h0M160.3 712.1h0M156.5 680h0M166.6 693.3h0M177.2 711.5h0M127.4 718.9h0M159.1 679h0M156.5 727.4h0M169 683.5h0M164 668.7h0M151.8 679.8h0M169.9 678.2h0M138.3 722.6h0M191.5 725.1h0M173.1 684.4h0M164.8 667.4h0M141.1 698.8h0M160.6 676.9h0M171.1 704.6h0M171.9 693.3h0M156.3 712.4h0M153.2 704.2h0M171 685.6h0M170.1 701.9h0M168.5 697.6h0M172.1 696.3h0M182.4 706.9h0M159.4 709.2h0M166.6 690.3h0M170.5 726.5h0M163.4 714.9h0M148.3 711.7h0M157.2 688.2h0M182.1 712.4h0M160.7 727.3h0M136.1 710.4h0M186 723.1h0M152.6 675.3h0M180.2 724.6h0M188.6 715h0M132.3 720.1h0M174.5 727.3h0M179.2 699.2h0M150.5 702h0M159.6 724.1h0M158.8 707h0M165.9 710.5h0M163.3 721.7h0M166.4 710.9h0M139.2 707.3h0M156.8 699h0M162.6 694.6h0M139.2 703.3h0M141 699.6h0M160.7 714.6h0M167.6 685h0M152.5 681h0M166.3 682.6h0M151.8 690.7h0M162.3 709.1h0M180.7 724.8h0M156 727.1h0M155.2 692h0M156 677.5h0M150.1 709h0M169.4 726.1h0M153.1 725.4h0M186.6 714h0M146.1 727.1h0M160.9 701.5h0M138.7 704.7h0M132.4 720.6h0M155.9 715h0M146.4 711.9h0M131.8 714.1h0M150.8 694.9h0M171 686.9h0M178 726.9h0M164.2 715.6h0M152.5 715.6h0M140.5 717.1h0M185.4 716.2h0M181.7 710.6h0M168.1 682.7h0M163.6 726h0M158 671h0M170.3 722.2h0M166.4 692.2h0M162.3 695.6h0M166 724.3h0M148.7 713.3h0M183.1 717h0M162.7 702.9h0M171.6 689.6h0M186.1 706.7h0M150.3 696.4h0M167.3 684.6h0M180.3 718.8h0M173.1 689.5h0M150.9 719.5h0M165.1 701.3h0M138 702.6h0M142.4 706.8h0M133.8 715.7h0M164.9 704.5h0M158.9 667.1h0M151.1 716.1h0M168.5 676.8h0M166.9 683.2h0M185.7 702.1h0M149 688.8h0M175 704.7h0M158 680.3h0M153.7 699.8h0M169.1 719.8h0M143.5 720.8h0M175 718.8h0M156.8 689.1h0M198.2 727.2h0M177.8 722.6h0M170.4 713h0M154.2 710.7h0M165.6 684.8h0M152.7 716.5h0M161.5 684.5h0M188.8 718.3h0M147.2 725.5h0M191.8 722.4h0M153.6 681h0M171.8 690.7h0M147.3 720.6h0M181.5 723.2h0M193.6 726.2h0M168.2 676h0M167.5 727h0M166 700.3h0M164.2 722.1h0M184.8 700.8h0M170.4 688.8h0M171.2 704.6h0M175.9 688.4h0M173.2 689.6h0M168.8 711.4h0M148.7 686.4h0M177.7 707.9h0M190.3 721.1h0M173.2 697h0M179 699.8h0M165.4 682.1h0M141.2 721.3h0M184.7 706.8h0M163.8 719.6h0M173.4 727.2h0M129.3 718.5h0M150.5 718.6h0M172.5 680h0M159.8 664.3h0M156.8 691.4h0M166.6 696.1h0M151.2 711.7h0M147.5 707.3h0M156 675h0M163.3 682.4h0M173.4 706.8h0M171.3 694.5h0M176.8 708.5h0M188.3 711h0M151.4 712h0M189.4 711.7h0M135.2 725.8h0M147.8 690.6h0M148.3 706.5h0M189 711.8h0M146.9 690.3h0M149.5 695.2h0M158.3 720.9h0M140.6 713.4h0M178.9 700.6h0M182.8 718.7h0M165.5 675.9h0M191.3 717.9h0M162.3 691.7h0M153.1 725.1h0M141.1 714.5h0M171.7 723.6h0M176 714h0M185.7 719.9h0M141.6 702h0M160.1 676.8h0M162.7 727.3h0M187.3 712.9h0M167.2 717.4h0M130.3 718.9h0M169 724h0M160.8 685.7h0M173.6 683.4h0M150.5 681.6h0M148.7 706.3h0M170.1 722.9h0M131.4 719.6h0M143.9 725.9h0M154.5 711.3h0M143.6 725.6h0M151.3 708.9h0M167.3 695.9h0M174.4 702.5h0M146.4 690.3h0M143.4 700.6h0M168.2 678.1h0M184.2 717.2h0M153 702.5h0M146.4 694.9h0M157 697.8h0M140.3 709.8h0M158 675.4h0M151.1 691.6h0M173.3 703h0M187 707.3h0M196.3 721.6h0M179.5 713.4h0M176 725.7h0M174.5 689h0M157.9 690.5h0M141.3 714.8h0M142 695.7h0M157.5 681.2h0M161.4 709.6h0M152.5 712.2h0M142.6 709.7h0M146.4 688.3h0M155 711h0M169.7 706.3h0M157.5 681.9h0M158.6 677.3h0M171.6 686h0M170.7 686.1h0M160.9 718.8h0M195.4 724.9h0M171.8 711.3h0M169 703.3h0M159.6 677.1h0M157.4 703.2h0M150.4 705.7h0M185.1 701.9h0M149.2 705.4h0M161.4 660.3h0M138.1 702.2h0M182.1 726.3h0M158.6 721.6h0M160.5 716.6h0M177.1 727.1h0M161.7 703.6h0M156.3 725.1h0M171.4 699.2h0M154.6 689.5h0M180.3 716.2h0M182.2 705.3h0M196.8 726h0M147.6 707.3h0M175.3 716.3h0M173.3 691.5h0M154 708.8h0M145.8 719.6h0M181.3 695.9h0M184.8 716.5h0M162.1 706h0M163.6 679.8h0M159.9 694.6h0M159 696.3h0M159.3 702h0M191.7 717.4h0M186.6 703.7h0M148.4 714.1h0M195.2 719.3h0M169.1 714.8h0M189.4 715.8h0M144.3 713.6h0M178.2 694.6h0M144.9 699.2h0M182.1 727.2h0M175.8 709.5h0M195.8 721.8h0M164.5 718.4h0M165 706.6h0M166 681.3h0M157.8 716.1h0M175.6 690.5h0M178.9 719.9h0M150.4 697h0M147.4 692.7h0M142.2 703.1h0M171.5 705.1h0M150.6 684.4h0M175.2 696.6h0M157.6 717.7h0M185.9 716.9h0M160.8 707.7h0M162.4 719.7h0M161.8 686.2h0M149.8 688.2h0M153.8 703.1h0M172.5 709.4h0M177.1 701.9h0M152.9 702h0M192.5 719.4h0M152 705.3h0M134.7 720.8h0M142.6 699.1h0M146.3 702.2h0M173 706.9h0M159.7 709.9h0M161.1 689.7h0M164.4 681.3h0M172.4 704.6h0M159.7 668.2h0M173.7 684.5h0M150.3 709.5h0M173.7 697.2h0M192.2 715h0M146.6 693.5h0M157.6 716.9h0M141.2 723.4h0M150.2 709.3h0M177.1 716.2h0M164.8 679h0M156.2 685.3h0M160.6 692.3h0M139.4 723.8h0M154.3 680.7h0M158.6 702h0M130.7 717.1h0M158.5 695.4h0M175.1 720.2h0M177.5 689.8h0M176.3 699.9h0M166.8 684h0M181.3 714.1h0M163.5 705.5h0M161.6 691.2h0M167.1 679.7h0M165.2 694.9h0M142.4 713.4h0M185.7 723.8h0M131.3 715.9h0M193.4 724.1h0M138.7 723.5h0M137.8 707.3h0M181.2 717.4h0M194.8 726.6h0M137.5 710.2h0M152.5 709.6h0M160.2 708.6h0M164.5 697.6h0M135.3 712.4h0M168.1 677h0M141.9 700.3h0M157.8 689.2h0M177.1 692.1h0M153.3 700.1h0M147.6 716.4h0M171.4 694.3h0M168.9 709h0M133.4 710.1h0M153.1 704.8h0M174.9 686.4h0M157.7 700.3h0M149.4 684.7h0M131 722.2h0M186.4 714.4h0M159.5 681.7h0M150.6 679.2h0M166.8 709.1h0M150.1 687.2h0M163.5 717.9h0M158.5 706.5h0M170.7 676.1h0M145.9 726.9h0M184.9 705.8h0M178.4 698.5h0M183.2 715.8h0M170.2 716.2h0M130.4 724h0M162.7 707.8h0M174.4 721.5h0M153.2 697.4h0M167.1 670h0M145.2 721.6h0M143.5 725.4h0M144.2 693.4h0M152.8 706.7h0M171.3 699.6h0M181.8 705.2h0M170.7 726.5h0M128.9 716.2h0M167.8 699.1h0M146.2 709.8h0M161.9 704.6h0M124.4 725.1h0M152 715.5h0M167.4 721.8h0M166.6 704.9h0M154.5 690.8h0M160.3 671h0M143.2 726.1h0M132.3 719h0M182.7 721.4h0M172.6 694.5h0M186.5 725.2h0M136.4 709.9h0M150.6 687.7h0M135.4 710.1h0M190.2 720.1h0M130.9 722.5h0M154.4 680.8h0M174.2 720.9h0M181 716.3h0M174.9 726.1h0M178 699.6h0M172.2 678.9h0M152.4 680.5h0M176 704.9h0M150.1 699.8h0M126.7 726.3h0M168.7 705h0M156 724.7h0M160.6 698.9h0M132 721.9h0M182.2 699.1h0M166.1 678.1h0M158.2 709h0M148.8 694h0M154.6 699h0M147.6 696.7h0M159.4 709.5h0M176 718.2h0M142.6 708.7h0M170.8 681.8h0M169.9 700.7h0M167.4 695.4h0M187.6 713.2h0M172.9 708.5h0M151.6 701.6h0M157.7 696.7h0M166.2 712.7h0M150.3 726.8h0M156 685.9h0M177.8 699.6h0M149.5 700.3h0M168.2 723.2h0M185.8 714.1h0M166.2 700.9h0M168.8 724.8h0M161 689.1h0M147.7 688.4h0M162.7 671.5h0M131.2 712.9h0M143.2 722.6h0M136 721.3h0M134.8 726.1h0M177.4 717.8h0M151.2 714.8h0M130.2 725.4h0M196.3 723.1h0M140.1 697.7h0M152.2 715.8h0M166.4 712h0M180.8 709.4h0M162.7 678.4h0M174.4 715h0M140.8 697.2h0M164.7 716.9h0M164 695.1h0M135.8 720.6h0M126.1 722.4h0M165.7 684.7h0M190.5 724.7h0M155.7 707.3h0M173.2 685.1h0M159.6 686.5h0M154.2 711.5h0M145.1 721.9h0M137.3 725.7h0M151.3 712h0M175 711.6h0M157.9 672.8h0M143.8 724h0M176.9 694.9h0M152.2 684.6h0M189.9 720.7h0M161.7 684.5h0M173.3 712.7h0M152 711.4h0M175.2 687.6h0M173.5 714.4h0M188.6 725.9h0M157.6 701.6h0M174.3 689.2h0M184.8 719.9h0M166.6 713.2h0M157.2 681.1h0M140.9 701.9h0M145.5 716.2h0M151.6 696.4h0M179.6 707.2h0M176.7 719.7h0M151.5 721.9h0M156.6 718.2h0M161.6 676.2h0M173.6 705.7h0M151.6 704.4h0M163.9 668.7h0M150.3 680.2h0M162.5 681.9h0M168.5 692.4h0M153.4 704.8h0M186.6 723.9h0M175.8 698.6h0M185.1 701.8h0M182.5 722.8h0M173.4 711.3h0M167.6 706.4h0M150.1 716.4h0M139.3 704.5h0M172.2 707.2h0M149.6 689.9h0M158.1 705.7h0M143.4 700.1h0M193.3 722.8h0M136.7 721.5h0M190.3 727h0M176.9 699.9h0M151.5 704.6h0M162.5 700.5h0M183.2 721h0M129.2 722.3h0M153.1 703.3h0M172.6 702.5h0M179.1 705.3h0M145.5 703.5h0M165.6 671.5h0M161.1 702.7h0M184.5 720.2h0M187.9 725.5h0M164 714.4h0M173 721.7h0M152 715.4h0M184 703.6h0M161.2 717.6h0M154.7 720.2h0M166.3 722.6h0M156 683.8h0M182.4 714.6h0M184.6 720h0M153.5 687.6h0M155.9 702.9h0M161.3 706.8h0M184.5 716.8h0M152.8 679h0M164.1 714h0M187.7 727.4h0M151.1 724.5h0M171.5 707.2h0M145.6 705.8h0M160 727.1h0M154.5 681.7h0M177.8 714h0M161.3 704.1h0M166.9 718.6h0M166.1 717.6h0M161.6 663.8h0M175.7 690.3h0M155.1 718.8h0M181.7 699.5h0M158.6 673.2h0M172.2 700h0M169.7 726.3h0M157.4 686.4h0M153.9 702.3h0M174.1 709.5h0M161 667.1h0M176.1 714.2h0M188.1 712.7h0M142.4 694.6h0M165.6 688.8h0M167.3 716.6h0M165.2 721h0M156.1 701.6h0M150.1 718.7h0M161.4 690.8h0M165.5 680.5h0M172 704.6h0M161 726h0M163.8 677.8h0M157.8 704.1h0M193.4 720.9h0M160.2 710.2h0M160.8 710.8h0M181.5 712.1h0M145.3 716.9h0M185.2 711.1h0M173 695.2h0M159.2 707.6h0M161.9 715.4h0M153.2 725.3h0M137.5 709.2h0M169.6 703.4h0M167.5 682.6h0M161.3 665.7h0M187.6 721.4h0M129.8 719.7h0M180.6 693.5h0M139 711.6h0M165.1 725.7h0M148.4 686h0M167.1 692.1h0M149 714.9h0M161.7 664h0M179.5 711.3h0M181 714.7h0M138.3 725.4h0M171.6 712.4h0M165.6 684.8h0M157.8 694.3h0M155.9 687.9h0M161.7 668.7h0M166.6 687.5h0M154.2 710.3h0M173 685.1h0M174.4 696.3h0M155.7 701.6h0M142.6 698.9h0M164.9 697.5h0M137.3 720.6h0M168.1 684.9h0M145.9 710.3h0M160.2 695h0M162.6 703.3h0M153.7 717.5h0M132.5 711h0M138.6 722.6h0M140.7 722.6h0M170.2 680h0M192.4 720.7h0M171 680.4h0M164.6 724.3h0M145.2 711.8h0M180.5 701.6h0M134.5 722.2h0M183.7 723h0M179.9 697.5h0M146.5 686.6h0M183.3 725.7h0M166.9 694.7h0M151.6 724.9h0M156.9 698.9h0M167.7 694.2h0M186.6 706.2h0M147.1 708h0M179.5 699.9h0M137.9 719.5h0M156 688.7h0M165.9 725.4h0M136.3 723.6h0M182.6 720.2h0M146.6 696.1h0M137.6 713.7h0M171.4 714.2h0M158.5 698.9h0M193.6 722.3h0M164.5 727.1h0M155 715.3h0M135.2 718.1h0M146.7 685.5h0M158.7 684.7h0M177.1 709.9h0M163.4 712.9h0M148.9 681.6h0M170.3 704.1h0M168.2 683.7h0M165.9 694.5h0M141.1 725h0M136.2 722.3h0M181.3 695.8h0M163.1 678.7h0M199.4 725.8h0M172.9 691.4h0M159.1 667.9h0M164.1 683.7h0M145 704.6h0M163.9 670.4h0M176.1 696.6h0M168 682.7h0M171.9 717.1h0M166 722.9h0M140 698h0M167.6 681.7h0M146.8 726.7h0M174.9 705.3h0M181.1 699h0M165.1 693.9h0M163.6 708.7h0M150.2 709.6h0M166.2 696.9h0M151.2 711.1h0M153 695.3h0M156.7 671.3h0M160.9 687.3h0M131.5 727.3h0M162.2 683.9h0M184.9 722.3h0M185.6 706.8h0M154.2 684.2h0M182.1 719.3h0M150 712.9h0M161.5 725.3h0M161.1 677.6h0M150.6 681.4h0M162.1 675h0M163.5 691.1h0M189.3 709h0M166.7 686.8h0M182.7 715.6h0M169.8 677.9h0M160.5 694.1h0M169.7 726.2h0M152.2 722.6h0M175.4 697.5h0M152.8 701.2h0M180.2 709.7h0M134.9 713h0M173.5 711.1h0M172.6 685.1h0M170.2 688.7h0M145.3 722.5h0M160.6 708.7h0M164.3 682.7h0M192.5 725.4h0M166 691.5h0M135.6 717.6h0M159.3 689.5h0M155.9 699.1h0M186 704.3h0M169.1 705.7h0M190.4 716h0M140 713.2h0M170.4 704.3h0M143.6 710.1h0M170.6 708.8h0M158.4 715.7h0M157 714.2h0M135.9 707.8h0M153.4 698.2h0M161.3 663.8h0M172.9 709.5h0M164.5 707.4h0M151.3 706.5h0M135 719h0M138.2 721.1h0M147.9 692.2h0M142.8 727.1h0M154.2 685.6h0M162.3 724.1h0M167.3 697.4h0M174.9 715.4h0M161.8 673.7h0M141.7 709.1h0M167.1 716.6h0M146.9 693.2h0M160.4 704.8h0M139.9 717.5h0M153.2 687.8h0M135.1 724.9h0M177.9 701.7h0M181.7 720h0M128.8 721.6h0M155.3 689.8h0M156.6 711.8h0M192.7 714.3h0M159.4 713.4h0M172.9 725.4h0M144.2 696.1h0M170.9 716.8h0M172.7 692.9h0M146.3 687h0M164.9 668.3h0M164.3 683.1h0M147.1 726.4h0M165.6 701.5h0M147.4 718.5h0M156.5 717.9h0M141.8 695.5h0M147.4 726.9h0M163.1 701.2h0M150.4 702.2h0M160.7 723.3h0M169.8 714.9h0M181.4 714h0M156.6 689.2h0" stroke="#9c9c9c" stroke-width="2" stroke-linecap="round" fill="none"/>
<polygon points="83.3,750 161.4,615 239.5,750" fill="none" stroke="#222" stroke-width="0.8"/>
<line x1="231.7" y1="736.5" x2="235.2" y2="736.5" stroke="#4a4a4a" stroke-width="0.9"/>
<line x1="153.6" y1="628.5" x2="151.8" y2="625.5" stroke="#4a4a4a" stroke-width="0.9"/>
<line x1="98.9" y1="750" x2="97.2" y2="753" stroke="#4a4a4a" stroke-width="0.9"/>
<line x1="223.9" y1="723" x2="230.9" y2="723" stroke="#4a4a4a" stroke-width="0.9"/>
<text x="234.7" y="728.9" font-size="16.3">20</text>
<line x1="145.8" y1="642" x2="142.3" y2="635.9" stroke="#4a4a4a" stroke-width="0.9"/>
<text x="137.5" y="632.6" font-size="16.3" text-anchor="middle" transform="rotate(60 137.5 626.7)">20</text>
<line x1="114.5" y1="750" x2="111" y2="756.1" stroke="#4a4a4a" stroke-width="0.9"/>
<text x="107.7" y="768.4" font-size="16.3" text-anchor="middle" transform="rotate(-60 107.7 762.6)">20</text>
<line x1="216.1" y1="709.5" x2="219.6" y2="709.5" stroke="#4a4a4a" stroke-width="0.9"/>
<line x1="138" y1="655.5" x2="136.2" y2="652.5" stroke="#4a4a4a" stroke-width="0.9"/>
<line x1="130.2" y1="750" x2="128.4" y2="753" stroke="#4a4a4a" stroke-width="0.9"/>
<line x1="208.3" y1="696" x2="215.3" y2="696" stroke="#4a4a4a" stroke-width="0.9"/>
<text x="219.1" y="701.9" font-size="16.3">40</text>
<line x1="130.2" y1="669" x2="126.7" y2="662.9" stroke="#4a4a4a" stroke-width="0.9"/>
<text x="121.9" y="659.6" font-size="16.3" text-anchor="middle" transform="rotate(60 121.9 653.7)">40</text>
<line x1="145.8" y1="750" x2="142.3" y2="756.1" stroke="#4a4a4a" stroke-width="0.9"/>
<text x="138.9" y="768.4" font-size="16.3" text-anchor="middle" transform="rotate(-60 138.9 762.6)">40</text>
<line x1="200.4" y1="682.5" x2="203.9" y2="682.5" stroke="#4a4a4a" stroke-width="0.9"/>
<line x1="122.3" y1="682.5" x2="120.6" y2="679.5" stroke="#4a4a4a" stroke-width="0.9"/>
<line x1="161.4" y1="750" x2="159.7" y2="753" stroke="#4a4a4a" stroke-width="0.9"/>
<line x1="192.6" y1="669" x2="199.6" y2="669" stroke="#4a4a4a" stroke-width="0.9"/>
<text x="203.4" y="674.9" font-size="16.3">60</text>
<line x1="114.5" y1="696" x2="111" y2="689.9" stroke="#4a4a4a" stroke-width="0.9"/>
<text x="106.3" y="686.6" font-size="16.3" text-anchor="middle" transform="rotate(60 106.3 680.7)">60</text>
<line x1="177" y1="750" x2="173.5" y2="756.1" stroke="#4a4a4a" stroke-width="0.9"/>
<text x="170.1" y="768.4" font-size="16.3" text-anchor="middle" transform="rotate(-60 170.1 762.6)">60</text>
<line x1="184.8" y1="655.5" x2="188.3" y2="655.5" stroke="#4a4a4a" stroke-width="0.9"/>
<line x1="106.7" y1="709.5" x2="105" y2="706.5" stroke="#4a4a4a" stroke-width="0.9"/>
<line x1="192.6" y1="750" x2="190.9" y2="753" stroke="#4a4a4a" stroke-width="0.9"/>
<line x1="177" y1="642" x2="184" y2="642" stroke="#4a4a4a" stroke-width="0.9"/>
<text x="187.8" y="647.9" font-size="16.3">80</text>
<line x1="98.9" y1="723" x2="95.4" y2="716.9" stroke="#4a4a4a" stroke-width="0.9"/>
<text x="90.6" y="713.6" font-size="16.3" text-anchor="middle" transform="rotate(60 90.6 707.7)">80</text>
<line x1="208.3" y1="750" x2="204.8" y2="756.1" stroke="#4a4a4a" stroke-width="0.9"/>
<text x="201.4" y="768.4" font-size="16.3" text-anchor="middle" transform="rotate(-60 201.4 762.6)">80</text>
<line x1="169.2" y1="628.5" x2="172.7" y2="628.5" stroke="#4a4a4a" stroke-width="0.9"/>
<line x1="91.1" y1="736.5" x2="89.4" y2="733.5" stroke="#4a4a4a" stroke-width="0.9"/>
<line x1="223.9" y1="750" x2="222.1" y2="753" stroke="#4a4a4a" stroke-width="0.9"/>
<line x1="161.4" y1="615" x2="168.4" y2="615" stroke="#4a4a4a" stroke-width="0.9"/>
<text x="172.2" y="620.9" font-size="16.3">100</text>
<line x1="83.3" y1="750" x2="79.8" y2="743.9" stroke="#4a4a4a" stroke-width="0.9"/>
<text x="72.8" y="736.6" font-size="16.3" text-anchor="middle" transform="rotate(60 72.8 730.8)">100</text>
<line x1="239.5" y1="750" x2="236" y2="756.1" stroke="#4a4a4a" stroke-width="0.9"/>
<text x="230.4" y="772.3" font-size="16.3" text-anchor="middle" transform="rotate(-60 230.4 766.5)">100</text>
<text x="160" y="585" font-size="16.3" text-anchor="middle">Bulk root</text>
<text x="159.2" y="606" font-size="16.3" text-anchor="middle">B</text>
<text x="66" y="763.2" font-size="16.3" text-anchor="middle">A</text>
<text x="253.3" y="763.2" font-size="16.3" text-anchor="middle">D</text>
<text x="71.1" y="658" font-size="16" text-anchor="middle" transform="rotate(-58.6 71.1 652.3)">Proportion of</text>
<text x="83.6" y="664.2" font-size="16" text-anchor="middle" transform="rotate(-58.6 83.6 658.5)">gene expression (%)</text>
</g>
<g id="panel-g">
<text x="279.5" y="588" font-size="21" font-weight="bold">(g)</text>
<text x="365.2" y="622.3" font-size="16.3">Cells</text>
<line x1="365.2" y1="630.5" x2="420.9" y2="630.5" stroke="#000" stroke-width="1.3"/>
<polygon points="429.8,630.5 416.4,635.6 420.4,630.5 416.4,625.4" fill="#000"/>
<text x="332.5" y="671" font-size="16.3" text-anchor="middle" transform="rotate(-90 332.5 671)">Genes</text>
<line x1="341.3" y1="652.7" x2="341.3" y2="708.3" stroke="#000" stroke-width="1.3"/>
<polygon points="341.3,717.2 336.2,703.8 341.3,707.8 346.4,703.8" fill="#000"/>
<polygon points="358.9,651 385,651 396.2,647.6 370.1,647.6" fill="#b5cfeb" stroke="#333" stroke-width="0.7"/>
<polygon points="385,651 410.2,651 421.4,647.6 396.2,647.6" fill="#4f8fd0" stroke="#333" stroke-width="0.7"/>
<polygon points="410.2,651 436.3,651 447.5,647.6 421.4,647.6" fill="#c8dcf1" stroke="#333" stroke-width="0.7"/>
<polygon points="436.3,651 462.1,651 473.3,647.6 447.5,647.6" fill="#eaf1f9" stroke="#333" stroke-width="0.7"/>
<polygon points="462.1,651 473.3,647.6 473.3,669.1 462.1,672.5" fill="#eaf1f9" stroke="#333" stroke-width="0.7"/>
<polygon points="462.1,672.5 473.3,669.1 473.3,692.9 462.1,696.3" fill="#cfe0f2" stroke="#333" stroke-width="0.7"/>
<polygon points="462.1,696.3 473.3,692.9 473.3,717.1 462.1,720.5" fill="#6ea3d8" stroke="#333" stroke-width="0.7"/>
<polygon points="462.1,720.5 473.3,717.1 473.3,739.6 462.1,743" fill="#d5e3f4" stroke="#333" stroke-width="0.7"/>
<rect x="358.9" y="651" width="26.1" height="21.5" fill="#b5cfeb" stroke="#333" stroke-width="0.7"/>
<rect x="385" y="651" width="25.2" height="21.5" fill="#4f8fd0" stroke="#333" stroke-width="0.7"/>
<rect x="410.2" y="651" width="26.1" height="21.5" fill="#c8dcf1" stroke="#333" stroke-width="0.7"/>
<rect x="436.3" y="651" width="25.8" height="21.5" fill="#eaf1f9" stroke="#333" stroke-width="0.7"/>
<rect x="358.9" y="672.5" width="26.1" height="23.8" fill="#dfeaf6" stroke="#333" stroke-width="0.7"/>
<rect x="385" y="672.5" width="25.2" height="23.8" fill="#c8dcf1" stroke="#333" stroke-width="0.7"/>
<rect x="410.2" y="672.5" width="26.1" height="23.8" fill="#5b98d4" stroke="#333" stroke-width="0.7"/>
<rect x="436.3" y="672.5" width="25.8" height="23.8" fill="#cfe0f2" stroke="#333" stroke-width="0.7"/>
<rect x="358.9" y="696.3" width="26.1" height="24.2" fill="#5c97d3" stroke="#333" stroke-width="0.7"/>
<rect x="385" y="696.3" width="25.2" height="24.2" fill="#d5e3f4" stroke="#333" stroke-width="0.7"/>
<rect x="410.2" y="696.3" width="26.1" height="24.2" fill="#a8c7e8" stroke="#333" stroke-width="0.7"/>
<rect x="436.3" y="696.3" width="25.8" height="24.2" fill="#6ea3d8" stroke="#333" stroke-width="0.7"/>
<rect x="358.9" y="720.5" width="26.1" height="22.5" fill="#8fb6e0" stroke="#333" stroke-width="0.7"/>
<rect x="385" y="720.5" width="25.2" height="22.5" fill="#ffffff" stroke="#333" stroke-width="0.7"/>
<rect x="410.2" y="720.5" width="26.1" height="22.5" fill="#c0d6ee" stroke="#333" stroke-width="0.7"/>
<rect x="436.3" y="720.5" width="25.8" height="22.5" fill="#d5e3f4" stroke="#333" stroke-width="0.7"/>
<text transform="translate(526.1 703) scale(0.935 1)" font-size="57" text-anchor="middle" style="stroke-width:0.9px" stroke-linejoin="miter">&#931;</text>
<line x1="494.3" y1="718.2" x2="549.8" y2="718.2" stroke="#000" stroke-width="1.4"/>
<polygon points="558.8,718.2 545.2,723.6 549.3,718.2 545.2,712.8" fill="#000"/>
<g font-size="16.25" text-anchor="middle">
<text x="678" y="678.7">Average over genes to obtain</text>
<text x="678" y="698.2">ensemble cellular</text>
<text x="678" y="718.5">level divergence</text>
</g>
</g>
<g id="panel-h">
<text x="14.5" y="802" font-size="21" font-weight="bold">(h)</text>
<line x1="79" y1="978.3" x2="79" y2="902.8" stroke="#1f77c8" stroke-width="1.3" stroke-dasharray="3.4 2.2"/>
<line x1="92.8" y1="978.3" x2="92.8" y2="830" stroke="#1f77c8" stroke-width="1.3" stroke-dasharray="3.4 2.2"/>
<line x1="155.6" y1="978.3" x2="155.6" y2="829.6" stroke="#1f77c8" stroke-width="1.3" stroke-dasharray="3.4 2.2"/>
<line x1="234.6" y1="978.3" x2="234.6" y2="830" stroke="#1f77c8" stroke-width="1.3" stroke-dasharray="3.4 2.2"/>
<polyline points="76.3,971.5 76.6,955 77.1,938 77.8,920 79,902.8 80.3,883 82,864 84,849 86.5,838.5 89.5,832.8 92.8,830.6 97,830 105,829.9 245.6,829.9" fill="none" stroke="#b8413f" stroke-width="1.3" stroke-linejoin="round"/>
<ellipse cx="79" cy="902.8" rx="2.2" ry="3.1" fill="#1f77c8"/>
<ellipse cx="92.8" cy="830" rx="2.2" ry="3.1" fill="#1f77c8"/>
<ellipse cx="155.6" cy="829.6" rx="2.2" ry="3.1" fill="#1f77c8"/>
<ellipse cx="234.6" cy="830" rx="2.2" ry="3.1" fill="#1f77c8"/>
<line x1="67.3" y1="823.7" x2="67.3" y2="978.8" stroke="#333" stroke-width="1"/>
<line x1="66.8" y1="978.3" x2="245.6" y2="978.3" stroke="#333" stroke-width="1"/>
<g font-size="17.2" text-anchor="end" lengthAdjust="spacingAndGlyphs">
<line x1="64.3" y1="830.5" x2="67.3" y2="830.5" stroke="#333" stroke-width="1"/>
<text x="62.8" y="836.6" textLength="31.2" lengthAdjust="spacingAndGlyphs">1.00</text>
<line x1="64.3" y1="865.8" x2="67.3" y2="865.8" stroke="#333" stroke-width="1"/>
<text x="62.8" y="871.9" textLength="31.2" lengthAdjust="spacingAndGlyphs">0.75</text>
<line x1="64.3" y1="901" x2="67.3" y2="901" stroke="#333" stroke-width="1"/>
<text x="62.8" y="907.1" textLength="31.2" lengthAdjust="spacingAndGlyphs">0.50</text>
<line x1="64.3" y1="936.2" x2="67.3" y2="936.2" stroke="#333" stroke-width="1"/>
<text x="62.8" y="942.3" textLength="31.2" lengthAdjust="spacingAndGlyphs">0.25</text>
<line x1="64.3" y1="971.3" x2="67.3" y2="971.3" stroke="#333" stroke-width="1"/>
<text x="62.8" y="977.4" textLength="31.2" lengthAdjust="spacingAndGlyphs">0.00</text>
</g>
<g font-size="17.8" text-anchor="middle">
<line x1="76.3" y1="978.3" x2="76.3" y2="981.3" stroke="#333" stroke-width="1"/>
<text x="75.9" y="995.2" textLength="8.7" lengthAdjust="spacingAndGlyphs">0</text>
<line x1="92.8" y1="978.3" x2="92.8" y2="981.3" stroke="#333" stroke-width="1"/>
<text x="98.9" y="995.2" textLength="25.4" lengthAdjust="spacingAndGlyphs">100</text>
<line x1="155.6" y1="978.3" x2="155.6" y2="981.3" stroke="#333" stroke-width="1"/>
<text x="151" y="995.2" textLength="34.4" lengthAdjust="spacingAndGlyphs">1000</text>
<line x1="234.6" y1="978.3" x2="234.6" y2="981.3" stroke="#333" stroke-width="1"/>
<text x="230.1" y="995.2" textLength="43.6" lengthAdjust="spacingAndGlyphs">10000</text>
<text x="159.2" y="1015.4" textLength="94.5" lengthAdjust="spacingAndGlyphs">#&#160;triad genes</text>
</g>
<text x="19.8" y="901.3" font-size="17.2" text-anchor="middle" textLength="141.5" lengthAdjust="spacingAndGlyphs" transform="rotate(-90 19.8 901.3)">Family-wise error rate</text>
</g>
<g id="panel-i">
<text x="301" y="802" font-size="21" font-weight="bold">(i)</text>
<line x1="386.7" y1="867.9" x2="459.3" y2="994.7" stroke="#f1f1f1" stroke-width="0.6"/>
<line x1="321" y1="980.6" x2="467.5" y2="980.6" stroke="#f1f1f1" stroke-width="0.6"/>
<line x1="329.1" y1="994.7" x2="403" y2="867.9" stroke="#f1f1f1" stroke-width="0.6"/>
<line x1="378.5" y1="882" x2="443" y2="994.7" stroke="#f1f1f1" stroke-width="0.6"/>
<line x1="329.2" y1="966.5" x2="459.5" y2="966.5" stroke="#f1f1f1" stroke-width="0.6"/>
<line x1="345.4" y1="994.7" x2="411" y2="882" stroke="#f1f1f1" stroke-width="0.6"/>
<line x1="370.3" y1="896.1" x2="426.8" y2="994.7" stroke="#f1f1f1" stroke-width="0.6"/>
<line x1="337.4" y1="952.4" x2="451.4" y2="952.4" stroke="#f1f1f1" stroke-width="0.6"/>
<line x1="361.6" y1="994.7" x2="419.1" y2="896.1" stroke="#f1f1f1" stroke-width="0.6"/>
<line x1="362.1" y1="910.2" x2="410.5" y2="994.7" stroke="#f1f1f1" stroke-width="0.6"/>
<line x1="345.6" y1="938.3" x2="443.3" y2="938.3" stroke="#f1f1f1" stroke-width="0.6"/>
<line x1="377.9" y1="994.7" x2="427.2" y2="910.2" stroke="#f1f1f1" stroke-width="0.6"/>
<line x1="353.9" y1="924.2" x2="394.2" y2="994.7" stroke="#f1f1f1" stroke-width="0.6"/>
<line x1="353.9" y1="924.2" x2="435.2" y2="924.2" stroke="#f1f1f1" stroke-width="0.6"/>
<line x1="394.2" y1="994.7" x2="435.2" y2="924.2" stroke="#f1f1f1" stroke-width="0.6"/>
<line x1="345.6" y1="938.3" x2="377.9" y2="994.7" stroke="#f1f1f1" stroke-width="0.6"/>
<line x1="362.1" y1="910.2" x2="427.2" y2="910.2" stroke="#f1f1f1" stroke-width="0.6"/>
<line x1="410.5" y1="994.7" x2="443.3" y2="938.3" stroke="#f1f1f1" stroke-width="0.6"/>
<line x1="337.4" y1="952.4" x2="361.6" y2="994.7" stroke="#f1f1f1" stroke-width="0.6"/>
<line x1="370.3" y1="896.1" x2="419.1" y2="896.1" stroke="#f1f1f1" stroke-width="0.6"/>
<line x1="426.8" y1="994.7" x2="451.4" y2="952.4" stroke="#f1f1f1" stroke-width="0.6"/>
<line x1="329.2" y1="966.5" x2="345.4" y2="994.7" stroke="#f1f1f1" stroke-width="0.6"/>
<line x1="378.5" y1="882" x2="411" y2="882" stroke="#f1f1f1" stroke-width="0.6"/>
<line x1="443" y1="994.7" x2="459.5" y2="966.5" stroke="#f1f1f1" stroke-width="0.6"/>
<line x1="321" y1="980.6" x2="329.1" y2="994.7" stroke="#f1f1f1" stroke-width="0.6"/>
<line x1="386.7" y1="867.9" x2="403" y2="867.9" stroke="#f1f1f1" stroke-width="0.6"/>
<line x1="459.3" y1="994.7" x2="467.5" y2="980.6" stroke="#f1f1f1" stroke-width="0.6"/>
<polygon points="312.8,994.7 394.9,853.8 475.6,994.7" fill="none" stroke="#333" stroke-width="0.8"/>
<line x1="467.5" y1="980.6" x2="471" y2="980.6" stroke="#4a4a4a" stroke-width="0.9"/>
<line x1="386.7" y1="867.9" x2="384.9" y2="864.9" stroke="#4a4a4a" stroke-width="0.9"/>
<line x1="329.1" y1="994.7" x2="327.3" y2="997.7" stroke="#4a4a4a" stroke-width="0.9"/>
<line x1="459.5" y1="966.5" x2="466.5" y2="966.5" stroke="#4a4a4a" stroke-width="0.9"/>
<text x="471.3" y="972.4" font-size="16.3">20</text>
<line x1="378.5" y1="882" x2="375" y2="875.9" stroke="#4a4a4a" stroke-width="0.9"/>
<text x="370.2" y="872.5" font-size="16.3" text-anchor="middle" transform="rotate(60 370.2 866.7)">20</text>
<line x1="345.4" y1="994.7" x2="341.9" y2="1000.8" stroke="#4a4a4a" stroke-width="0.9"/>
<text x="338.5" y="1013.1" font-size="16.3" text-anchor="middle" transform="rotate(-60 338.5 1007.3)">20</text>
<line x1="451.4" y1="952.4" x2="454.9" y2="952.4" stroke="#4a4a4a" stroke-width="0.9"/>
<line x1="370.3" y1="896.1" x2="368.5" y2="893" stroke="#4a4a4a" stroke-width="0.9"/>
<line x1="361.6" y1="994.7" x2="359.9" y2="997.7" stroke="#4a4a4a" stroke-width="0.9"/>
<line x1="443.3" y1="938.3" x2="450.3" y2="938.3" stroke="#4a4a4a" stroke-width="0.9"/>
<text x="455.1" y="944.2" font-size="16.3">40</text>
<line x1="362.1" y1="910.2" x2="358.6" y2="904.1" stroke="#4a4a4a" stroke-width="0.9"/>
<text x="353.8" y="900.7" font-size="16.3" text-anchor="middle" transform="rotate(60 353.8 894.9)">40</text>
<line x1="377.9" y1="994.7" x2="374.4" y2="1000.8" stroke="#4a4a4a" stroke-width="0.9"/>
<text x="371" y="1013.1" font-size="16.3" text-anchor="middle" transform="rotate(-60 371 1007.3)">40</text>
<line x1="435.2" y1="924.2" x2="438.8" y2="924.2" stroke="#4a4a4a" stroke-width="0.9"/>
<line x1="353.9" y1="924.2" x2="352.1" y2="921.2" stroke="#4a4a4a" stroke-width="0.9"/>
<line x1="394.2" y1="994.7" x2="392.5" y2="997.7" stroke="#4a4a4a" stroke-width="0.9"/>
<line x1="427.2" y1="910.2" x2="434.2" y2="910.2" stroke="#4a4a4a" stroke-width="0.9"/>
<text x="439" y="916" font-size="16.3">60</text>
<line x1="345.6" y1="938.3" x2="342.1" y2="932.3" stroke="#4a4a4a" stroke-width="0.9"/>
<text x="337.4" y="928.9" font-size="16.3" text-anchor="middle" transform="rotate(60 337.4 923.1)">60</text>
<line x1="410.5" y1="994.7" x2="407" y2="1000.8" stroke="#4a4a4a" stroke-width="0.9"/>
<text x="403.6" y="1013.1" font-size="16.3" text-anchor="middle" transform="rotate(-60 403.6 1007.3)">60</text>
<line x1="419.1" y1="896.1" x2="422.6" y2="896.1" stroke="#4a4a4a" stroke-width="0.9"/>
<line x1="337.4" y1="952.4" x2="335.7" y2="949.4" stroke="#4a4a4a" stroke-width="0.9"/>
<line x1="426.8" y1="994.7" x2="425" y2="997.7" stroke="#4a4a4a" stroke-width="0.9"/>
<line x1="411" y1="882" x2="418" y2="882" stroke="#4a4a4a" stroke-width="0.9"/>
<text x="422.8" y="887.8" font-size="16.3">80</text>
<line x1="329.2" y1="966.5" x2="325.7" y2="960.5" stroke="#4a4a4a" stroke-width="0.9"/>
<text x="320.9" y="957.1" font-size="16.3" text-anchor="middle" transform="rotate(60 320.9 951.2)">80</text>
<line x1="443" y1="994.7" x2="439.5" y2="1000.8" stroke="#4a4a4a" stroke-width="0.9"/>
<text x="436.2" y="1013.1" font-size="16.3" text-anchor="middle" transform="rotate(-60 436.2 1007.3)">80</text>
<line x1="403" y1="867.9" x2="406.5" y2="867.9" stroke="#4a4a4a" stroke-width="0.9"/>
<line x1="321" y1="980.6" x2="319.3" y2="977.6" stroke="#4a4a4a" stroke-width="0.9"/>
<line x1="459.3" y1="994.7" x2="457.6" y2="997.7" stroke="#4a4a4a" stroke-width="0.9"/>
<line x1="394.9" y1="853.8" x2="401.9" y2="853.8" stroke="#4a4a4a" stroke-width="0.9"/>
<text x="406.7" y="859.7" font-size="16.3">100</text>
<line x1="312.8" y1="994.7" x2="309.3" y2="988.6" stroke="#4a4a4a" stroke-width="0.9"/>
<text x="302.3" y="981.3" font-size="16.3" text-anchor="middle" transform="rotate(60 302.3 975.5)">100</text>
<line x1="475.6" y1="994.7" x2="472.1" y2="1000.8" stroke="#4a4a4a" stroke-width="0.9"/>
<text x="466.5" y="1017" font-size="16.3" text-anchor="middle" transform="rotate(-60 466.5 1011.2)">100</text>
<path d="M364 908.3h0M360.8 913.6h0M357.9 919.2h0M356.5 921.6h0M354.9 924h0M352.2 929.4h0M349.3 934.2h0M344.5 942.5h0" stroke="#fdc62f" stroke-width="4" stroke-linecap="round" fill="none"/>
<path d="M421.4 901.6h0M423.6 904.8h0M425.5 907.5h0M428.4 912.8h0M434.3 923.5h0M438.3 931h0M442.8 938.7h0M446.6 944.9h0M422.5 903.2h0M424.4 906.1h0M426.8 910.1h0" stroke="#a6d89c" stroke-width="4" stroke-linecap="round" fill="none"/>
<path d="M383 994.2h0M388.9 994.2h0M394.7 994.2h0M396.9 994.2h0M399 994.2h0M404.9 994.2h0M407 994.2h0M412.4 994.2h0" stroke="#3cb6f6" stroke-width="4" stroke-linecap="round" fill="none"/>
<path d="M388.3 928.9h0M394.7 929.4h0M394.7 932.3h0M394.7 937.4h0M399 941.7h0M388.3 942.2h0M407.6 943.5h0M406.8 946.2h0M394.7 946.8h0M391 949.4h0M386.2 951.6h0M402.2 951.6h0M395.5 953.4h0M400.1 954.8h0M407.6 954.2h0M390.2 957.4h0M394.7 957.4h0M394.7 961.4h0" stroke="#a3a3a3" stroke-width="4" stroke-linecap="round" fill="none"/>
<circle cx="394.9" cy="853.8" r="1.8" fill="#54308f"/>
<circle cx="313.4" cy="994.1" r="1.9" fill="#5aa84b"/>
<circle cx="475.3" cy="994.1" r="1.9" fill="#f59432"/>
<text x="389.7" y="826.6" font-size="16.3" text-anchor="middle">One cell</text>
<text x="392" y="845.4" font-size="16.3" text-anchor="middle">B</text>
<text x="293.5" y="1010.3" font-size="16.3" text-anchor="middle">A</text>
<text x="490.8" y="1009.8" font-size="16.3" text-anchor="middle">D</text>
</g>
<g id="panel-j">
<text x="489.5" y="802" font-size="21" font-weight="bold">(j)</text>
<polygon points="573.4,980.4 573.4,951.6 574.6,929.1 576.4,899 578.5,866 580,853.4 581.2,849.8 582.4,851 583.6,855.2 585.4,863 589,881 592,896 595,912.6 598,926.1 600.4,931.5 602.5,934.2 605.5,941.7 610,950.1 614.5,956.4 619,961.2 623.6,966.9 628.1,972.3 632.6,975.9 637.1,978.3 643.1,980 652.1,980.4 748.1,980.4" fill="#b4cdee"/>
<polyline points="573.4,951.6 574.6,929.1 576.4,899 578.5,866 580,853.4 581.2,849.8 582.4,851 583.6,855.2 585.4,863 589,881 592,896 595,912.6 598,926.1 600.4,931.5 602.5,934.2 605.5,941.7 610,950.1 614.5,956.4 619,961.2 623.6,966.9 628.1,972.3 632.6,975.9 637.1,978.3 643.1,980 652.1,980.4 748.1,980.4" fill="none" stroke="#6c9bd6" stroke-width="1" stroke-linejoin="round"/>
<line x1="747.8" y1="838.5" x2="747.8" y2="980.5" stroke="#e98aa4" stroke-width="1" stroke-dasharray="2.4 2.4"/>
<line x1="565" y1="838.4" x2="565" y2="987.2" stroke="#333" stroke-width="1"/>
<line x1="564.5" y1="986.7" x2="756.5" y2="986.7" stroke="#333" stroke-width="1"/>
<g font-size="16.3" text-anchor="end">
<line x1="562" y1="980.1" x2="565" y2="980.1" stroke="#333" stroke-width="1"/>
<text x="561" y="985.9">0</text>
<line x1="562" y1="942.2" x2="565" y2="942.2" stroke="#333" stroke-width="1"/>
<text x="561" y="948">5</text>
<line x1="562" y1="904.4" x2="565" y2="904.4" stroke="#333" stroke-width="1"/>
<text x="561" y="910.2">10</text>
<line x1="562" y1="866.5" x2="565" y2="866.5" stroke="#333" stroke-width="1"/>
<text x="561" y="872.3">15</text>
</g>
<g font-size="16.3" text-anchor="middle">
<line x1="565" y1="986.7" x2="565" y2="989.7" stroke="#333" stroke-width="1"/>
<text x="565" y="1006.2">0</text>
<line x1="609.8" y1="986.7" x2="609.8" y2="989.7" stroke="#333" stroke-width="1"/>
<text x="609.8" y="1006.2">10</text>
<line x1="654.6" y1="986.7" x2="654.6" y2="989.7" stroke="#333" stroke-width="1"/>
<text x="654.6" y="1006.2">20</text>
<line x1="699.4" y1="986.7" x2="699.4" y2="989.7" stroke="#333" stroke-width="1"/>
<text x="699.4" y="1006.2">30</text>
<line x1="744.2" y1="986.7" x2="744.2" y2="989.7" stroke="#333" stroke-width="1"/>
<text x="744.2" y="1006.2">40</text>
</g>
<text x="667.3" y="822.7" font-size="16.3" text-anchor="middle">Single cell vs bulk</text>
<text x="625" y="865.4" font-size="16.2"><tspan font-style="italic">P</tspan> &lt; 2.2e-16</text>
<text x="610" y="930.6" font-size="16.2">Cells</text>
<line x1="618.4" y1="935" x2="603.4" y2="946.2" stroke="#000" stroke-width="1.3"/>
<text x="687.5" y="929.7" font-size="16.2">Bulk</text>
<line x1="722.6" y1="927.6" x2="742.1" y2="943.2" stroke="#000" stroke-width="1.3"/>
<text x="527.3" y="913.3" font-size="16.2" text-anchor="middle" transform="rotate(-90 527.3 913.3)">Density</text>
<text x="665.9" y="1028" font-size="16.3" text-anchor="middle">Proportion of divergent triads (%)</text>
</g>
</svg>
</body>
</html>
